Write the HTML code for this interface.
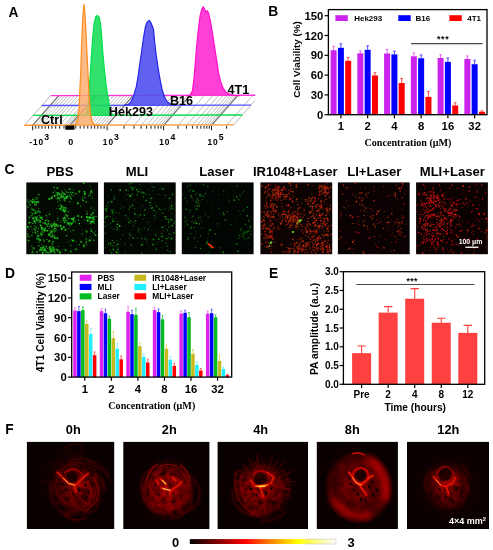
<!DOCTYPE html>
<html><head><meta charset="utf-8"><title>Figure</title>
<style>html,body{margin:0;padding:0;background:#fff}svg{display:block}</style>
</head><body>
<svg width="493" height="550" viewBox="0 0 493 550">
<defs>
<filter id="b05" x="-30%" y="-30%" width="160%" height="160%"><feGaussianBlur stdDeviation="0.5"/></filter>
<filter id="b1" x="-30%" y="-30%" width="160%" height="160%"><feGaussianBlur stdDeviation="0.7"/></filter>
<filter id="b2" x="-30%" y="-30%" width="160%" height="160%"><feGaussianBlur stdDeviation="1.3"/></filter>
<filter id="b3" x="-30%" y="-30%" width="160%" height="160%"><feGaussianBlur stdDeviation="2.5"/></filter>
<filter id="b03" x="-30%" y="-30%" width="160%" height="160%"><feGaussianBlur stdDeviation="0.3"/></filter>
<filter id="b15" x="-30%" y="-30%" width="160%" height="160%"><feGaussianBlur stdDeviation="1.0"/></filter>
<filter id="nz0" x="0" y="0" width="100%" height="100%"><feTurbulence type="fractalNoise" baseFrequency="0.17" numOctaves="3" seed="3" result="t"/><feColorMatrix in="t" type="matrix" values="0 0 0 0 1  0 0 0 0 0  0 0 0 0 0  2.2 0 0 0 -0.45" result="a"/><feComposite in="SourceGraphic" in2="a" operator="in"/><feGaussianBlur stdDeviation="0.5"/></filter>
<filter id="nz1" x="0" y="0" width="100%" height="100%"><feTurbulence type="fractalNoise" baseFrequency="0.18" numOctaves="3" seed="8" result="t"/><feColorMatrix in="t" type="matrix" values="0 0 0 0 1  0 0 0 0 0  0 0 0 0 0  2.2 0 0 0 -0.45" result="a"/><feComposite in="SourceGraphic" in2="a" operator="in"/><feGaussianBlur stdDeviation="0.5"/></filter>
<filter id="nz2" x="0" y="0" width="100%" height="100%"><feTurbulence type="fractalNoise" baseFrequency="0.18" numOctaves="3" seed="21" result="t"/><feColorMatrix in="t" type="matrix" values="0 0 0 0 1  0 0 0 0 0  0 0 0 0 0  2.2 0 0 0 -0.45" result="a"/><feComposite in="SourceGraphic" in2="a" operator="in"/><feGaussianBlur stdDeviation="0.5"/></filter>
<filter id="nz3" x="0" y="0" width="100%" height="100%"><feTurbulence type="fractalNoise" baseFrequency="0.1" numOctaves="3" seed="5" result="t"/><feColorMatrix in="t" type="matrix" values="0 0 0 0 1  0 0 0 0 0  0 0 0 0 0  2.2 0 0 0 -0.45" result="a"/><feComposite in="SourceGraphic" in2="a" operator="in"/><feGaussianBlur stdDeviation="0.5"/></filter>
<filter id="nz4" x="0" y="0" width="100%" height="100%"><feTurbulence type="fractalNoise" baseFrequency="0.15" numOctaves="3" seed="13" result="t"/><feColorMatrix in="t" type="matrix" values="0 0 0 0 1  0 0 0 0 0  0 0 0 0 0  2.2 0 0 0 -0.45" result="a"/><feComposite in="SourceGraphic" in2="a" operator="in"/><feGaussianBlur stdDeviation="0.5"/></filter>
<linearGradient id="hot" x1="0" x2="1" y1="0" y2="0"><stop offset="0" stop-color="#000"/><stop offset="0.12" stop-color="#500000"/><stop offset="0.38" stop-color="#ff0000"/><stop offset="0.55" stop-color="#ff8000"/><stop offset="0.74" stop-color="#ffff00"/><stop offset="0.88" stop-color="#ffff90"/><stop offset="1" stop-color="#ffffff"/></linearGradient>
</defs>
<rect width="493" height="550" fill="#fff"/>
<text x="8.60" y="16.90" font-size="13.8" font-weight="bold" text-anchor="start" fill="#000" font-family="'Liberation Sans', sans-serif" >A</text>
<text x="268.30" y="16.20" font-size="13.8" font-weight="bold" text-anchor="start" fill="#000" font-family="'Liberation Sans', sans-serif" >B</text>
<text x="4.60" y="174.00" font-size="13.8" font-weight="bold" text-anchor="start" fill="#000" font-family="'Liberation Sans', sans-serif" >C</text>
<text x="5.00" y="277.90" font-size="13.8" font-weight="bold" text-anchor="start" fill="#000" font-family="'Liberation Sans', sans-serif" >D</text>
<text x="269.00" y="277.60" font-size="13.8" font-weight="bold" text-anchor="start" fill="#000" font-family="'Liberation Sans', sans-serif" >E</text>
<text x="5.30" y="434.20" font-size="13.8" font-weight="bold" text-anchor="start" fill="#000" font-family="'Liberation Sans', sans-serif" >F</text>
<g id="pA">
<clipPath id="cA"><rect x="0" y="0" width="255.3" height="160"/></clipPath>
<g clip-path="url(#cA)">
<path d="M64.00 125.30l26.10 -29.70 M59.63 125.30l26.10 -29.70 M55.70 125.30l26.10 -29.70 M52.03 125.30l26.10 -29.70 M48.53 125.30l26.10 -29.70 M45.18 125.30l26.10 -29.70 M41.93 125.30l26.10 -29.70 M38.78 125.30l26.10 -29.70 M35.71 125.30l26.10 -29.70 M32.70 125.30l26.10 -29.70 M65.90 125.30l26.10 -29.70 M67.90 125.30l26.10 -29.70 M69.90 125.30l26.10 -29.70 M71.90 125.30l26.10 -29.70 M73.90 125.30l26.10 -29.70 M75.80 125.30l26.10 -29.70 M80.17 125.30l26.10 -29.70 M84.10 125.30l26.10 -29.70 M87.77 125.30l26.10 -29.70 M91.27 125.30l26.10 -29.70 M94.62 125.30l26.10 -29.70 M97.87 125.30l26.10 -29.70 M101.02 125.30l26.10 -29.70 M104.09 125.30l26.10 -29.70 M107.10 125.30l26.10 -29.70 M124.11 125.30l26.10 -29.70 M134.06 125.30l26.10 -29.70 M141.12 125.30l26.10 -29.70 M146.59 125.30l26.10 -29.70 M151.07 125.30l26.10 -29.70 M154.85 125.30l26.10 -29.70 M158.12 125.30l26.10 -29.70 M161.01 125.30l26.10 -29.70 M163.60 125.30l26.10 -29.70 M178.02 125.30l26.10 -29.70 M186.45 125.30l26.10 -29.70 M192.44 125.30l26.10 -29.70 M197.08 125.30l26.10 -29.70 M200.87 125.30l26.10 -29.70 M204.08 125.30l26.10 -29.70 M206.86 125.30l26.10 -29.70 M209.31 125.30l26.10 -29.70 M211.50 125.30l26.10 -29.70 M226.59 125.30l26.10 -29.70" stroke="#8c8c8c" stroke-width="0.55" fill="none"/>
<path d="M32.20 125.30l26.10 -29.70 M33.20 125.30l26.10 -29.70 M69.40 125.30l26.10 -29.70 M70.40 125.30l26.10 -29.70 M106.60 125.30l26.10 -29.70 M107.60 125.30l26.10 -29.70 M163.10 125.30l26.10 -29.70 M164.10 125.30l26.10 -29.70 M211.00 125.30l26.10 -29.70 M212.00 125.30l26.10 -29.70" stroke="#444" stroke-width="0.6" fill="none"/>
<path d="M24.5 125.3l26.10 -29.70M233.6 124.89999999999999l26.10 -29.70" stroke="#888" stroke-width="0.6" fill="none"/>
<path d="M50.60 95.60L259.70 95.20" stroke="#ff33dd" stroke-width="1.4" fill="none"/>
<path d="M186.00 95.60 L190.00 95.40 L192.40 90.90 L193.60 81.80 L194.50 72.70 L195.50 60.00 L196.70 45.50 L198.20 30.90 L200.00 16.40 L201.80 9.10 L203.30 6.70 L205.10 10.00 L205.80 12.40 L207.30 10.70 L208.70 13.60 L210.50 21.80 L212.70 34.50 L214.90 49.10 L216.90 61.80 L218.50 72.70 L220.40 80.90 L222.70 87.30 L225.50 91.80 L229.10 94.20 L233.60 95.30 L240.00 95.60 Z" fill="#ff38d4" fill-opacity="0.96" stroke="none"/>
<path d="M186.00 95.60 L190.00 95.40 L192.40 90.90 L193.60 81.80 L194.50 72.70 L195.50 60.00 L196.70 45.50 L198.20 30.90 L200.00 16.40 L201.80 9.10 L203.30 6.70 L205.10 10.00 L205.80 12.40 L207.30 10.70 L208.70 13.60 L210.50 21.80 L212.70 34.50 L214.90 49.10 L216.90 61.80 L218.50 72.70 L220.40 80.90 L222.70 87.30 L225.50 91.80 L229.10 94.20 L233.60 95.30 L240.00 95.60" fill="none" stroke="#ff10cc" stroke-width="1.2" stroke-linejoin="round"/>
<path d="M41.90 105.50L251.00 105.10" stroke="#5555ff" stroke-width="1.4" fill="none"/>
<path d="M124.00 105.40 L128.20 104.60 L131.30 101.30 L133.60 95.80 L136.40 86.40 L138.20 75.50 L140.00 62.70 L141.80 50.00 L143.60 37.30 L145.50 26.40 L146.90 22.40 L149.10 20.50 L150.90 22.70 L152.40 26.40 L153.60 30.00 L154.50 40.90 L156.00 53.60 L157.80 66.40 L160.00 79.10 L162.20 90.00 L164.50 97.30 L167.30 101.80 L170.90 104.40 L176.00 105.40 Z" fill="#5050f0" fill-opacity="0.9" stroke="none"/>
<path d="M124.00 105.40 L128.20 104.60 L131.30 101.30 L133.60 95.80 L136.40 86.40 L138.20 75.50 L140.00 62.70 L141.80 50.00 L143.60 37.30 L145.50 26.40 L146.90 22.40 L149.10 20.50 L150.90 22.70 L152.40 26.40 L153.60 30.00 L154.50 40.90 L156.00 53.60 L157.80 66.40 L160.00 79.10 L162.20 90.00 L164.50 97.30 L167.30 101.80 L170.90 104.40 L176.00 105.40" fill="none" stroke="#2525e8" stroke-width="1.2" stroke-linejoin="round"/>
<path d="M33.20 115.40L242.30 115.00" stroke="#00dd44" stroke-width="1.4" fill="none"/>
<path d="M82.00 115.30 L85.80 114.50 L87.30 109.00 L88.20 104.00 L89.30 89.80 L90.50 70.90 L91.70 52.00 L92.90 35.50 L94.10 23.60 L95.70 17.00 L97.40 15.40 L99.30 17.70 L100.50 23.60 L101.60 35.50 L102.80 52.00 L104.50 70.90 L106.40 87.50 L108.30 99.30 L109.90 108.70 L111.30 113.60 L113.50 115.20 L117.00 115.30 Z" fill="#14dd58" fill-opacity="0.88" stroke="none"/>
<path d="M82.00 115.30 L85.80 114.50 L87.30 109.00 L88.20 104.00 L89.30 89.80 L90.50 70.90 L91.70 52.00 L92.90 35.50 L94.10 23.60 L95.70 17.00 L97.40 15.40 L99.30 17.70 L100.50 23.60 L101.60 35.50 L102.80 52.00 L104.50 70.90 L106.40 87.50 L108.30 99.30 L109.90 108.70 L111.30 113.60 L113.50 115.20 L117.00 115.30" fill="none" stroke="#00e04a" stroke-width="1.2" stroke-linejoin="round"/>
<path d="M24.50 125.30L233.60 124.90" stroke="#ff9933" stroke-width="1.4" fill="none"/>
<path d="M71.00 125.30 L75.60 124.30 L78.00 118.20 L79.20 106.40 L79.90 89.80 L80.80 70.90 L81.50 47.30 L82.50 23.60 L83.40 9.50 L83.90 4.50 L84.60 9.50 L85.60 23.60 L86.70 47.30 L87.90 70.90 L89.10 94.60 L90.30 111.10 L91.70 120.60 L93.80 124.30 L96.90 125.20 L100.00 125.30 Z" fill="#fbaa68" fill-opacity="0.8" stroke="none"/>
<path d="M71.00 125.30 L75.60 124.30 L78.00 118.20 L79.20 106.40 L79.90 89.80 L80.80 70.90 L81.50 47.30 L82.50 23.60 L83.40 9.50 L83.90 4.50 L84.60 9.50 L85.60 23.60 L86.70 47.30 L87.90 70.90 L89.10 94.60 L90.30 111.10 L91.70 120.60 L93.80 124.30 L96.90 125.20 L100.00 125.30" fill="none" stroke="#ff8c1a" stroke-width="1.2" stroke-linejoin="round"/>
</g>
<path d="M64.00 125.90v2.8 M59.63 125.90v2.8 M55.70 125.90v2.8 M52.03 125.90v2.8 M48.53 125.90v2.8 M45.18 125.90v2.8 M41.93 125.90v2.8 M38.78 125.90v2.8 M35.71 125.90v2.8 M32.70 125.90v4.4 M75.80 125.90v2.8 M80.17 125.90v2.8 M84.10 125.90v2.8 M87.77 125.90v2.8 M91.27 125.90v2.8 M94.62 125.90v2.8 M97.87 125.90v2.8 M101.02 125.90v2.8 M104.09 125.90v2.8 M107.10 125.90v4.4 M124.11 125.90v2.8 M134.06 125.90v2.8 M141.12 125.90v2.8 M146.59 125.90v2.8 M151.07 125.90v2.8 M154.85 125.90v2.8 M158.12 125.90v2.8 M161.01 125.90v2.8 M163.60 125.90v4.4 M178.02 125.90v2.8 M186.45 125.90v2.8 M192.44 125.90v2.8 M197.08 125.90v2.8 M200.87 125.90v2.8 M204.08 125.90v2.8 M206.86 125.90v2.8 M209.31 125.90v2.8 M211.50 125.90v4.4 M226.59 125.90v2.8" stroke="#000" stroke-width="0.9" fill="none"/>
<path d="M65.90 125.60v4.2 M66.90 125.60v4.2 M67.90 125.60v4.2 M68.90 125.60v4.2 M69.90 125.60v4.2 M70.90 125.60v4.2 M71.90 125.60v4.2 M72.90 125.60v4.2 M73.90 125.60v4.2" stroke="#000" stroke-width="1.1" fill="none"/>
<text x="41.00" y="123.60" font-size="12.6" font-weight="bold" text-anchor="start" fill="#000" font-family="'Liberation Sans', sans-serif" >Ctrl</text>
<text x="108.80" y="115.80" font-size="12.6" font-weight="bold" text-anchor="start" fill="#000" font-family="'Liberation Sans', sans-serif" >Hek293</text>
<text x="170.00" y="104.60" font-size="12.6" font-weight="bold" text-anchor="start" fill="#000" font-family="'Liberation Sans', sans-serif" >B16</text>
<text x="227.60" y="94.10" font-size="12.6" font-weight="bold" text-anchor="start" fill="#000" font-family="'Liberation Sans', sans-serif" >4T1</text>
<text x="29.20" y="144.80" font-size="8.3" font-weight="bold" font-family="'Liberation Sans', sans-serif" letter-spacing="1.0">-10<tspan dy="-5.3" font-size="8.7">3</tspan></text>
<text x="70.80" y="144.80" font-size="9.0" font-weight="bold" text-anchor="middle" fill="#000" font-family="'Liberation Sans', sans-serif" >0</text>
<text x="102.80" y="144.80" font-size="8.3" font-weight="bold" font-family="'Liberation Sans', sans-serif" letter-spacing="1.0">10<tspan dy="-5.3" font-size="8.7">3</tspan></text>
<text x="159.20" y="144.80" font-size="8.3" font-weight="bold" font-family="'Liberation Sans', sans-serif" letter-spacing="1.0">10<tspan dy="-5.3" font-size="8.7">4</tspan></text>
<text x="207.40" y="144.80" font-size="8.3" font-weight="bold" font-family="'Liberation Sans', sans-serif" letter-spacing="1.0">10<tspan dy="-5.3" font-size="8.7">5</tspan></text>
</g>
<g id="pB">
<path d="M333.60 50.22V46.26M332.30 46.26h2.6" stroke="#ee55ee" stroke-width="0.9" fill="none"/>
<rect x="330.60" y="50.22" width="6.0" height="64.48" fill="#cc22ee"/>
<path d="M340.90 47.78V43.82M339.60 43.82h2.6" stroke="#3333ff" stroke-width="0.9" fill="none"/>
<rect x="337.90" y="47.78" width="6.0" height="66.92" fill="#0000ff"/>
<path d="M348.20 60.78V57.48M346.90 57.48h2.6" stroke="#ff3333" stroke-width="0.9" fill="none"/>
<rect x="345.20" y="60.78" width="6.0" height="53.92" fill="#ff0000"/>
<path d="M360.35 53.32V51.01M359.05 51.01h2.6" stroke="#ee55ee" stroke-width="0.9" fill="none"/>
<rect x="357.35" y="53.32" width="6.0" height="61.38" fill="#cc22ee"/>
<path d="M367.65 49.82V45.86M366.35 45.86h2.6" stroke="#3333ff" stroke-width="0.9" fill="none"/>
<rect x="364.65" y="49.82" width="6.0" height="64.88" fill="#0000ff"/>
<path d="M374.95 75.43V72.79M373.65 72.79h2.6" stroke="#ff3333" stroke-width="0.9" fill="none"/>
<rect x="371.95" y="75.43" width="6.0" height="39.27" fill="#ff0000"/>
<path d="M387.10 53.45V49.49M385.80 49.49h2.6" stroke="#ee55ee" stroke-width="0.9" fill="none"/>
<rect x="384.10" y="53.45" width="6.0" height="61.25" fill="#cc22ee"/>
<path d="M394.40 54.38V51.08M393.10 51.08h2.6" stroke="#3333ff" stroke-width="0.9" fill="none"/>
<rect x="391.40" y="54.38" width="6.0" height="60.32" fill="#0000ff"/>
<path d="M401.70 83.02V78.40M400.40 78.40h2.6" stroke="#ff3333" stroke-width="0.9" fill="none"/>
<rect x="398.70" y="83.02" width="6.0" height="31.68" fill="#ff0000"/>
<path d="M413.85 56.29V52.99M412.55 52.99h2.6" stroke="#ee55ee" stroke-width="0.9" fill="none"/>
<rect x="410.85" y="56.29" width="6.0" height="58.41" fill="#cc22ee"/>
<path d="M421.15 58.27V54.97M419.85 54.97h2.6" stroke="#3333ff" stroke-width="0.9" fill="none"/>
<rect x="418.15" y="58.27" width="6.0" height="56.43" fill="#0000ff"/>
<path d="M428.45 96.88V91.60M427.15 91.60h2.6" stroke="#ff3333" stroke-width="0.9" fill="none"/>
<rect x="425.45" y="96.88" width="6.0" height="17.82" fill="#ff0000"/>
<path d="M440.60 57.94V54.64M439.30 54.64h2.6" stroke="#ee55ee" stroke-width="0.9" fill="none"/>
<rect x="437.60" y="57.94" width="6.0" height="56.76" fill="#cc22ee"/>
<path d="M447.90 61.90V57.94M446.60 57.94h2.6" stroke="#3333ff" stroke-width="0.9" fill="none"/>
<rect x="444.90" y="61.90" width="6.0" height="52.80" fill="#0000ff"/>
<path d="M455.20 105.46V102.82M453.90 102.82h2.6" stroke="#ff3333" stroke-width="0.9" fill="none"/>
<rect x="452.20" y="105.46" width="6.0" height="9.24" fill="#ff0000"/>
<path d="M467.35 58.93V55.96M466.05 55.96h2.6" stroke="#ee55ee" stroke-width="0.9" fill="none"/>
<rect x="464.35" y="58.93" width="6.0" height="55.77" fill="#cc22ee"/>
<path d="M474.65 64.21V60.25M473.35 60.25h2.6" stroke="#3333ff" stroke-width="0.9" fill="none"/>
<rect x="471.65" y="64.21" width="6.0" height="50.49" fill="#0000ff"/>
<path d="M481.95 111.73V110.74M480.65 110.74h2.6" stroke="#ff3333" stroke-width="0.9" fill="none"/>
<rect x="478.95" y="111.73" width="6.0" height="2.97" fill="#ff0000"/>
<rect x="328.4" y="9.6" width="158.60000000000002" height="105.10000000000001" fill="none" stroke="#000" stroke-width="1.3"/>
<path d="M324.59999999999997 114.70H328.4" stroke="#000" stroke-width="1.2"/>
<text x="323.40" y="118.70" font-size="11.3" font-weight="bold" text-anchor="end" fill="#000" font-family="'Liberation Sans', sans-serif" >0</text>
<path d="M324.59999999999997 94.90H328.4" stroke="#000" stroke-width="1.2"/>
<text x="323.40" y="98.90" font-size="11.3" font-weight="bold" text-anchor="end" fill="#000" font-family="'Liberation Sans', sans-serif" >30</text>
<path d="M324.59999999999997 75.10H328.4" stroke="#000" stroke-width="1.2"/>
<text x="323.40" y="79.10" font-size="11.3" font-weight="bold" text-anchor="end" fill="#000" font-family="'Liberation Sans', sans-serif" >60</text>
<path d="M324.59999999999997 55.30H328.4" stroke="#000" stroke-width="1.2"/>
<text x="323.40" y="59.30" font-size="11.3" font-weight="bold" text-anchor="end" fill="#000" font-family="'Liberation Sans', sans-serif" >90</text>
<path d="M324.59999999999997 35.50H328.4" stroke="#000" stroke-width="1.2"/>
<text x="323.40" y="39.50" font-size="11.3" font-weight="bold" text-anchor="end" fill="#000" font-family="'Liberation Sans', sans-serif" >120</text>
<path d="M324.59999999999997 15.70H328.4" stroke="#000" stroke-width="1.2"/>
<text x="323.40" y="19.70" font-size="11.3" font-weight="bold" text-anchor="end" fill="#000" font-family="'Liberation Sans', sans-serif" >150</text>
<path d="M340.90 114.7v3.6" stroke="#000" stroke-width="1.2"/>
<text x="340.90" y="130.30" font-size="11.3" font-weight="bold" text-anchor="middle" fill="#000" font-family="'Liberation Sans', sans-serif" >1</text>
<path d="M367.65 114.7v3.6" stroke="#000" stroke-width="1.2"/>
<text x="367.65" y="130.30" font-size="11.3" font-weight="bold" text-anchor="middle" fill="#000" font-family="'Liberation Sans', sans-serif" >2</text>
<path d="M394.40 114.7v3.6" stroke="#000" stroke-width="1.2"/>
<text x="394.40" y="130.30" font-size="11.3" font-weight="bold" text-anchor="middle" fill="#000" font-family="'Liberation Sans', sans-serif" >4</text>
<path d="M421.15 114.7v3.6" stroke="#000" stroke-width="1.2"/>
<text x="421.15" y="130.30" font-size="11.3" font-weight="bold" text-anchor="middle" fill="#000" font-family="'Liberation Sans', sans-serif" >8</text>
<path d="M447.90 114.7v3.6" stroke="#000" stroke-width="1.2"/>
<text x="447.90" y="130.30" font-size="11.3" font-weight="bold" text-anchor="middle" fill="#000" font-family="'Liberation Sans', sans-serif" >16</text>
<path d="M474.65 114.7v3.6" stroke="#000" stroke-width="1.2"/>
<text x="474.65" y="130.30" font-size="11.3" font-weight="bold" text-anchor="middle" fill="#000" font-family="'Liberation Sans', sans-serif" >32</text>
<text x="408.00" y="145.70" font-size="10.15" font-weight="bold" text-anchor="middle" fill="#000" font-family="'Liberation Serif', serif" >Concentration (μM)</text>
<text transform="translate(300.1,59.5) rotate(-90)" font-size="9.9" font-weight="bold" text-anchor="middle" font-family="'Liberation Sans', sans-serif">Cell Viability (%)</text>
<rect x="335.4" y="15.2" width="12.4" height="5.8" fill="#cc22ee"/>
<text x="354.20" y="21.00" font-size="8.0" font-weight="bold" text-anchor="start" fill="#000" font-family="'Liberation Sans', sans-serif" >Hek293</text>
<rect x="398.3" y="15.2" width="12.4" height="5.8" fill="#0000ff"/>
<text x="415.60" y="21.00" font-size="8.0" font-weight="bold" text-anchor="start" fill="#000" font-family="'Liberation Sans', sans-serif" >B16</text>
<rect x="449.4" y="15.2" width="12.4" height="5.8" fill="#ff0000"/>
<text x="467.20" y="21.00" font-size="8.0" font-weight="bold" text-anchor="start" fill="#000" font-family="'Liberation Sans', sans-serif" >4T1</text>
<path d="M411 43.6H482.5" stroke="#4a4a4a" stroke-width="1.4"/>
<text x="443.20" y="42.40" font-size="8.8" font-weight="bold" text-anchor="middle" fill="#000" font-family="'Liberation Sans', sans-serif" letter-spacing="0.7">***</text>
</g>
<g id="pC">
<text x="60.00" y="175.80" font-size="13.1" font-weight="bold" text-anchor="middle" fill="#000" font-family="'Liberation Sans', sans-serif" >PBS</text>
<text x="137.00" y="175.80" font-size="13.1" font-weight="bold" text-anchor="middle" fill="#000" font-family="'Liberation Sans', sans-serif" >MLI</text>
<text x="216.80" y="175.80" font-size="13.1" font-weight="bold" text-anchor="middle" fill="#000" font-family="'Liberation Sans', sans-serif" >Laser</text>
<text x="295.30" y="175.80" font-size="13.1" font-weight="bold" text-anchor="middle" fill="#000" font-family="'Liberation Sans', sans-serif" >IR1048+Laser</text>
<text x="374.30" y="175.80" font-size="13.1" font-weight="bold" text-anchor="middle" fill="#000" font-family="'Liberation Sans', sans-serif" >LI+Laser</text>
<text x="452.30" y="175.80" font-size="13.1" font-weight="bold" text-anchor="middle" fill="#000" font-family="'Liberation Sans', sans-serif" >MLI+Laser</text>
<rect x="26.3" y="182.4" width="71.8" height="71.8" fill="#020a02"/>
<rect x="103.9" y="182.4" width="71.8" height="71.8" fill="#020702"/>
<rect x="181.8" y="182.4" width="71.8" height="71.8" fill="#020602"/>
<rect x="260.4" y="182.4" width="71.8" height="71.8" fill="#0d0302"/>
<rect x="337.9" y="182.4" width="71.8" height="71.8" fill="#0a0202"/>
<rect x="416.1" y="182.4" width="71.8" height="71.8" fill="#0b0101"/>
<g filter="url(#b05)">
<circle cx="94.1" cy="216.6" r="0.74" fill="rgb(24,190,17)"/>
<circle cx="66.9" cy="220.0" r="0.69" fill="rgb(17,133,29)"/>
<circle cx="54.8" cy="237.9" r="1.12" fill="rgb(22,198,31)"/>
<circle cx="92.9" cy="219.1" r="0.58" fill="rgb(41,118,22)"/>
<circle cx="40.1" cy="249.4" r="0.73" fill="rgb(17,199,26)"/>
<circle cx="40.4" cy="221.1" r="0.52" fill="rgb(32,147,36)"/>
<circle cx="43.0" cy="222.9" r="0.66" fill="rgb(36,152,14)"/>
<circle cx="71.5" cy="239.9" r="0.66" fill="rgb(24,124,36)"/>
<circle cx="36.1" cy="220.4" r="0.67" fill="rgb(20,130,19)"/>
<circle cx="54.9" cy="196.1" r="0.87" fill="rgb(40,139,28)"/>
<circle cx="43.4" cy="239.5" r="0.53" fill="rgb(25,168,12)"/>
<circle cx="52.4" cy="231.2" r="1.04" fill="rgb(23,141,24)"/>
<circle cx="69.5" cy="223.8" r="0.51" fill="rgb(25,133,26)"/>
<circle cx="46.7" cy="252.0" r="0.51" fill="rgb(25,126,30)"/>
<circle cx="56.1" cy="198.6" r="0.53" fill="rgb(42,190,38)"/>
<circle cx="50.8" cy="251.4" r="1.06" fill="rgb(27,193,35)"/>
<circle cx="53.3" cy="249.2" r="1.10" fill="rgb(17,176,25)"/>
<circle cx="57.3" cy="195.1" r="0.91" fill="rgb(28,165,25)"/>
<circle cx="86.4" cy="201.9" r="0.90" fill="rgb(20,123,19)"/>
<circle cx="35.2" cy="232.7" r="0.56" fill="rgb(13,141,14)"/>
<circle cx="72.3" cy="222.9" r="0.65" fill="rgb(20,188,14)"/>
<circle cx="95.7" cy="235.0" r="0.87" fill="rgb(20,189,30)"/>
<circle cx="70.7" cy="192.6" r="1.11" fill="rgb(16,117,27)"/>
<circle cx="37.4" cy="221.0" r="0.70" fill="rgb(14,162,40)"/>
<circle cx="79.2" cy="191.7" r="1.11" fill="rgb(34,158,14)"/>
<circle cx="91.4" cy="231.1" r="0.96" fill="rgb(12,178,31)"/>
<circle cx="53.4" cy="224.2" r="0.52" fill="rgb(28,129,40)"/>
<circle cx="42.4" cy="217.1" r="0.70" fill="rgb(17,174,28)"/>
<circle cx="56.2" cy="193.1" r="0.57" fill="rgb(19,204,27)"/>
<circle cx="61.3" cy="206.3" r="0.93" fill="rgb(40,158,27)"/>
<circle cx="34.9" cy="217.3" r="0.68" fill="rgb(24,211,40)"/>
<circle cx="36.1" cy="202.1" r="0.53" fill="rgb(14,159,34)"/>
<circle cx="52.2" cy="232.5" r="0.71" fill="rgb(38,142,24)"/>
<circle cx="65.5" cy="229.8" r="1.13" fill="rgb(32,172,14)"/>
<circle cx="31.3" cy="215.7" r="0.60" fill="rgb(31,160,32)"/>
<circle cx="66.9" cy="198.0" r="0.50" fill="rgb(27,149,36)"/>
<circle cx="57.4" cy="192.8" r="0.83" fill="rgb(35,198,14)"/>
<circle cx="30.8" cy="204.5" r="0.50" fill="rgb(14,175,17)"/>
<circle cx="34.1" cy="248.2" r="0.73" fill="rgb(22,211,24)"/>
<circle cx="38.2" cy="239.3" r="1.05" fill="rgb(20,164,26)"/>
<circle cx="92.0" cy="192.3" r="0.78" fill="rgb(33,179,26)"/>
<circle cx="57.3" cy="238.3" r="0.96" fill="rgb(19,206,18)"/>
<circle cx="55.1" cy="225.9" r="1.13" fill="rgb(28,156,34)"/>
<circle cx="40.4" cy="222.0" r="0.77" fill="rgb(29,213,27)"/>
<circle cx="42.0" cy="244.7" r="0.68" fill="rgb(23,119,29)"/>
<circle cx="51.6" cy="251.2" r="0.74" fill="rgb(45,207,38)"/>
<circle cx="74.2" cy="217.8" r="0.87" fill="rgb(26,212,26)"/>
<circle cx="35.5" cy="213.6" r="0.75" fill="rgb(28,186,21)"/>
<circle cx="54.8" cy="230.5" r="0.61" fill="rgb(45,133,20)"/>
<circle cx="28.5" cy="202.5" r="0.81" fill="rgb(14,118,28)"/>
<circle cx="69.7" cy="201.8" r="0.70" fill="rgb(29,166,19)"/>
<circle cx="51.3" cy="197.7" r="1.06" fill="rgb(45,175,22)"/>
<circle cx="73.2" cy="222.5" r="0.88" fill="rgb(14,117,18)"/>
<circle cx="60.0" cy="200.4" r="0.58" fill="rgb(18,178,27)"/>
<circle cx="57.3" cy="195.2" r="0.56" fill="rgb(39,182,12)"/>
<circle cx="48.5" cy="223.6" r="0.56" fill="rgb(25,195,28)"/>
<circle cx="89.4" cy="217.4" r="1.07" fill="rgb(34,195,40)"/>
<circle cx="90.3" cy="193.2" r="0.95" fill="rgb(18,139,16)"/>
<circle cx="67.6" cy="197.0" r="0.69" fill="rgb(20,168,18)"/>
<circle cx="41.4" cy="234.5" r="0.87" fill="rgb(19,161,34)"/>
<circle cx="39.4" cy="249.8" r="0.55" fill="rgb(42,124,15)"/>
<circle cx="38.7" cy="245.8" r="0.72" fill="rgb(23,139,15)"/>
<circle cx="64.0" cy="249.5" r="0.52" fill="rgb(20,122,33)"/>
<circle cx="45.9" cy="252.8" r="0.74" fill="rgb(25,170,31)"/>
<circle cx="41.2" cy="235.0" r="0.67" fill="rgb(35,161,24)"/>
<circle cx="69.7" cy="189.2" r="0.96" fill="rgb(17,156,37)"/>
<circle cx="61.7" cy="207.1" r="0.93" fill="rgb(19,150,35)"/>
<circle cx="64.9" cy="207.7" r="0.62" fill="rgb(35,183,36)"/>
<circle cx="64.1" cy="209.8" r="0.96" fill="rgb(42,153,15)"/>
<circle cx="46.9" cy="219.7" r="0.57" fill="rgb(31,200,22)"/>
<circle cx="52.3" cy="225.5" r="0.74" fill="rgb(25,178,34)"/>
<circle cx="49.2" cy="223.1" r="0.52" fill="rgb(28,145,26)"/>
<circle cx="64.3" cy="198.3" r="0.52" fill="rgb(29,147,40)"/>
<circle cx="87.5" cy="220.3" r="1.01" fill="rgb(40,127,37)"/>
<circle cx="87.0" cy="211.3" r="0.66" fill="rgb(36,135,27)"/>
<circle cx="87.7" cy="221.3" r="0.80" fill="rgb(43,169,25)"/>
<circle cx="49.1" cy="228.6" r="0.72" fill="rgb(30,149,33)"/>
<circle cx="39.6" cy="220.0" r="0.51" fill="rgb(38,135,36)"/>
<circle cx="59.6" cy="198.3" r="0.79" fill="rgb(32,207,14)"/>
<circle cx="32.8" cy="199.8" r="0.93" fill="rgb(45,120,15)"/>
<circle cx="78.2" cy="216.0" r="1.13" fill="rgb(19,146,13)"/>
<circle cx="69.9" cy="223.3" r="0.75" fill="rgb(35,130,26)"/>
<circle cx="45.6" cy="220.6" r="0.87" fill="rgb(45,161,38)"/>
<circle cx="94.7" cy="235.1" r="0.58" fill="rgb(44,129,40)"/>
<circle cx="71.7" cy="218.9" r="0.81" fill="rgb(24,207,32)"/>
<circle cx="38.3" cy="202.0" r="0.84" fill="rgb(14,140,32)"/>
<circle cx="31.0" cy="222.5" r="0.52" fill="rgb(29,184,14)"/>
<circle cx="89.6" cy="240.5" r="1.13" fill="rgb(42,176,23)"/>
<circle cx="36.1" cy="211.5" r="0.51" fill="rgb(40,130,37)"/>
<circle cx="50.1" cy="246.8" r="0.92" fill="rgb(21,164,23)"/>
<circle cx="44.9" cy="248.5" r="0.93" fill="rgb(39,138,32)"/>
<circle cx="64.0" cy="194.4" r="0.52" fill="rgb(43,187,38)"/>
<circle cx="36.6" cy="218.0" r="0.56" fill="rgb(17,199,34)"/>
<circle cx="35.3" cy="230.1" r="0.54" fill="rgb(32,160,23)"/>
<circle cx="49.5" cy="214.1" r="0.80" fill="rgb(29,202,26)"/>
<circle cx="49.0" cy="234.8" r="1.12" fill="rgb(45,208,19)"/>
<circle cx="58.9" cy="250.6" r="0.79" fill="rgb(35,139,37)"/>
<circle cx="62.3" cy="207.4" r="0.52" fill="rgb(30,173,37)"/>
<circle cx="86.9" cy="217.2" r="1.12" fill="rgb(39,198,14)"/>
<circle cx="32.6" cy="218.6" r="0.59" fill="rgb(32,128,14)"/>
<circle cx="46.8" cy="239.6" r="0.68" fill="rgb(26,206,27)"/>
<circle cx="91.2" cy="215.1" r="0.63" fill="rgb(20,157,27)"/>
<circle cx="57.3" cy="251.7" r="0.51" fill="rgb(34,211,39)"/>
<circle cx="56.2" cy="226.4" r="0.76" fill="rgb(45,118,23)"/>
<circle cx="43.3" cy="251.3" r="0.54" fill="rgb(22,209,32)"/>
<circle cx="64.4" cy="210.8" r="0.60" fill="rgb(42,122,21)"/>
<circle cx="41.8" cy="227.8" r="1.07" fill="rgb(41,211,12)"/>
<circle cx="90.0" cy="237.0" r="0.55" fill="rgb(27,142,31)"/>
<circle cx="91.3" cy="220.3" r="0.60" fill="rgb(31,137,32)"/>
<circle cx="44.3" cy="250.2" r="1.04" fill="rgb(17,158,27)"/>
<circle cx="52.0" cy="226.2" r="0.96" fill="rgb(45,182,36)"/>
<circle cx="50.0" cy="231.9" r="0.50" fill="rgb(35,175,26)"/>
<circle cx="34.1" cy="232.2" r="0.54" fill="rgb(21,156,20)"/>
<circle cx="84.5" cy="191.8" r="0.92" fill="rgb(29,194,28)"/>
<circle cx="63.7" cy="208.1" r="0.98" fill="rgb(20,134,14)"/>
<circle cx="75.5" cy="193.6" r="0.88" fill="rgb(44,125,21)"/>
<circle cx="65.0" cy="211.8" r="0.95" fill="rgb(25,171,13)"/>
<circle cx="94.3" cy="223.4" r="0.61" fill="rgb(37,154,14)"/>
<circle cx="50.8" cy="232.9" r="0.51" fill="rgb(18,132,33)"/>
<circle cx="78.6" cy="220.1" r="0.84" fill="rgb(36,116,34)"/>
<circle cx="29.1" cy="201.5" r="0.50" fill="rgb(25,207,40)"/>
<circle cx="32.5" cy="223.5" r="0.61" fill="rgb(37,158,29)"/>
<circle cx="35.6" cy="212.6" r="0.62" fill="rgb(42,150,35)"/>
<circle cx="67.7" cy="223.3" r="0.82" fill="rgb(23,131,17)"/>
<circle cx="52.4" cy="196.5" r="0.52" fill="rgb(22,119,15)"/>
<circle cx="36.3" cy="197.2" r="0.54" fill="rgb(36,203,27)"/>
<circle cx="56.5" cy="224.4" r="0.88" fill="rgb(27,215,33)"/>
<circle cx="64.3" cy="201.1" r="0.55" fill="rgb(40,154,15)"/>
<circle cx="31.7" cy="208.0" r="0.52" fill="rgb(22,206,20)"/>
<circle cx="82.2" cy="234.3" r="0.73" fill="rgb(24,133,28)"/>
<circle cx="77.0" cy="249.6" r="0.78" fill="rgb(24,118,36)"/>
<circle cx="27.6" cy="199.9" r="0.62" fill="rgb(29,161,26)"/>
<circle cx="68.9" cy="218.6" r="0.78" fill="rgb(16,184,29)"/>
<circle cx="38.4" cy="235.9" r="1.05" fill="rgb(21,157,15)"/>
<circle cx="46.7" cy="251.2" r="0.80" fill="rgb(41,124,13)"/>
<circle cx="70.8" cy="245.3" r="0.53" fill="rgb(36,211,31)"/>
<circle cx="53.6" cy="250.1" r="0.71" fill="rgb(45,133,24)"/>
<circle cx="50.1" cy="225.9" r="0.58" fill="rgb(15,157,32)"/>
<circle cx="38.6" cy="229.0" r="0.73" fill="rgb(42,128,23)"/>
<circle cx="83.7" cy="183.3" r="0.92" fill="rgb(41,177,38)"/>
<circle cx="75.9" cy="241.6" r="0.53" fill="rgb(45,129,22)"/>
<circle cx="73.0" cy="219.6" r="0.51" fill="rgb(39,207,35)"/>
<circle cx="38.5" cy="211.1" r="1.03" fill="rgb(19,146,39)"/>
<circle cx="68.1" cy="222.8" r="0.88" fill="rgb(27,182,29)"/>
<circle cx="51.6" cy="225.6" r="1.07" fill="rgb(35,200,39)"/>
<circle cx="93.3" cy="222.3" r="0.68" fill="rgb(16,130,15)"/>
<circle cx="68.4" cy="192.5" r="0.70" fill="rgb(27,152,35)"/>
<circle cx="44.8" cy="223.2" r="0.98" fill="rgb(21,165,23)"/>
<circle cx="31.8" cy="209.7" r="0.61" fill="rgb(43,156,16)"/>
<circle cx="96.5" cy="216.3" r="0.56" fill="rgb(15,152,18)"/>
<circle cx="50.2" cy="249.6" r="0.83" fill="rgb(24,204,29)"/>
<circle cx="64.2" cy="207.7" r="0.52" fill="rgb(32,207,40)"/>
<circle cx="72.7" cy="219.1" r="1.11" fill="rgb(40,214,25)"/>
<circle cx="31.1" cy="212.2" r="0.56" fill="rgb(27,138,28)"/>
<circle cx="42.7" cy="253.0" r="1.04" fill="rgb(45,190,19)"/>
<circle cx="90.6" cy="195.4" r="0.57" fill="rgb(17,131,26)"/>
<circle cx="57.9" cy="220.3" r="0.75" fill="rgb(12,120,31)"/>
<circle cx="87.2" cy="220.2" r="0.54" fill="rgb(24,211,19)"/>
<circle cx="48.3" cy="235.7" r="0.54" fill="rgb(41,119,36)"/>
<circle cx="64.0" cy="194.6" r="0.51" fill="rgb(35,214,22)"/>
<circle cx="41.6" cy="249.5" r="1.01" fill="rgb(45,202,35)"/>
<circle cx="38.8" cy="238.4" r="0.54" fill="rgb(39,192,19)"/>
<circle cx="90.7" cy="223.4" r="0.90" fill="rgb(43,148,29)"/>
<circle cx="90.1" cy="218.3" r="0.80" fill="rgb(15,206,30)"/>
<circle cx="83.8" cy="244.7" r="0.81" fill="rgb(44,170,26)"/>
<circle cx="52.4" cy="250.2" r="0.55" fill="rgb(27,196,31)"/>
<circle cx="40.0" cy="220.7" r="0.82" fill="rgb(28,182,36)"/>
<circle cx="63.9" cy="193.5" r="0.58" fill="rgb(43,135,34)"/>
<circle cx="82.5" cy="198.9" r="0.71" fill="rgb(25,204,34)"/>
<circle cx="29.3" cy="217.5" r="0.93" fill="rgb(21,132,35)"/>
<circle cx="53.9" cy="250.4" r="1.05" fill="rgb(17,133,24)"/>
<circle cx="81.7" cy="217.1" r="0.86" fill="rgb(26,206,21)"/>
<circle cx="91.1" cy="221.9" r="1.09" fill="rgb(31,161,22)"/>
<circle cx="92.6" cy="198.1" r="0.54" fill="rgb(15,189,35)"/>
<circle cx="42.8" cy="228.9" r="1.04" fill="rgb(37,174,38)"/>
<circle cx="56.4" cy="225.3" r="0.58" fill="rgb(22,185,27)"/>
<circle cx="29.9" cy="204.9" r="0.69" fill="rgb(23,195,39)"/>
<circle cx="90.0" cy="218.8" r="0.59" fill="rgb(13,150,28)"/>
<circle cx="34.8" cy="221.6" r="1.09" fill="rgb(20,161,36)"/>
<circle cx="72.4" cy="218.4" r="0.58" fill="rgb(15,181,21)"/>
<circle cx="35.9" cy="204.8" r="0.80" fill="rgb(25,119,21)"/>
<circle cx="67.3" cy="216.8" r="0.76" fill="rgb(40,155,33)"/>
<circle cx="90.9" cy="228.9" r="0.70" fill="rgb(36,132,28)"/>
<circle cx="32.4" cy="208.9" r="0.57" fill="rgb(13,120,35)"/>
<circle cx="94.1" cy="210.1" r="0.61" fill="rgb(16,200,39)"/>
<circle cx="29.0" cy="222.9" r="1.03" fill="rgb(28,145,14)"/>
<circle cx="54.7" cy="195.5" r="1.08" fill="rgb(43,151,34)"/>
<circle cx="61.3" cy="209.9" r="0.54" fill="rgb(27,200,28)"/>
<circle cx="34.2" cy="220.9" r="0.79" fill="rgb(31,204,34)"/>
<circle cx="91.1" cy="191.0" r="1.06" fill="rgb(29,166,13)"/>
<circle cx="67.8" cy="196.0" r="0.65" fill="rgb(28,153,38)"/>
<circle cx="60.2" cy="208.9" r="1.11" fill="rgb(13,161,30)"/>
<circle cx="34.7" cy="204.7" r="0.76" fill="rgb(38,193,14)"/>
<circle cx="53.9" cy="247.9" r="1.06" fill="rgb(20,119,33)"/>
<circle cx="28.8" cy="228.8" r="0.54" fill="rgb(29,139,19)"/>
<circle cx="59.9" cy="252.5" r="1.04" fill="rgb(33,203,20)"/>
<circle cx="83.8" cy="246.3" r="0.88" fill="rgb(22,202,18)"/>
<circle cx="61.5" cy="206.2" r="0.78" fill="rgb(38,162,21)"/>
<circle cx="27.8" cy="234.2" r="0.64" fill="rgb(23,205,28)"/>
<circle cx="39.4" cy="215.5" r="0.86" fill="rgb(22,120,31)"/>
<circle cx="53.9" cy="250.6" r="0.73" fill="rgb(37,203,20)"/>
<circle cx="32.7" cy="199.1" r="0.63" fill="rgb(25,212,38)"/>
<circle cx="71.4" cy="194.8" r="0.53" fill="rgb(29,209,37)"/>
<circle cx="30.9" cy="200.7" r="0.84" fill="rgb(42,116,30)"/>
<circle cx="53.9" cy="248.9" r="0.59" fill="rgb(37,147,24)"/>
<circle cx="67.3" cy="196.0" r="0.91" fill="rgb(37,130,22)"/>
<circle cx="86.1" cy="243.8" r="0.55" fill="rgb(31,123,26)"/>
<circle cx="47.9" cy="252.7" r="0.82" fill="rgb(21,212,30)"/>
<circle cx="68.2" cy="211.9" r="0.58" fill="rgb(39,177,15)"/>
<circle cx="86.4" cy="245.1" r="0.59" fill="rgb(29,166,22)"/>
<circle cx="66.8" cy="224.5" r="0.51" fill="rgb(12,123,40)"/>
<circle cx="42.9" cy="234.2" r="0.53" fill="rgb(24,215,39)"/>
<circle cx="57.3" cy="198.7" r="0.77" fill="rgb(28,142,20)"/>
<circle cx="36.4" cy="227.5" r="0.78" fill="rgb(15,207,17)"/>
<circle cx="60.0" cy="194.9" r="0.71" fill="rgb(16,141,23)"/>
<circle cx="93.0" cy="213.0" r="0.91" fill="rgb(31,166,37)"/>
<circle cx="40.7" cy="225.7" r="1.09" fill="rgb(37,176,38)"/>
<circle cx="34.3" cy="203.3" r="0.78" fill="rgb(32,144,24)"/>
<circle cx="66.7" cy="235.8" r="0.82" fill="rgb(34,172,21)"/>
<circle cx="86.2" cy="239.0" r="0.63" fill="rgb(23,209,18)"/>
<circle cx="60.7" cy="197.4" r="0.63" fill="rgb(21,134,23)"/>
<circle cx="75.3" cy="222.2" r="0.67" fill="rgb(25,156,12)"/>
<circle cx="36.4" cy="217.7" r="1.14" fill="rgb(42,170,19)"/>
<circle cx="58.3" cy="246.4" r="0.51" fill="rgb(32,164,40)"/>
<circle cx="54.3" cy="223.9" r="0.83" fill="rgb(15,163,18)"/>
<circle cx="30.0" cy="222.3" r="0.68" fill="rgb(19,187,15)"/>
<circle cx="27.9" cy="236.3" r="0.68" fill="rgb(44,164,19)"/>
<circle cx="69.1" cy="223.2" r="0.51" fill="rgb(21,156,29)"/>
<circle cx="51.2" cy="231.0" r="0.91" fill="rgb(37,185,13)"/>
<circle cx="69.7" cy="195.1" r="0.57" fill="rgb(21,198,38)"/>
<circle cx="62.1" cy="197.8" r="0.55" fill="rgb(33,119,20)"/>
<circle cx="36.5" cy="220.4" r="0.68" fill="rgb(29,177,32)"/>
<circle cx="52.1" cy="197.3" r="1.03" fill="rgb(43,124,39)"/>
<circle cx="51.6" cy="249.7" r="1.09" fill="rgb(23,161,15)"/>
<circle cx="31.8" cy="246.2" r="0.60" fill="rgb(23,168,31)"/>
<circle cx="39.0" cy="245.7" r="0.51" fill="rgb(25,198,29)"/>
<circle cx="86.8" cy="231.7" r="0.86" fill="rgb(36,170,12)"/>
<circle cx="45.8" cy="223.8" r="0.85" fill="rgb(25,141,17)"/>
<circle cx="63.0" cy="207.9" r="0.60" fill="rgb(34,148,31)"/>
<circle cx="38.0" cy="219.8" r="0.56" fill="rgb(35,206,39)"/>
<circle cx="55.7" cy="228.6" r="0.68" fill="rgb(38,193,20)"/>
<circle cx="73.7" cy="220.4" r="0.88" fill="rgb(43,145,30)"/>
<circle cx="73.6" cy="189.8" r="0.51" fill="rgb(41,197,19)"/>
<circle cx="54.1" cy="235.8" r="0.80" fill="rgb(16,172,23)"/>
<circle cx="34.8" cy="230.7" r="0.67" fill="rgb(28,131,24)"/>
<circle cx="40.0" cy="212.2" r="0.80" fill="rgb(18,184,26)"/>
<circle cx="58.1" cy="197.7" r="0.90" fill="rgb(34,200,40)"/>
<circle cx="47.4" cy="248.4" r="0.51" fill="rgb(41,136,28)"/>
<circle cx="30.3" cy="217.0" r="0.51" fill="rgb(37,174,37)"/>
<circle cx="36.4" cy="203.7" r="0.65" fill="rgb(44,133,24)"/>
<circle cx="65.6" cy="250.1" r="0.88" fill="rgb(28,215,33)"/>
<circle cx="37.6" cy="231.5" r="0.71" fill="rgb(35,117,39)"/>
<circle cx="51.6" cy="248.9" r="0.67" fill="rgb(19,186,36)"/>
<circle cx="34.1" cy="219.6" r="0.78" fill="rgb(17,131,28)"/>
<circle cx="36.9" cy="216.5" r="0.67" fill="rgb(25,121,30)"/>
<circle cx="84.8" cy="219.9" r="0.52" fill="rgb(21,179,16)"/>
<circle cx="64.0" cy="211.6" r="0.81" fill="rgb(19,206,25)"/>
<circle cx="34.1" cy="201.4" r="0.91" fill="rgb(22,163,21)"/>
<circle cx="66.4" cy="197.1" r="1.12" fill="rgb(14,197,24)"/>
<circle cx="62.0" cy="196.9" r="1.07" fill="rgb(43,157,18)"/>
<circle cx="94.4" cy="233.3" r="0.73" fill="rgb(37,127,32)"/>
<circle cx="49.0" cy="252.7" r="0.68" fill="rgb(36,176,23)"/>
<circle cx="39.1" cy="222.2" r="0.75" fill="rgb(45,135,24)"/>
<circle cx="51.8" cy="225.9" r="0.65" fill="rgb(35,155,27)"/>
<circle cx="63.6" cy="220.2" r="0.91" fill="rgb(38,162,30)"/>
<circle cx="52.6" cy="225.3" r="0.65" fill="rgb(25,153,31)"/>
<circle cx="63.5" cy="196.8" r="0.93" fill="rgb(15,159,39)"/>
<circle cx="32.5" cy="213.8" r="0.68" fill="rgb(37,162,14)"/>
<circle cx="53.1" cy="241.7" r="0.99" fill="rgb(14,157,22)"/>
<circle cx="63.2" cy="210.2" r="1.15" fill="rgb(15,177,24)"/>
<circle cx="95.1" cy="216.3" r="0.50" fill="rgb(25,202,30)"/>
<circle cx="43.5" cy="250.2" r="0.82" fill="rgb(23,124,37)"/>
<circle cx="44.0" cy="240.8" r="0.86" fill="rgb(40,130,22)"/>
<circle cx="45.3" cy="223.0" r="0.64" fill="rgb(19,185,34)"/>
<circle cx="41.6" cy="218.2" r="1.08" fill="rgb(18,142,25)"/>
<circle cx="65.0" cy="207.8" r="0.59" fill="rgb(14,167,40)"/>
<circle cx="46.2" cy="215.8" r="0.73" fill="rgb(36,203,28)"/>
<circle cx="62.0" cy="193.4" r="0.79" fill="rgb(12,140,23)"/>
<circle cx="28.7" cy="240.6" r="0.87" fill="rgb(41,172,23)"/>
<circle cx="62.9" cy="205.8" r="0.52" fill="rgb(26,177,32)"/>
<circle cx="32.6" cy="232.3" r="0.51" fill="rgb(36,147,19)"/>
<circle cx="64.6" cy="218.0" r="1.13" fill="rgb(41,182,24)"/>
<circle cx="33.5" cy="201.3" r="0.61" fill="rgb(14,134,34)"/>
<circle cx="60.7" cy="208.4" r="0.69" fill="rgb(34,212,37)"/>
<circle cx="40.5" cy="217.5" r="1.02" fill="rgb(34,209,15)"/>
<circle cx="67.7" cy="215.5" r="0.65" fill="rgb(35,156,15)"/>
<circle cx="77.9" cy="203.3" r="1.02" fill="rgb(28,208,15)"/>
<circle cx="57.4" cy="194.8" r="0.60" fill="rgb(20,147,20)"/>
<circle cx="35.6" cy="223.1" r="0.74" fill="rgb(22,164,38)"/>
<circle cx="43.0" cy="247.6" r="0.91" fill="rgb(28,183,21)"/>
<circle cx="63.8" cy="227.2" r="1.10" fill="rgb(29,179,30)"/>
<circle cx="93.8" cy="240.2" r="0.78" fill="rgb(16,199,21)"/>
<circle cx="33.6" cy="223.0" r="0.53" fill="rgb(31,162,23)"/>
<circle cx="61.0" cy="194.3" r="0.50" fill="rgb(21,188,40)"/>
<circle cx="51.0" cy="246.4" r="0.51" fill="rgb(23,182,14)"/>
<circle cx="48.1" cy="224.1" r="0.88" fill="rgb(20,168,27)"/>
<circle cx="52.1" cy="236.4" r="1.05" fill="rgb(20,126,40)"/>
<circle cx="33.3" cy="210.0" r="1.13" fill="rgb(39,134,37)"/>
<circle cx="62.9" cy="218.2" r="0.81" fill="rgb(32,193,17)"/>
<circle cx="91.7" cy="218.1" r="0.52" fill="rgb(13,153,25)"/>
<circle cx="46.3" cy="246.6" r="0.79" fill="rgb(17,211,12)"/>
<circle cx="52.2" cy="237.6" r="0.57" fill="rgb(33,159,19)"/>
<circle cx="62.8" cy="192.8" r="0.79" fill="rgb(33,182,28)"/>
<circle cx="70.4" cy="231.2" r="0.55" fill="rgb(25,134,20)"/>
<circle cx="35.9" cy="202.2" r="0.86" fill="rgb(28,193,31)"/>
<circle cx="35.5" cy="201.4" r="0.57" fill="rgb(44,153,22)"/>
<circle cx="36.7" cy="204.8" r="0.52" fill="rgb(44,202,19)"/>
<circle cx="58.9" cy="194.7" r="0.86" fill="rgb(16,123,38)"/>
<circle cx="65.0" cy="189.9" r="0.63" fill="rgb(36,141,21)"/>
<circle cx="37.0" cy="251.9" r="1.07" fill="rgb(43,121,13)"/>
<circle cx="65.3" cy="194.4" r="0.56" fill="rgb(26,178,22)"/>
<circle cx="32.7" cy="252.3" r="1.10" fill="rgb(27,139,16)"/>
<circle cx="38.7" cy="194.5" r="0.86" fill="rgb(35,162,35)"/>
<circle cx="37.9" cy="219.1" r="0.55" fill="rgb(15,159,15)"/>
<circle cx="65.8" cy="210.4" r="0.76" fill="rgb(40,187,36)"/>
<circle cx="38.7" cy="208.4" r="0.50" fill="rgb(44,154,17)"/>
<circle cx="33.1" cy="218.2" r="0.96" fill="rgb(41,191,23)"/>
<circle cx="45.2" cy="250.3" r="1.10" fill="rgb(13,201,26)"/>
<circle cx="54.3" cy="224.8" r="0.55" fill="rgb(25,209,12)"/>
<circle cx="76.1" cy="220.4" r="0.51" fill="rgb(23,118,22)"/>
<circle cx="39.6" cy="220.6" r="0.82" fill="rgb(42,162,20)"/>
<circle cx="30.8" cy="226.7" r="0.79" fill="rgb(39,168,29)"/>
<circle cx="38.2" cy="201.9" r="0.86" fill="rgb(22,194,26)"/>
<circle cx="50.9" cy="236.2" r="0.90" fill="rgb(37,145,17)"/>
<circle cx="32.4" cy="215.1" r="0.50" fill="rgb(19,176,27)"/>
<circle cx="43.5" cy="246.3" r="0.85" fill="rgb(29,166,27)"/>
<circle cx="84.9" cy="197.6" r="0.73" fill="rgb(15,176,32)"/>
<circle cx="60.2" cy="195.1" r="0.60" fill="rgb(27,121,30)"/>
<circle cx="58.0" cy="218.2" r="0.72" fill="rgb(21,176,21)"/>
<circle cx="31.9" cy="235.5" r="0.85" fill="rgb(27,131,37)"/>
<circle cx="33.7" cy="228.2" r="0.53" fill="rgb(31,175,34)"/>
<circle cx="33.3" cy="247.8" r="0.63" fill="rgb(37,197,32)"/>
<circle cx="52.9" cy="236.4" r="0.60" fill="rgb(31,164,20)"/>
<circle cx="38.0" cy="219.1" r="0.82" fill="rgb(15,131,25)"/>
<circle cx="52.2" cy="244.1" r="0.78" fill="rgb(43,178,19)"/>
<circle cx="54.4" cy="224.4" r="0.96" fill="rgb(26,144,32)"/>
<circle cx="66.1" cy="198.1" r="0.71" fill="rgb(23,203,12)"/>
<circle cx="42.5" cy="232.5" r="1.08" fill="rgb(30,118,29)"/>
<circle cx="70.8" cy="251.5" r="0.94" fill="rgb(18,157,20)"/>
<circle cx="52.9" cy="234.7" r="0.88" fill="rgb(42,121,36)"/>
<circle cx="35.3" cy="211.0" r="0.58" fill="rgb(37,156,14)"/>
<circle cx="49.4" cy="240.9" r="1.02" fill="rgb(38,183,18)"/>
<circle cx="66.0" cy="214.8" r="0.77" fill="rgb(44,197,40)"/>
<circle cx="68.4" cy="212.5" r="0.50" fill="rgb(24,126,17)"/>
<circle cx="67.0" cy="198.6" r="0.59" fill="rgb(32,207,20)"/>
<circle cx="35.1" cy="228.6" r="0.68" fill="rgb(42,128,18)"/>
<circle cx="90.1" cy="186.4" r="0.51" fill="rgb(41,149,34)"/>
<circle cx="56.9" cy="249.8" r="0.95" fill="rgb(37,146,38)"/>
<circle cx="35.6" cy="233.0" r="0.89" fill="rgb(27,131,13)"/>
<circle cx="45.3" cy="228.5" r="0.91" fill="rgb(18,194,18)"/>
<circle cx="87.5" cy="217.3" r="0.79" fill="rgb(19,155,22)"/>
<circle cx="36.9" cy="198.9" r="0.67" fill="rgb(24,166,20)"/>
<circle cx="61.7" cy="197.5" r="0.85" fill="rgb(40,141,25)"/>
<circle cx="83.2" cy="200.6" r="0.94" fill="rgb(42,173,32)"/>
<circle cx="61.7" cy="228.7" r="1.13" fill="rgb(37,215,40)"/>
<circle cx="73.4" cy="230.4" r="0.69" fill="rgb(31,198,19)"/>
<circle cx="53.3" cy="192.6" r="0.77" fill="rgb(13,165,38)"/>
<circle cx="54.8" cy="223.9" r="1.07" fill="rgb(43,122,30)"/>
<circle cx="32.6" cy="202.2" r="1.13" fill="rgb(33,206,35)"/>
<circle cx="69.1" cy="228.7" r="0.67" fill="rgb(13,135,16)"/>
<circle cx="92.3" cy="214.7" r="0.50" fill="rgb(33,211,28)"/>
<circle cx="49.8" cy="248.6" r="0.96" fill="rgb(43,178,21)"/>
<circle cx="95.7" cy="230.9" r="0.52" fill="rgb(41,121,26)"/>
<circle cx="43.4" cy="230.3" r="0.64" fill="rgb(15,212,14)"/>
<circle cx="92.4" cy="221.0" r="0.57" fill="rgb(29,205,16)"/>
<circle cx="94.0" cy="218.8" r="0.85" fill="rgb(31,134,32)"/>
<circle cx="29.9" cy="249.7" r="0.53" fill="rgb(13,125,35)"/>
<circle cx="70.2" cy="196.8" r="0.85" fill="rgb(33,152,18)"/>
<circle cx="47.4" cy="230.7" r="1.06" fill="rgb(32,175,12)"/>
<circle cx="41.3" cy="248.2" r="1.14" fill="rgb(26,143,31)"/>
<circle cx="65.9" cy="207.7" r="0.69" fill="rgb(23,170,38)"/>
<circle cx="91.2" cy="214.7" r="0.81" fill="rgb(25,159,36)"/>
<circle cx="50.2" cy="252.6" r="0.57" fill="rgb(15,206,39)"/>
<circle cx="66.6" cy="191.9" r="0.79" fill="rgb(32,127,13)"/>
<circle cx="41.3" cy="250.1" r="0.66" fill="rgb(38,128,12)"/>
<circle cx="70.4" cy="222.2" r="0.51" fill="rgb(32,134,13)"/>
<circle cx="32.6" cy="218.2" r="0.64" fill="rgb(30,146,21)"/>
<circle cx="59.0" cy="199.3" r="0.59" fill="rgb(22,129,39)"/>
<circle cx="40.1" cy="240.1" r="1.04" fill="rgb(40,194,34)"/>
<circle cx="35.1" cy="199.1" r="0.59" fill="rgb(45,171,30)"/>
<circle cx="52.9" cy="248.6" r="0.50" fill="rgb(37,153,13)"/>
<circle cx="54.6" cy="196.4" r="0.64" fill="rgb(41,186,34)"/>
<circle cx="32.7" cy="249.8" r="0.57" fill="rgb(24,189,14)"/>
<circle cx="89.2" cy="221.2" r="0.77" fill="rgb(30,119,28)"/>
<circle cx="49.7" cy="233.7" r="1.02" fill="rgb(19,164,26)"/>
<circle cx="92.6" cy="221.5" r="1.06" fill="rgb(43,201,18)"/>
<circle cx="73.1" cy="240.7" r="1.14" fill="rgb(13,195,12)"/>
<circle cx="37.6" cy="236.1" r="0.93" fill="rgb(23,157,40)"/>
<circle cx="58.9" cy="193.4" r="0.98" fill="rgb(26,207,36)"/>
<circle cx="35.3" cy="213.0" r="0.96" fill="rgb(13,196,35)"/>
<circle cx="73.7" cy="220.9" r="0.59" fill="rgb(23,209,22)"/>
<circle cx="88.9" cy="195.7" r="0.77" fill="rgb(28,164,24)"/>
<circle cx="57.0" cy="208.5" r="0.58" fill="rgb(29,150,18)"/>
<circle cx="64.0" cy="197.5" r="0.60" fill="rgb(19,200,32)"/>
<circle cx="80.6" cy="205.9" r="0.73" fill="rgb(38,122,27)"/>
<circle cx="62.1" cy="196.9" r="0.64" fill="rgb(35,192,29)"/>
<circle cx="59.0" cy="205.2" r="0.55" fill="rgb(12,179,27)"/>
<circle cx="32.1" cy="230.1" r="0.72" fill="rgb(16,120,29)"/>
<circle cx="64.9" cy="198.7" r="1.00" fill="rgb(36,194,35)"/>
<circle cx="54.7" cy="221.4" r="0.51" fill="rgb(22,150,31)"/>
<circle cx="66.7" cy="193.1" r="0.52" fill="rgb(20,120,39)"/>
<circle cx="53.0" cy="229.6" r="0.57" fill="rgb(24,138,26)"/>
<circle cx="31.8" cy="201.3" r="0.55" fill="rgb(36,183,25)"/>
<circle cx="87.7" cy="218.1" r="0.71" fill="rgb(13,120,18)"/>
<circle cx="34.9" cy="225.9" r="0.54" fill="rgb(35,205,34)"/>
<circle cx="36.6" cy="238.4" r="0.58" fill="rgb(18,215,34)"/>
<circle cx="28.1" cy="226.6" r="0.63" fill="rgb(19,147,29)"/>
<circle cx="79.5" cy="244.6" r="0.64" fill="rgb(29,192,19)"/>
<circle cx="40.6" cy="233.4" r="0.67" fill="rgb(17,187,16)"/>
<circle cx="29.3" cy="236.8" r="0.56" fill="rgb(36,192,18)"/>
<circle cx="38.1" cy="233.1" r="0.55" fill="rgb(24,179,29)"/>
<circle cx="29.8" cy="202.2" r="0.50" fill="rgb(12,115,32)"/>
<circle cx="42.5" cy="219.4" r="0.51" fill="rgb(26,206,37)"/>
<circle cx="46.5" cy="224.6" r="0.68" fill="rgb(37,155,19)"/>
<circle cx="39.7" cy="250.9" r="0.54" fill="rgb(24,215,16)"/>
<circle cx="66.2" cy="208.8" r="0.55" fill="rgb(24,208,30)"/>
<circle cx="48.5" cy="221.0" r="1.09" fill="rgb(41,132,33)"/>
<circle cx="61.3" cy="194.8" r="0.57" fill="rgb(22,118,39)"/>
<circle cx="94.0" cy="221.5" r="0.99" fill="rgb(19,159,23)"/>
<circle cx="43.2" cy="229.7" r="0.79" fill="rgb(32,121,21)"/>
<circle cx="33.7" cy="221.1" r="0.69" fill="rgb(42,148,31)"/>
<circle cx="37.6" cy="201.5" r="0.76" fill="rgb(35,161,33)"/>
<circle cx="51.2" cy="232.7" r="0.81" fill="rgb(29,168,24)"/>
<circle cx="75.5" cy="249.1" r="0.87" fill="rgb(17,160,15)"/>
<circle cx="58.1" cy="226.9" r="0.54" fill="rgb(39,134,15)"/>
<circle cx="44.2" cy="250.7" r="0.65" fill="rgb(12,142,12)"/>
<circle cx="71.2" cy="223.7" r="1.05" fill="rgb(16,210,30)"/>
<circle cx="27.9" cy="206.5" r="0.51" fill="rgb(33,121,34)"/>
<circle cx="50.7" cy="250.4" r="0.84" fill="rgb(37,175,40)"/>
<circle cx="81.1" cy="241.9" r="1.07" fill="rgb(42,137,27)"/>
<circle cx="31.0" cy="253.0" r="0.51" fill="rgb(41,135,31)"/>
<circle cx="49.3" cy="199.1" r="1.13" fill="rgb(27,179,16)"/>
<circle cx="88.4" cy="217.5" r="0.55" fill="rgb(32,181,39)"/>
<circle cx="49.6" cy="247.3" r="0.68" fill="rgb(26,204,26)"/>
<circle cx="69.8" cy="225.2" r="0.68" fill="rgb(43,197,23)"/>
<circle cx="63.6" cy="199.7" r="0.58" fill="rgb(44,126,31)"/>
<circle cx="54.5" cy="228.5" r="0.95" fill="rgb(38,170,19)"/>
<circle cx="47.4" cy="226.1" r="0.84" fill="rgb(41,160,23)"/>
<circle cx="35.4" cy="217.4" r="0.60" fill="rgb(14,202,20)"/>
<circle cx="92.9" cy="217.9" r="1.07" fill="rgb(36,190,32)"/>
<circle cx="60.2" cy="204.2" r="0.52" fill="rgb(43,147,19)"/>
<circle cx="57.4" cy="188.0" r="0.97" fill="rgb(29,169,21)"/>
<circle cx="54.7" cy="190.9" r="0.62" fill="rgb(12,139,15)"/>
<circle cx="62.1" cy="191.2" r="0.58" fill="rgb(43,174,22)"/>
<circle cx="88.6" cy="219.2" r="0.53" fill="rgb(19,194,16)"/>
<circle cx="91.1" cy="208.0" r="0.73" fill="rgb(38,137,31)"/>
<circle cx="44.7" cy="230.5" r="1.11" fill="rgb(41,212,32)"/>
<circle cx="60.9" cy="196.8" r="0.74" fill="rgb(44,167,35)"/>
<circle cx="63.4" cy="196.1" r="0.54" fill="rgb(31,214,15)"/>
<circle cx="65.6" cy="220.4" r="0.95" fill="rgb(18,157,39)"/>
<circle cx="64.5" cy="222.1" r="1.06" fill="rgb(16,142,23)"/>
<circle cx="41.2" cy="247.6" r="0.67" fill="rgb(25,181,25)"/>
<circle cx="32.6" cy="201.6" r="0.53" fill="rgb(43,140,12)"/>
<circle cx="41.6" cy="229.2" r="0.82" fill="rgb(40,175,17)"/>
<circle cx="40.7" cy="250.0" r="0.84" fill="rgb(22,161,25)"/>
<circle cx="92.8" cy="232.1" r="0.53" fill="rgb(17,160,19)"/>
<circle cx="43.5" cy="249.3" r="1.11" fill="rgb(41,118,36)"/>
<circle cx="66.2" cy="215.3" r="0.62" fill="rgb(21,187,16)"/>
<circle cx="50.6" cy="224.8" r="0.51" fill="rgb(26,169,38)"/>
<circle cx="62.7" cy="196.9" r="0.95" fill="rgb(36,122,22)"/>
<circle cx="73.2" cy="195.8" r="0.57" fill="rgb(17,207,18)"/>
<circle cx="37.2" cy="212.7" r="0.61" fill="rgb(43,172,23)"/>
<circle cx="77.0" cy="193.9" r="0.51" fill="rgb(33,153,28)"/>
<circle cx="53.2" cy="251.6" r="0.69" fill="rgb(32,190,18)"/>
<circle cx="51.9" cy="223.1" r="0.60" fill="rgb(38,152,24)"/>
<circle cx="69.0" cy="241.2" r="0.51" fill="rgb(37,146,35)"/>
<circle cx="60.7" cy="221.9" r="0.61" fill="rgb(30,149,24)"/>
<circle cx="65.0" cy="208.9" r="0.70" fill="rgb(33,120,30)"/>
<circle cx="51.2" cy="225.3" r="0.60" fill="rgb(22,153,15)"/>
<circle cx="40.6" cy="247.2" r="0.50" fill="rgb(40,115,29)"/>
<circle cx="71.3" cy="198.7" r="0.77" fill="rgb(18,178,23)"/>
<circle cx="27.6" cy="226.9" r="0.88" fill="rgb(21,215,33)"/>
<circle cx="56.9" cy="230.0" r="0.74" fill="rgb(15,121,31)"/>
<circle cx="54.3" cy="223.3" r="0.77" fill="rgb(43,133,15)"/>
<circle cx="36.7" cy="219.4" r="0.57" fill="rgb(36,208,40)"/>
<circle cx="55.7" cy="249.2" r="0.70" fill="rgb(45,122,14)"/>
<circle cx="68.1" cy="223.7" r="1.04" fill="rgb(19,174,37)"/>
<circle cx="35.4" cy="217.9" r="0.63" fill="rgb(44,167,27)"/>
<circle cx="61.7" cy="195.9" r="0.91" fill="rgb(26,182,34)"/>
<circle cx="65.1" cy="217.1" r="0.63" fill="rgb(31,152,32)"/>
<circle cx="64.8" cy="200.4" r="1.00" fill="rgb(27,120,15)"/>
<circle cx="53.3" cy="248.5" r="0.52" fill="rgb(42,150,16)"/>
<circle cx="44.1" cy="249.8" r="0.75" fill="rgb(32,199,35)"/>
<circle cx="65.3" cy="207.9" r="0.57" fill="rgb(14,129,34)"/>
<circle cx="52.9" cy="246.5" r="0.51" fill="rgb(15,208,13)"/>
<circle cx="90.9" cy="217.3" r="0.79" fill="rgb(40,202,39)"/>
<circle cx="34.9" cy="229.5" r="0.83" fill="rgb(36,123,35)"/>
<circle cx="54.1" cy="223.2" r="0.69" fill="rgb(18,185,17)"/>
<circle cx="51.5" cy="226.9" r="0.57" fill="rgb(20,168,33)"/>
<circle cx="36.0" cy="231.0" r="0.61" fill="rgb(34,137,14)"/>
<circle cx="61.1" cy="194.4" r="0.87" fill="rgb(41,121,31)"/>
<circle cx="72.8" cy="192.5" r="0.70" fill="rgb(12,214,31)"/>
<circle cx="42.9" cy="228.7" r="0.64" fill="rgb(32,115,31)"/>
<circle cx="69.8" cy="223.0" r="0.80" fill="rgb(41,141,40)"/>
<circle cx="55.9" cy="224.3" r="0.64" fill="rgb(37,187,22)"/>
<circle cx="41.6" cy="236.6" r="0.66" fill="rgb(17,130,31)"/>
<circle cx="58.2" cy="225.6" r="0.87" fill="rgb(45,188,21)"/>
<circle cx="57.8" cy="201.8" r="0.60" fill="rgb(45,177,31)"/>
<circle cx="93.7" cy="219.5" r="0.60" fill="rgb(20,214,39)"/>
<circle cx="49.3" cy="226.5" r="0.52" fill="rgb(22,183,38)"/>
<circle cx="84.9" cy="193.9" r="1.12" fill="rgb(29,180,13)"/>
<circle cx="53.9" cy="187.4" r="0.86" fill="rgb(18,148,18)"/>
<circle cx="60.6" cy="225.8" r="1.13" fill="rgb(25,186,40)"/>
<circle cx="42.0" cy="231.3" r="0.80" fill="rgb(42,124,15)"/>
<circle cx="38.8" cy="242.3" r="0.79" fill="rgb(15,131,39)"/>
<circle cx="42.3" cy="250.0" r="0.50" fill="rgb(29,204,13)"/>
<circle cx="37.9" cy="197.8" r="0.62" fill="rgb(38,137,22)"/>
<circle cx="54.7" cy="252.4" r="1.00" fill="rgb(30,151,23)"/>
<circle cx="54.6" cy="232.7" r="0.52" fill="rgb(43,126,13)"/>
<circle cx="85.9" cy="230.3" r="0.66" fill="rgb(29,152,19)"/>
<circle cx="64.4" cy="193.8" r="0.79" fill="rgb(35,167,29)"/>
<circle cx="48.8" cy="241.8" r="0.75" fill="rgb(41,128,12)"/>
<circle cx="83.1" cy="196.2" r="0.53" fill="rgb(24,156,19)"/>
<circle cx="67.0" cy="221.9" r="0.57" fill="rgb(15,178,38)"/>
<circle cx="91.7" cy="238.6" r="0.51" fill="rgb(17,160,39)"/>
<circle cx="28.0" cy="207.1" r="0.85" fill="rgb(34,127,29)"/>
<circle cx="70.8" cy="198.4" r="0.69" fill="rgb(27,130,30)"/>
<circle cx="57.5" cy="250.0" r="0.76" fill="rgb(40,206,16)"/>
<circle cx="35.0" cy="210.0" r="0.60" fill="rgb(17,185,28)"/>
<circle cx="53.9" cy="224.7" r="1.09" fill="rgb(36,174,19)"/>
<circle cx="41.2" cy="232.8" r="0.50" fill="rgb(42,131,14)"/>
<circle cx="52.6" cy="247.3" r="1.11" fill="rgb(20,116,21)"/>
<circle cx="87.3" cy="213.7" r="0.99" fill="rgb(31,132,26)"/>
<circle cx="79.3" cy="223.5" r="0.87" fill="rgb(43,199,40)"/>
<circle cx="86.2" cy="241.9" r="0.97" fill="rgb(32,142,23)"/>
<circle cx="64.2" cy="223.1" r="0.53" fill="rgb(39,150,36)"/>
<circle cx="51.8" cy="226.7" r="1.08" fill="rgb(31,149,31)"/>
<circle cx="55.0" cy="231.1" r="0.82" fill="rgb(16,186,23)"/>
<circle cx="51.8" cy="198.3" r="0.91" fill="rgb(41,163,28)"/>
<circle cx="151.1" cy="230.2" r="0.48" fill="rgb(19,66,23)"/>
<circle cx="129.1" cy="209.2" r="0.66" fill="rgb(27,149,12)"/>
<circle cx="130.3" cy="206.8" r="0.50" fill="rgb(34,138,14)"/>
<circle cx="128.1" cy="194.8" r="0.84" fill="rgb(37,67,9)"/>
<circle cx="151.4" cy="198.4" r="0.94" fill="rgb(38,119,22)"/>
<circle cx="118.0" cy="250.0" r="0.69" fill="rgb(30,85,36)"/>
<circle cx="172.1" cy="208.3" r="0.59" fill="rgb(23,141,23)"/>
<circle cx="142.8" cy="228.4" r="0.46" fill="rgb(33,89,29)"/>
<circle cx="112.0" cy="210.7" r="0.54" fill="rgb(15,97,18)"/>
<circle cx="163.8" cy="236.2" r="0.45" fill="rgb(9,120,24)"/>
<circle cx="138.2" cy="191.8" r="0.69" fill="rgb(25,161,15)"/>
<circle cx="139.4" cy="191.8" r="0.55" fill="rgb(31,146,9)"/>
<circle cx="130.3" cy="206.8" r="0.60" fill="rgb(38,154,35)"/>
<circle cx="172.5" cy="194.4" r="0.89" fill="rgb(13,111,14)"/>
<circle cx="119.7" cy="226.0" r="0.91" fill="rgb(33,163,18)"/>
<circle cx="127.2" cy="218.3" r="0.47" fill="rgb(25,111,24)"/>
<circle cx="113.6" cy="209.3" r="0.52" fill="rgb(15,80,33)"/>
<circle cx="138.2" cy="227.4" r="0.52" fill="rgb(36,121,31)"/>
<circle cx="117.9" cy="244.4" r="0.91" fill="rgb(28,130,30)"/>
<circle cx="131.7" cy="209.6" r="0.45" fill="rgb(30,65,8)"/>
<circle cx="107.3" cy="216.6" r="0.59" fill="rgb(25,72,26)"/>
<circle cx="170.0" cy="251.5" r="0.78" fill="rgb(21,118,26)"/>
<circle cx="117.0" cy="252.6" r="0.94" fill="rgb(31,146,20)"/>
<circle cx="105.1" cy="233.4" r="0.88" fill="rgb(36,69,10)"/>
<circle cx="142.3" cy="239.1" r="0.57" fill="rgb(30,77,19)"/>
<circle cx="117.0" cy="240.3" r="0.62" fill="rgb(11,143,14)"/>
<circle cx="154.2" cy="210.7" r="0.51" fill="rgb(19,117,18)"/>
<circle cx="111.1" cy="240.3" r="0.54" fill="rgb(32,88,29)"/>
<circle cx="171.0" cy="208.7" r="0.45" fill="rgb(27,127,22)"/>
<circle cx="108.0" cy="225.1" r="0.60" fill="rgb(11,106,38)"/>
<circle cx="105.0" cy="222.5" r="0.74" fill="rgb(15,102,24)"/>
<circle cx="139.9" cy="232.5" r="0.48" fill="rgb(20,124,27)"/>
<circle cx="154.6" cy="215.4" r="0.80" fill="rgb(34,71,32)"/>
<circle cx="161.7" cy="236.7" r="0.73" fill="rgb(9,149,11)"/>
<circle cx="152.8" cy="207.5" r="0.76" fill="rgb(32,106,23)"/>
<circle cx="149.3" cy="194.6" r="0.61" fill="rgb(12,134,16)"/>
<circle cx="134.7" cy="208.6" r="0.58" fill="rgb(27,145,17)"/>
<circle cx="137.7" cy="214.5" r="0.47" fill="rgb(9,147,34)"/>
<circle cx="161.1" cy="209.6" r="0.59" fill="rgb(16,149,18)"/>
<circle cx="110.3" cy="250.1" r="0.81" fill="rgb(33,86,14)"/>
<circle cx="111.8" cy="201.6" r="0.87" fill="rgb(35,148,31)"/>
<circle cx="129.7" cy="235.1" r="0.53" fill="rgb(35,82,35)"/>
<circle cx="132.5" cy="204.1" r="0.66" fill="rgb(8,70,33)"/>
<circle cx="170.0" cy="209.5" r="0.49" fill="rgb(32,88,17)"/>
<circle cx="105.5" cy="247.8" r="0.56" fill="rgb(25,128,14)"/>
<circle cx="155.4" cy="234.6" r="0.63" fill="rgb(17,146,22)"/>
<circle cx="141.8" cy="206.2" r="0.45" fill="rgb(8,100,37)"/>
<circle cx="130.4" cy="220.8" r="0.84" fill="rgb(25,119,20)"/>
<circle cx="130.8" cy="187.6" r="0.89" fill="rgb(9,109,15)"/>
<circle cx="171.1" cy="218.8" r="0.51" fill="rgb(29,79,29)"/>
<circle cx="170.2" cy="234.5" r="0.71" fill="rgb(26,68,15)"/>
<circle cx="161.6" cy="227.6" r="0.61" fill="rgb(21,108,28)"/>
<circle cx="126.6" cy="199.8" r="0.46" fill="rgb(18,142,38)"/>
<circle cx="124.2" cy="198.7" r="0.48" fill="rgb(37,80,23)"/>
<circle cx="151.9" cy="183.3" r="0.50" fill="rgb(21,126,31)"/>
<circle cx="111.5" cy="252.6" r="0.78" fill="rgb(18,127,14)"/>
<circle cx="149.5" cy="226.9" r="0.46" fill="rgb(20,108,16)"/>
<circle cx="113.0" cy="221.2" r="0.91" fill="rgb(16,160,16)"/>
<circle cx="113.1" cy="219.6" r="0.62" fill="rgb(25,111,12)"/>
<circle cx="145.3" cy="209.6" r="0.54" fill="rgb(37,110,37)"/>
<circle cx="157.9" cy="242.0" r="0.58" fill="rgb(38,91,18)"/>
<circle cx="148.1" cy="244.0" r="0.48" fill="rgb(18,108,29)"/>
<circle cx="107.0" cy="206.0" r="0.65" fill="rgb(24,150,11)"/>
<circle cx="115.7" cy="217.3" r="0.46" fill="rgb(13,104,33)"/>
<circle cx="116.9" cy="244.2" r="0.49" fill="rgb(11,146,28)"/>
<circle cx="170.5" cy="209.0" r="0.47" fill="rgb(20,126,22)"/>
<circle cx="129.7" cy="233.7" r="0.78" fill="rgb(26,95,24)"/>
<circle cx="138.7" cy="229.7" r="0.75" fill="rgb(18,156,19)"/>
<circle cx="130.2" cy="195.8" r="0.74" fill="rgb(21,131,26)"/>
<circle cx="113.1" cy="247.8" r="0.46" fill="rgb(24,79,17)"/>
<circle cx="171.5" cy="204.9" r="0.63" fill="rgb(27,104,10)"/>
<circle cx="114.4" cy="198.8" r="0.85" fill="rgb(37,97,38)"/>
<circle cx="130.3" cy="195.9" r="0.88" fill="rgb(35,162,25)"/>
<circle cx="146.6" cy="239.8" r="0.66" fill="rgb(9,147,21)"/>
<circle cx="166.7" cy="238.6" r="0.80" fill="rgb(25,161,20)"/>
<circle cx="164.7" cy="209.1" r="0.88" fill="rgb(18,68,33)"/>
<circle cx="131.4" cy="194.7" r="0.53" fill="rgb(33,100,24)"/>
<circle cx="141.5" cy="238.2" r="0.73" fill="rgb(28,101,38)"/>
<circle cx="117.2" cy="248.2" r="0.45" fill="rgb(10,83,27)"/>
<circle cx="128.3" cy="218.2" r="0.65" fill="rgb(15,110,34)"/>
<circle cx="130.4" cy="196.5" r="0.74" fill="rgb(13,161,34)"/>
<circle cx="165.1" cy="225.8" r="0.50" fill="rgb(37,67,27)"/>
<circle cx="110.5" cy="244.1" r="0.56" fill="rgb(26,70,17)"/>
<circle cx="141.9" cy="253.3" r="0.88" fill="rgb(27,103,35)"/>
<circle cx="113.9" cy="242.6" r="0.89" fill="rgb(37,95,25)"/>
<circle cx="154.6" cy="197.1" r="0.47" fill="rgb(27,73,13)"/>
<circle cx="118.5" cy="247.9" r="0.56" fill="rgb(9,108,28)"/>
<circle cx="167.2" cy="229.8" r="0.62" fill="rgb(35,91,15)"/>
<circle cx="163.2" cy="230.4" r="0.62" fill="rgb(24,85,14)"/>
<circle cx="137.5" cy="238.1" r="0.75" fill="rgb(35,89,37)"/>
<circle cx="146.3" cy="194.5" r="0.61" fill="rgb(12,122,11)"/>
<circle cx="118.3" cy="252.8" r="0.54" fill="rgb(22,152,24)"/>
<circle cx="137.0" cy="189.6" r="0.84" fill="rgb(28,138,13)"/>
<circle cx="114.2" cy="221.3" r="0.48" fill="rgb(28,106,26)"/>
<circle cx="107.0" cy="216.3" r="0.84" fill="rgb(36,159,12)"/>
<circle cx="143.8" cy="193.1" r="0.93" fill="rgb(33,128,37)"/>
<circle cx="168.1" cy="219.5" r="0.68" fill="rgb(35,132,28)"/>
<circle cx="172.2" cy="225.6" r="0.91" fill="rgb(29,138,8)"/>
<circle cx="171.6" cy="213.4" r="0.49" fill="rgb(32,120,35)"/>
<circle cx="152.2" cy="230.7" r="0.45" fill="rgb(31,80,25)"/>
<circle cx="116.3" cy="251.8" r="0.89" fill="rgb(34,133,10)"/>
<circle cx="160.8" cy="187.4" r="0.48" fill="rgb(8,116,34)"/>
<circle cx="110.5" cy="216.5" r="0.52" fill="rgb(16,112,17)"/>
<circle cx="112.4" cy="229.6" r="0.48" fill="rgb(33,141,31)"/>
<circle cx="139.4" cy="184.3" r="0.56" fill="rgb(37,100,19)"/>
<circle cx="111.5" cy="202.0" r="0.74" fill="rgb(32,97,32)"/>
<circle cx="128.4" cy="191.0" r="0.58" fill="rgb(15,85,22)"/>
<circle cx="152.7" cy="244.4" r="0.89" fill="rgb(36,115,30)"/>
<circle cx="131.7" cy="187.2" r="0.87" fill="rgb(27,85,22)"/>
<circle cx="111.9" cy="209.9" r="0.65" fill="rgb(15,158,9)"/>
<circle cx="166.1" cy="218.9" r="0.78" fill="rgb(37,87,12)"/>
<circle cx="133.6" cy="188.1" r="0.54" fill="rgb(8,113,18)"/>
<circle cx="129.4" cy="204.7" r="0.55" fill="rgb(18,78,21)"/>
<circle cx="168.6" cy="222.1" r="0.80" fill="rgb(34,144,8)"/>
<circle cx="120.2" cy="190.2" r="0.94" fill="rgb(28,152,31)"/>
<circle cx="105.5" cy="208.9" r="0.85" fill="rgb(14,112,13)"/>
<circle cx="148.6" cy="188.9" r="0.46" fill="rgb(25,161,19)"/>
<circle cx="117.2" cy="227.4" r="0.76" fill="rgb(21,108,11)"/>
<circle cx="169.0" cy="220.1" r="0.46" fill="rgb(9,125,9)"/>
<circle cx="121.2" cy="205.1" r="0.45" fill="rgb(13,104,25)"/>
<circle cx="124.9" cy="251.0" r="0.45" fill="rgb(11,151,36)"/>
<circle cx="115.7" cy="212.6" r="0.67" fill="rgb(24,147,23)"/>
<circle cx="134.6" cy="199.9" r="0.61" fill="rgb(28,81,14)"/>
<circle cx="171.4" cy="237.9" r="0.54" fill="rgb(15,157,33)"/>
<circle cx="141.7" cy="234.6" r="0.46" fill="rgb(34,83,13)"/>
<circle cx="105.5" cy="217.8" r="0.82" fill="rgb(21,147,35)"/>
<circle cx="156.1" cy="243.9" r="0.49" fill="rgb(36,152,19)"/>
<circle cx="143.4" cy="205.3" r="0.49" fill="rgb(13,121,8)"/>
<circle cx="142.6" cy="245.2" r="0.51" fill="rgb(16,142,38)"/>
<circle cx="144.3" cy="214.9" r="0.70" fill="rgb(21,123,29)"/>
<circle cx="167.4" cy="246.0" r="0.64" fill="rgb(25,80,24)"/>
<circle cx="114.3" cy="196.5" r="0.87" fill="rgb(8,72,36)"/>
<circle cx="134.9" cy="213.8" r="0.91" fill="rgb(22,143,35)"/>
<circle cx="131.5" cy="195.0" r="0.46" fill="rgb(11,116,16)"/>
<circle cx="149.7" cy="202.5" r="0.66" fill="rgb(20,152,14)"/>
<circle cx="173.9" cy="232.8" r="0.68" fill="rgb(35,164,14)"/>
<circle cx="148.9" cy="221.2" r="0.46" fill="rgb(12,138,21)"/>
<circle cx="159.2" cy="209.0" r="0.63" fill="rgb(34,141,25)"/>
<circle cx="151.9" cy="186.5" r="0.50" fill="rgb(33,99,23)"/>
<circle cx="135.1" cy="187.7" r="0.50" fill="rgb(24,153,21)"/>
<circle cx="162.4" cy="188.6" r="0.93" fill="rgb(24,68,37)"/>
<circle cx="125.9" cy="193.1" r="0.45" fill="rgb(22,156,32)"/>
<circle cx="138.1" cy="231.8" r="0.47" fill="rgb(8,161,13)"/>
<circle cx="149.2" cy="208.2" r="0.62" fill="rgb(34,82,23)"/>
<circle cx="166.3" cy="229.3" r="0.47" fill="rgb(19,123,18)"/>
<circle cx="169.7" cy="198.4" r="0.90" fill="rgb(21,137,35)"/>
<circle cx="152.7" cy="190.8" r="0.53" fill="rgb(37,82,34)"/>
<circle cx="163.1" cy="227.5" r="0.86" fill="rgb(10,83,30)"/>
<circle cx="108.7" cy="195.9" r="0.48" fill="rgb(21,139,11)"/>
<circle cx="107.4" cy="205.1" r="0.46" fill="rgb(23,120,25)"/>
<circle cx="150.3" cy="205.6" r="0.58" fill="rgb(21,156,13)"/>
<circle cx="117.3" cy="221.3" r="0.77" fill="rgb(16,96,17)"/>
<circle cx="132.5" cy="222.0" r="0.48" fill="rgb(14,132,24)"/>
<circle cx="118.1" cy="227.0" r="0.45" fill="rgb(35,138,32)"/>
<circle cx="162.0" cy="233.3" r="0.61" fill="rgb(13,165,19)"/>
<circle cx="148.0" cy="229.4" r="0.94" fill="rgb(17,80,25)"/>
<circle cx="162.5" cy="213.1" r="0.75" fill="rgb(23,118,26)"/>
<circle cx="112.6" cy="240.5" r="0.77" fill="rgb(27,109,36)"/>
<circle cx="137.2" cy="194.9" r="0.71" fill="rgb(8,122,19)"/>
<circle cx="156.3" cy="212.4" r="0.65" fill="rgb(33,111,13)"/>
<circle cx="131.5" cy="183.5" r="0.63" fill="rgb(15,120,12)"/>
<circle cx="155.4" cy="202.3" r="0.58" fill="rgb(38,76,15)"/>
<circle cx="166.1" cy="242.9" r="0.73" fill="rgb(16,128,31)"/>
<circle cx="128.4" cy="222.3" r="0.60" fill="rgb(30,143,15)"/>
<circle cx="146.2" cy="242.0" r="0.54" fill="rgb(13,75,22)"/>
<circle cx="134.8" cy="221.3" r="0.87" fill="rgb(23,82,23)"/>
<circle cx="144.9" cy="210.0" r="0.84" fill="rgb(31,94,25)"/>
<circle cx="156.3" cy="249.2" r="0.69" fill="rgb(21,151,31)"/>
<circle cx="145.1" cy="238.6" r="0.92" fill="rgb(38,80,32)"/>
<circle cx="153.8" cy="210.4" r="0.70" fill="rgb(14,155,10)"/>
<circle cx="165.3" cy="216.7" r="0.88" fill="rgb(33,149,11)"/>
<circle cx="158.3" cy="239.1" r="0.65" fill="rgb(29,100,28)"/>
<circle cx="108.5" cy="244.7" r="0.55" fill="rgb(36,130,18)"/>
<circle cx="144.6" cy="214.8" r="0.58" fill="rgb(8,128,27)"/>
<circle cx="170.5" cy="219.9" r="0.76" fill="rgb(12,114,8)"/>
<circle cx="162.1" cy="227.3" r="0.82" fill="rgb(24,115,37)"/>
<circle cx="143.6" cy="196.9" r="0.65" fill="rgb(36,144,28)"/>
<circle cx="146.3" cy="222.6" r="0.45" fill="rgb(14,136,9)"/>
<circle cx="118.3" cy="249.4" r="0.45" fill="rgb(32,71,24)"/>
<circle cx="113.5" cy="253.1" r="0.45" fill="rgb(19,117,30)"/>
<circle cx="146.3" cy="200.4" r="0.93" fill="rgb(15,130,16)"/>
<circle cx="141.8" cy="229.1" r="0.63" fill="rgb(24,74,27)"/>
<circle cx="167.6" cy="250.1" r="0.57" fill="rgb(32,128,34)"/>
<circle cx="167.8" cy="230.9" r="0.45" fill="rgb(21,150,25)"/>
<circle cx="151.9" cy="208.2" r="0.83" fill="rgb(30,159,36)"/>
<circle cx="110.5" cy="223.0" r="0.65" fill="rgb(10,118,20)"/>
<circle cx="123.7" cy="207.3" r="0.51" fill="rgb(24,136,23)"/>
<circle cx="142.3" cy="191.3" r="0.72" fill="rgb(10,69,24)"/>
<circle cx="112.8" cy="214.1" r="0.77" fill="rgb(26,107,10)"/>
<circle cx="157.8" cy="216.5" r="0.48" fill="rgb(23,108,33)"/>
<circle cx="157.5" cy="194.8" r="0.45" fill="rgb(36,86,27)"/>
<circle cx="120.6" cy="208.3" r="0.74" fill="rgb(17,76,22)"/>
<circle cx="120.2" cy="239.2" r="0.52" fill="rgb(16,111,20)"/>
<circle cx="165.5" cy="195.4" r="0.53" fill="rgb(14,156,25)"/>
<circle cx="122.2" cy="235.1" r="0.54" fill="rgb(27,83,14)"/>
<circle cx="129.2" cy="223.0" r="0.56" fill="rgb(30,118,24)"/>
<circle cx="106.6" cy="244.3" r="0.47" fill="rgb(24,128,23)"/>
<circle cx="173.5" cy="217.1" r="0.47" fill="rgb(37,74,29)"/>
<circle cx="164.9" cy="238.4" r="0.55" fill="rgb(20,65,12)"/>
<circle cx="106.3" cy="208.5" r="0.50" fill="rgb(34,99,20)"/>
<circle cx="162.2" cy="236.2" r="0.70" fill="rgb(13,153,30)"/>
<circle cx="126.1" cy="190.0" r="0.92" fill="rgb(33,134,38)"/>
<circle cx="148.7" cy="222.7" r="0.55" fill="rgb(24,78,8)"/>
<circle cx="156.6" cy="206.4" r="0.82" fill="rgb(17,109,27)"/>
<circle cx="158.8" cy="238.9" r="0.94" fill="rgb(17,120,11)"/>
<circle cx="153.2" cy="245.0" r="0.49" fill="rgb(26,130,38)"/>
<circle cx="140.4" cy="215.0" r="0.84" fill="rgb(12,126,8)"/>
<circle cx="166.6" cy="246.2" r="0.56" fill="rgb(32,103,35)"/>
<circle cx="135.7" cy="223.6" r="0.46" fill="rgb(32,137,17)"/>
<circle cx="143.1" cy="219.3" r="0.47" fill="rgb(23,165,34)"/>
<circle cx="173.5" cy="208.7" r="0.52" fill="rgb(22,88,13)"/>
<circle cx="171.3" cy="238.5" r="0.92" fill="rgb(12,128,19)"/>
<circle cx="142.0" cy="192.5" r="0.85" fill="rgb(27,132,16)"/>
<circle cx="159.2" cy="194.2" r="0.47" fill="rgb(33,133,13)"/>
<circle cx="174.5" cy="221.9" r="0.60" fill="rgb(20,88,30)"/>
<circle cx="137.6" cy="194.2" r="0.50" fill="rgb(10,147,34)"/>
<circle cx="129.3" cy="238.3" r="0.58" fill="rgb(38,97,13)"/>
<circle cx="114.8" cy="228.0" r="0.45" fill="rgb(22,94,34)"/>
<circle cx="150.3" cy="202.4" r="0.55" fill="rgb(9,146,25)"/>
<circle cx="154.6" cy="219.5" r="0.66" fill="rgb(18,66,37)"/>
<circle cx="155.8" cy="235.4" r="0.46" fill="rgb(34,153,20)"/>
<circle cx="110.5" cy="201.1" r="0.55" fill="rgb(17,79,13)"/>
<circle cx="108.4" cy="242.8" r="0.77" fill="rgb(8,84,16)"/>
<circle cx="174.1" cy="222.9" r="0.81" fill="rgb(9,87,27)"/>
<circle cx="168.9" cy="233.8" r="0.50" fill="rgb(20,145,29)"/>
<circle cx="141.7" cy="244.6" r="0.92" fill="rgb(25,143,9)"/>
<circle cx="153.4" cy="239.4" r="0.95" fill="rgb(10,126,12)"/>
<circle cx="168.3" cy="237.3" r="0.63" fill="rgb(16,112,18)"/>
<circle cx="144.4" cy="228.4" r="0.52" fill="rgb(20,115,11)"/>
<circle cx="119.1" cy="213.1" r="0.53" fill="rgb(28,140,15)"/>
<circle cx="162.2" cy="220.1" r="0.48" fill="rgb(13,71,10)"/>
<circle cx="113.3" cy="249.1" r="0.78" fill="rgb(12,143,10)"/>
<circle cx="129.7" cy="222.2" r="0.73" fill="rgb(10,84,18)"/>
<circle cx="169.8" cy="207.0" r="0.75" fill="rgb(20,91,26)"/>
<circle cx="119.0" cy="252.1" r="0.54" fill="rgb(14,70,37)"/>
<circle cx="162.2" cy="240.8" r="0.89" fill="rgb(16,96,37)"/>
<circle cx="113.5" cy="249.9" r="0.63" fill="rgb(21,157,16)"/>
<circle cx="141.1" cy="186.3" r="0.46" fill="rgb(32,124,18)"/>
<circle cx="117.4" cy="249.4" r="0.57" fill="rgb(38,136,14)"/>
<circle cx="107.5" cy="208.2" r="0.59" fill="rgb(25,132,14)"/>
<circle cx="168.8" cy="210.8" r="0.45" fill="rgb(30,95,21)"/>
<circle cx="158.0" cy="236.6" r="0.48" fill="rgb(8,91,24)"/>
<circle cx="113.5" cy="245.3" r="0.50" fill="rgb(37,95,33)"/>
<circle cx="168.8" cy="226.9" r="0.73" fill="rgb(28,122,12)"/>
<circle cx="171.9" cy="219.9" r="0.85" fill="rgb(19,123,19)"/>
<circle cx="133.5" cy="225.6" r="0.87" fill="rgb(15,68,19)"/>
<circle cx="133.1" cy="238.0" r="0.85" fill="rgb(32,158,25)"/>
<circle cx="130.9" cy="235.5" r="0.76" fill="rgb(19,82,15)"/>
<circle cx="117.5" cy="224.3" r="0.91" fill="rgb(38,160,32)"/>
<circle cx="117.3" cy="229.6" r="0.75" fill="rgb(15,145,31)"/>
<circle cx="157.4" cy="231.8" r="0.51" fill="rgb(9,77,19)"/>
<circle cx="112.2" cy="212.6" r="0.68" fill="rgb(37,159,14)"/>
<circle cx="116.1" cy="246.7" r="0.48" fill="rgb(19,111,34)"/>
<circle cx="153.8" cy="186.9" r="0.77" fill="rgb(22,125,34)"/>
<circle cx="155.0" cy="217.1" r="0.52" fill="rgb(36,145,33)"/>
<circle cx="105.3" cy="226.4" r="0.75" fill="rgb(18,117,21)"/>
<circle cx="125.5" cy="215.5" r="0.85" fill="rgb(20,123,37)"/>
<circle cx="162.2" cy="247.5" r="0.47" fill="rgb(35,142,25)"/>
<circle cx="135.9" cy="220.5" r="0.66" fill="rgb(28,95,20)"/>
<circle cx="163.1" cy="189.2" r="0.90" fill="rgb(28,95,16)"/>
<circle cx="159.2" cy="189.1" r="0.46" fill="rgb(15,109,23)"/>
<circle cx="132.9" cy="194.0" r="0.78" fill="rgb(21,84,14)"/>
<circle cx="112.0" cy="245.7" r="0.86" fill="rgb(8,90,14)"/>
<circle cx="173.3" cy="223.1" r="0.49" fill="rgb(38,83,23)"/>
<circle cx="131.2" cy="245.0" r="0.73" fill="rgb(26,118,34)"/>
<circle cx="165.9" cy="202.6" r="0.46" fill="rgb(16,104,21)"/>
<circle cx="172.0" cy="206.2" r="0.91" fill="rgb(28,107,12)"/>
<circle cx="132.7" cy="205.5" r="0.92" fill="rgb(38,101,24)"/>
<circle cx="110.4" cy="243.4" r="0.86" fill="rgb(33,138,25)"/>
<circle cx="125.0" cy="244.3" r="0.54" fill="rgb(22,152,11)"/>
<circle cx="112.9" cy="211.5" r="0.77" fill="rgb(27,131,24)"/>
<circle cx="108.4" cy="202.6" r="0.93" fill="rgb(25,106,33)"/>
<circle cx="125.8" cy="253.1" r="0.57" fill="rgb(35,78,32)"/>
<circle cx="132.7" cy="189.3" r="0.89" fill="rgb(16,164,18)"/>
<circle cx="138.1" cy="217.1" r="0.59" fill="rgb(31,94,30)"/>
<circle cx="115.3" cy="246.1" r="0.56" fill="rgb(13,119,27)"/>
<circle cx="111.3" cy="190.0" r="0.68" fill="rgb(30,155,35)"/>
<circle cx="110.2" cy="246.8" r="0.51" fill="rgb(12,65,17)"/>
<circle cx="140.1" cy="189.1" r="0.57" fill="rgb(28,145,14)"/>
<circle cx="112.5" cy="217.9" r="0.49" fill="rgb(8,150,22)"/>
<circle cx="106.3" cy="210.5" r="0.84" fill="rgb(31,148,21)"/>
<circle cx="129.4" cy="183.9" r="0.75" fill="rgb(25,129,8)"/>
<circle cx="109.9" cy="216.4" r="0.46" fill="rgb(23,127,16)"/>
<circle cx="111.4" cy="227.4" r="0.47" fill="rgb(11,149,29)"/>
<circle cx="232.8" cy="190.4" r="0.49" fill="rgb(17,79,35)"/>
<circle cx="238.7" cy="200.0" r="0.50" fill="rgb(9,87,21)"/>
<circle cx="187.9" cy="239.4" r="0.87" fill="rgb(36,83,31)"/>
<circle cx="201.9" cy="196.1" r="0.51" fill="rgb(35,146,29)"/>
<circle cx="244.0" cy="233.2" r="0.82" fill="rgb(24,131,30)"/>
<circle cx="250.4" cy="228.3" r="0.76" fill="rgb(19,118,17)"/>
<circle cx="244.9" cy="239.1" r="0.69" fill="rgb(16,100,26)"/>
<circle cx="198.0" cy="204.6" r="0.56" fill="rgb(35,59,28)"/>
<circle cx="191.3" cy="227.7" r="0.74" fill="rgb(24,106,13)"/>
<circle cx="234.7" cy="200.4" r="0.78" fill="rgb(20,94,30)"/>
<circle cx="208.7" cy="233.8" r="0.48" fill="rgb(23,140,31)"/>
<circle cx="198.0" cy="224.0" r="0.45" fill="rgb(29,124,13)"/>
<circle cx="196.3" cy="197.5" r="0.50" fill="rgb(35,58,28)"/>
<circle cx="185.9" cy="209.3" r="0.82" fill="rgb(13,132,24)"/>
<circle cx="206.9" cy="243.2" r="0.52" fill="rgb(12,126,23)"/>
<circle cx="194.7" cy="222.9" r="0.48" fill="rgb(38,121,15)"/>
<circle cx="203.1" cy="184.7" r="0.63" fill="rgb(17,70,16)"/>
<circle cx="191.6" cy="227.1" r="0.51" fill="rgb(23,148,26)"/>
<circle cx="196.5" cy="201.8" r="0.58" fill="rgb(12,61,32)"/>
<circle cx="200.5" cy="235.8" r="0.60" fill="rgb(32,120,18)"/>
<circle cx="247.7" cy="227.5" r="0.46" fill="rgb(18,97,14)"/>
<circle cx="243.8" cy="237.2" r="0.47" fill="rgb(36,112,26)"/>
<circle cx="199.5" cy="195.0" r="0.87" fill="rgb(16,119,8)"/>
<circle cx="247.3" cy="231.3" r="0.46" fill="rgb(12,97,19)"/>
<circle cx="194.0" cy="223.0" r="0.83" fill="rgb(36,80,14)"/>
<circle cx="250.7" cy="212.7" r="0.47" fill="rgb(31,67,25)"/>
<circle cx="192.8" cy="198.9" r="0.56" fill="rgb(18,53,31)"/>
<circle cx="244.7" cy="233.0" r="0.55" fill="rgb(35,130,13)"/>
<circle cx="241.6" cy="233.8" r="0.53" fill="rgb(10,147,11)"/>
<circle cx="241.2" cy="234.9" r="0.48" fill="rgb(36,69,17)"/>
<circle cx="197.3" cy="206.1" r="0.90" fill="rgb(31,81,21)"/>
<circle cx="192.0" cy="217.0" r="0.48" fill="rgb(37,124,14)"/>
<circle cx="233.1" cy="242.1" r="0.45" fill="rgb(38,54,34)"/>
<circle cx="201.0" cy="200.5" r="0.46" fill="rgb(11,113,14)"/>
<circle cx="247.2" cy="232.0" r="0.45" fill="rgb(9,118,32)"/>
<circle cx="192.1" cy="242.7" r="0.48" fill="rgb(40,56,21)"/>
<circle cx="200.3" cy="217.3" r="0.69" fill="rgb(28,81,24)"/>
<circle cx="225.5" cy="220.1" r="0.94" fill="rgb(40,80,31)"/>
<circle cx="248.3" cy="237.2" r="0.55" fill="rgb(30,67,31)"/>
<circle cx="251.6" cy="236.9" r="0.47" fill="rgb(14,72,9)"/>
<circle cx="197.5" cy="198.9" r="0.61" fill="rgb(32,95,26)"/>
<circle cx="217.6" cy="223.5" r="0.58" fill="rgb(25,106,18)"/>
<circle cx="199.2" cy="205.9" r="0.67" fill="rgb(38,148,21)"/>
<circle cx="212.3" cy="241.3" r="0.57" fill="rgb(11,111,10)"/>
<circle cx="219.9" cy="213.4" r="0.66" fill="rgb(21,51,28)"/>
<circle cx="188.2" cy="190.5" r="0.47" fill="rgb(32,58,28)"/>
<circle cx="207.6" cy="201.3" r="0.46" fill="rgb(35,79,26)"/>
<circle cx="194.6" cy="237.7" r="0.58" fill="rgb(39,60,35)"/>
<circle cx="196.4" cy="202.1" r="0.82" fill="rgb(19,149,10)"/>
<circle cx="212.4" cy="212.7" r="0.51" fill="rgb(34,86,17)"/>
<circle cx="239.9" cy="199.7" r="0.48" fill="rgb(24,65,12)"/>
<circle cx="197.6" cy="204.3" r="0.47" fill="rgb(14,106,9)"/>
<circle cx="223.1" cy="212.6" r="0.75" fill="rgb(38,79,18)"/>
<circle cx="190.8" cy="233.6" r="0.62" fill="rgb(14,139,32)"/>
<circle cx="240.6" cy="214.5" r="0.59" fill="rgb(8,67,28)"/>
<circle cx="205.8" cy="211.8" r="0.45" fill="rgb(29,96,32)"/>
<circle cx="199.9" cy="203.4" r="0.48" fill="rgb(11,104,33)"/>
<circle cx="212.8" cy="191.2" r="0.58" fill="rgb(17,76,27)"/>
<circle cx="239.2" cy="211.0" r="0.57" fill="rgb(33,104,17)"/>
<circle cx="205.5" cy="214.5" r="0.78" fill="rgb(37,56,22)"/>
<circle cx="184.9" cy="221.5" r="0.48" fill="rgb(10,149,25)"/>
<circle cx="183.7" cy="252.2" r="0.45" fill="rgb(35,84,9)"/>
<circle cx="195.5" cy="247.6" r="0.58" fill="rgb(18,128,22)"/>
<circle cx="212.8" cy="223.1" r="0.46" fill="rgb(22,101,33)"/>
<circle cx="195.5" cy="245.5" r="0.50" fill="rgb(9,54,22)"/>
<circle cx="229.4" cy="201.7" r="0.63" fill="rgb(13,108,23)"/>
<circle cx="223.9" cy="214.5" r="0.90" fill="rgb(40,115,8)"/>
<circle cx="188.0" cy="219.0" r="0.47" fill="rgb(21,103,22)"/>
<circle cx="248.9" cy="231.0" r="0.81" fill="rgb(17,117,12)"/>
<circle cx="193.5" cy="221.4" r="0.46" fill="rgb(38,71,14)"/>
<circle cx="217.3" cy="225.7" r="0.51" fill="rgb(15,109,10)"/>
<circle cx="186.5" cy="220.2" r="0.49" fill="rgb(11,122,31)"/>
<circle cx="243.0" cy="210.5" r="0.73" fill="rgb(17,92,22)"/>
<circle cx="227.5" cy="195.0" r="0.48" fill="rgb(12,80,24)"/>
<circle cx="218.6" cy="194.6" r="0.69" fill="rgb(27,81,17)"/>
<circle cx="238.7" cy="199.2" r="0.51" fill="rgb(19,135,16)"/>
<circle cx="240.1" cy="195.6" r="0.69" fill="rgb(8,140,29)"/>
<circle cx="223.5" cy="212.7" r="0.51" fill="rgb(9,106,30)"/>
<circle cx="203.2" cy="201.6" r="0.45" fill="rgb(15,59,19)"/>
<circle cx="237.1" cy="185.7" r="0.77" fill="rgb(37,112,26)"/>
<circle cx="215.3" cy="233.8" r="0.92" fill="rgb(30,93,10)"/>
<circle cx="236.7" cy="244.0" r="0.86" fill="rgb(21,126,18)"/>
<circle cx="250.9" cy="234.5" r="0.73" fill="rgb(34,86,34)"/>
<circle cx="192.0" cy="197.4" r="0.46" fill="rgb(36,89,14)"/>
<circle cx="243.3" cy="230.6" r="0.69" fill="rgb(15,76,27)"/>
<circle cx="183.3" cy="194.3" r="0.54" fill="rgb(35,87,8)"/>
<circle cx="191.4" cy="251.4" r="0.46" fill="rgb(18,69,32)"/>
<circle cx="187.3" cy="224.7" r="0.76" fill="rgb(21,111,8)"/>
<circle cx="207.1" cy="241.2" r="0.56" fill="rgb(33,126,34)"/>
<circle cx="200.4" cy="248.5" r="0.65" fill="rgb(23,143,12)"/>
<circle cx="186.5" cy="223.4" r="0.66" fill="rgb(35,58,17)"/>
<circle cx="243.9" cy="191.2" r="0.87" fill="rgb(12,63,14)"/>
<circle cx="190.1" cy="185.0" r="0.55" fill="rgb(20,81,26)"/>
<circle cx="190.6" cy="185.2" r="0.61" fill="rgb(32,103,20)"/>
<circle cx="241.1" cy="228.7" r="0.80" fill="rgb(38,98,25)"/>
<circle cx="200.9" cy="195.3" r="0.83" fill="rgb(8,128,28)"/>
<circle cx="251.2" cy="219.0" r="0.57" fill="rgb(14,70,28)"/>
<circle cx="198.7" cy="217.8" r="0.85" fill="rgb(21,63,11)"/>
<circle cx="227.2" cy="211.8" r="0.73" fill="rgb(33,76,26)"/>
<circle cx="197.3" cy="199.6" r="0.83" fill="rgb(39,86,34)"/>
<circle cx="193.3" cy="190.9" r="0.85" fill="rgb(24,148,34)"/>
<circle cx="247.4" cy="231.7" r="0.51" fill="rgb(24,133,17)"/>
<circle cx="208.0" cy="216.7" r="0.49" fill="rgb(37,98,21)"/>
<circle cx="248.9" cy="229.9" r="0.49" fill="rgb(12,80,35)"/>
<circle cx="183.0" cy="212.2" r="0.49" fill="rgb(37,76,32)"/>
<circle cx="195.2" cy="232.9" r="0.47" fill="rgb(13,105,11)"/>
<circle cx="237.9" cy="238.5" r="0.60" fill="rgb(12,87,28)"/>
<circle cx="203.7" cy="196.2" r="0.68" fill="rgb(10,109,35)"/>
<circle cx="247.8" cy="238.3" r="0.84" fill="rgb(24,75,35)"/>
<circle cx="189.3" cy="212.1" r="0.56" fill="rgb(10,91,10)"/>
<circle cx="193.0" cy="216.2" r="0.82" fill="rgb(30,87,21)"/>
<circle cx="196.4" cy="223.2" r="0.87" fill="rgb(38,147,21)"/>
<circle cx="198.6" cy="219.8" r="0.55" fill="rgb(12,89,27)"/>
<circle cx="243.7" cy="235.4" r="0.80" fill="rgb(12,76,25)"/>
<circle cx="193.2" cy="200.7" r="0.45" fill="rgb(10,73,24)"/>
<circle cx="199.3" cy="224.0" r="0.73" fill="rgb(36,138,11)"/>
<circle cx="198.6" cy="200.6" r="0.52" fill="rgb(38,131,24)"/>
<circle cx="212.1" cy="203.2" r="0.65" fill="rgb(10,53,16)"/>
<circle cx="201.7" cy="227.9" r="0.70" fill="rgb(22,95,14)"/>
<circle cx="194.7" cy="206.0" r="0.85" fill="rgb(20,66,29)"/>
<circle cx="250.5" cy="216.1" r="0.51" fill="rgb(11,60,27)"/>
<circle cx="187.0" cy="201.6" r="0.61" fill="rgb(30,110,16)"/>
<circle cx="245.5" cy="224.4" r="0.87" fill="rgb(19,87,17)"/>
<circle cx="240.0" cy="231.2" r="0.50" fill="rgb(37,71,15)"/>
<circle cx="242.7" cy="193.2" r="0.70" fill="rgb(10,68,18)"/>
<circle cx="247.4" cy="215.8" r="0.87" fill="rgb(40,140,22)"/>
<circle cx="218.6" cy="208.5" r="0.50" fill="rgb(34,124,24)"/>
<circle cx="195.8" cy="200.2" r="0.46" fill="rgb(22,102,18)"/>
<circle cx="189.7" cy="190.6" r="0.76" fill="rgb(19,110,29)"/>
<circle cx="194.0" cy="227.4" r="0.75" fill="rgb(40,77,32)"/>
<circle cx="201.8" cy="220.3" r="0.50" fill="rgb(11,112,34)"/>
<circle cx="248.9" cy="220.9" r="0.72" fill="rgb(28,134,28)"/>
<circle cx="200.6" cy="195.4" r="0.74" fill="rgb(24,79,32)"/>
<circle cx="242.5" cy="236.0" r="0.86" fill="rgb(37,54,20)"/>
<circle cx="248.4" cy="243.8" r="0.57" fill="rgb(39,65,9)"/>
<circle cx="194.5" cy="238.5" r="0.86" fill="rgb(22,62,35)"/>
<circle cx="197.2" cy="241.5" r="0.59" fill="rgb(15,85,8)"/>
<circle cx="184.7" cy="221.6" r="0.74" fill="rgb(25,65,13)"/>
<circle cx="205.6" cy="193.6" r="0.87" fill="rgb(40,82,26)"/>
<circle cx="242.8" cy="238.1" r="0.47" fill="rgb(31,62,9)"/>
<circle cx="251.5" cy="231.2" r="0.55" fill="rgb(9,76,24)"/>
<circle cx="220.0" cy="247.6" r="0.87" fill="rgb(26,51,9)"/>
<circle cx="200.5" cy="194.0" r="0.55" fill="rgb(13,58,31)"/>
<circle cx="209.7" cy="252.3" r="0.50" fill="rgb(29,120,21)"/>
<circle cx="185.2" cy="217.0" r="0.85" fill="rgb(39,78,8)"/>
<circle cx="185.3" cy="245.9" r="0.47" fill="rgb(12,61,16)"/>
<circle cx="240.8" cy="230.4" r="0.55" fill="rgb(16,114,32)"/>
<circle cx="247.5" cy="207.2" r="0.86" fill="rgb(14,107,22)"/>
<circle cx="207.7" cy="186.2" r="0.61" fill="rgb(39,124,16)"/>
<circle cx="229.2" cy="200.0" r="0.46" fill="rgb(38,143,22)"/>
<circle cx="198.4" cy="202.6" r="0.76" fill="rgb(37,86,12)"/>
<circle cx="201.4" cy="221.5" r="0.50" fill="rgb(31,52,24)"/>
<circle cx="190.8" cy="197.4" r="0.63" fill="rgb(25,65,27)"/>
<circle cx="238.2" cy="251.1" r="0.92" fill="rgb(39,119,34)"/>
<circle cx="206.8" cy="244.3" r="0.75" fill="rgb(16,88,11)"/>
<circle cx="208.9" cy="217.5" r="0.68" fill="rgb(38,65,14)"/>
<circle cx="197.3" cy="192.9" r="0.51" fill="rgb(15,71,23)"/>
<circle cx="207.9" cy="238.9" r="0.64" fill="rgb(24,56,24)"/>
<circle cx="185.0" cy="198.1" r="0.57" fill="rgb(29,136,34)"/>
<circle cx="187.9" cy="237.6" r="0.76" fill="rgb(36,79,16)"/>
<circle cx="210.0" cy="247.9" r="0.83" fill="rgb(13,86,10)"/>
<circle cx="196.7" cy="209.1" r="0.92" fill="rgb(27,133,32)"/>
<circle cx="233.6" cy="196.6" r="0.46" fill="rgb(31,149,10)"/>
<circle cx="249.6" cy="237.7" r="0.54" fill="rgb(40,90,24)"/>
<circle cx="207.3" cy="242.5" r="0.79" fill="rgb(36,127,29)"/>
<circle cx="245.8" cy="232.1" r="0.74" fill="rgb(17,145,12)"/>
<circle cx="236.7" cy="197.1" r="0.91" fill="rgb(29,107,19)"/>
<circle cx="195.3" cy="220.5" r="0.83" fill="rgb(32,71,19)"/>
<circle cx="190.0" cy="228.2" r="0.46" fill="rgb(36,137,21)"/>
<circle cx="247.2" cy="233.7" r="0.54" fill="rgb(15,61,32)"/>
<circle cx="203.2" cy="185.1" r="0.63" fill="rgb(10,128,10)"/>
<circle cx="190.6" cy="195.4" r="0.65" fill="rgb(40,70,35)"/>
<circle cx="244.5" cy="208.9" r="0.60" fill="rgb(36,55,11)"/>
<circle cx="223.8" cy="191.2" r="0.73" fill="rgb(32,89,35)"/>
<circle cx="233.7" cy="200.0" r="0.81" fill="rgb(37,86,18)"/>
<circle cx="239.2" cy="235.3" r="0.64" fill="rgb(26,149,15)"/>
<circle cx="223.4" cy="252.4" r="0.82" fill="rgb(40,137,13)"/>
<circle cx="184.6" cy="218.3" r="0.50" fill="rgb(30,69,23)"/>
<circle cx="195.4" cy="194.2" r="0.63" fill="rgb(21,117,16)"/>
<circle cx="230.9" cy="224.7" r="0.63" fill="rgb(11,117,34)"/>
<circle cx="191.6" cy="196.0" r="0.67" fill="rgb(38,111,16)"/>
<circle cx="187.6" cy="186.2" r="0.58" fill="rgb(22,116,29)"/>
<circle cx="231.7" cy="236.4" r="0.47" fill="rgb(14,78,22)"/>
<circle cx="203.8" cy="245.4" r="0.48" fill="rgb(31,50,17)"/>
<circle cx="239.7" cy="237.8" r="0.55" fill="rgb(35,139,20)"/>
<circle cx="195.4" cy="231.5" r="0.47" fill="rgb(13,121,31)"/>
<circle cx="235.6" cy="222.1" r="0.52" fill="rgb(9,96,13)"/>
<circle cx="250.5" cy="226.2" r="0.82" fill="rgb(18,126,34)"/>
<circle cx="190.1" cy="210.6" r="0.52" fill="rgb(34,149,23)"/>
<circle cx="248.8" cy="219.2" r="0.48" fill="rgb(37,134,19)"/>
<circle cx="202.7" cy="199.5" r="0.52" fill="rgb(23,138,28)"/>
<circle cx="187.8" cy="221.4" r="0.46" fill="rgb(18,115,25)"/>
<circle cx="244.3" cy="233.1" r="0.48" fill="rgb(15,50,13)"/>
<circle cx="184.4" cy="226.2" r="0.45" fill="rgb(31,111,8)"/>
<circle cx="210.0" cy="229.9" r="0.88" fill="rgb(24,150,34)"/>
<circle cx="199.7" cy="194.6" r="0.55" fill="rgb(33,87,29)"/>
<circle cx="192.1" cy="221.9" r="0.74" fill="rgb(15,72,31)"/>
<circle cx="318.1" cy="243.9" r="0.73" fill="rgb(165,43,8)"/>
<circle cx="309.2" cy="228.6" r="0.72" fill="rgb(150,28,5)"/>
<circle cx="276.6" cy="195.4" r="0.50" fill="rgb(163,43,19)"/>
<circle cx="267.2" cy="228.4" r="0.87" fill="rgb(189,41,10)"/>
<circle cx="314.0" cy="217.3" r="0.73" fill="rgb(149,46,11)"/>
<circle cx="325.0" cy="191.4" r="0.95" fill="rgb(150,35,8)"/>
<circle cx="328.0" cy="250.5" r="0.46" fill="rgb(176,28,22)"/>
<circle cx="321.4" cy="190.5" r="0.83" fill="rgb(147,48,17)"/>
<circle cx="302.4" cy="248.0" r="0.48" fill="rgb(205,35,19)"/>
<circle cx="322.7" cy="226.3" r="0.55" fill="rgb(187,41,20)"/>
<circle cx="326.9" cy="194.3" r="0.61" fill="rgb(147,24,17)"/>
<circle cx="269.2" cy="218.3" r="0.63" fill="rgb(181,40,13)"/>
<circle cx="327.2" cy="217.9" r="0.51" fill="rgb(179,34,10)"/>
<circle cx="320.5" cy="225.9" r="0.78" fill="rgb(162,20,22)"/>
<circle cx="313.6" cy="238.9" r="0.48" fill="rgb(197,30,16)"/>
<circle cx="263.5" cy="225.4" r="0.88" fill="rgb(177,20,12)"/>
<circle cx="314.7" cy="201.5" r="0.81" fill="rgb(131,30,6)"/>
<circle cx="277.9" cy="200.0" r="0.65" fill="rgb(163,21,8)"/>
<circle cx="310.9" cy="205.3" r="0.50" fill="rgb(133,29,9)"/>
<circle cx="303.2" cy="241.5" r="0.74" fill="rgb(188,44,19)"/>
<circle cx="303.2" cy="214.6" r="0.46" fill="rgb(202,52,8)"/>
<circle cx="265.3" cy="242.7" r="0.47" fill="rgb(121,28,7)"/>
<circle cx="271.2" cy="245.8" r="0.61" fill="rgb(178,51,5)"/>
<circle cx="327.2" cy="229.2" r="0.71" fill="rgb(115,33,5)"/>
<circle cx="325.1" cy="243.8" r="0.58" fill="rgb(172,36,16)"/>
<circle cx="325.0" cy="192.5" r="0.66" fill="rgb(213,37,11)"/>
<circle cx="285.4" cy="251.2" r="0.46" fill="rgb(171,39,17)"/>
<circle cx="284.2" cy="187.7" r="0.57" fill="rgb(181,25,12)"/>
<circle cx="274.4" cy="243.4" r="0.46" fill="rgb(126,47,22)"/>
<circle cx="272.0" cy="207.5" r="0.53" fill="rgb(169,47,12)"/>
<circle cx="265.3" cy="187.7" r="0.75" fill="rgb(206,41,19)"/>
<circle cx="307.8" cy="200.0" r="0.78" fill="rgb(159,39,20)"/>
<circle cx="269.7" cy="231.8" r="0.53" fill="rgb(121,27,6)"/>
<circle cx="302.1" cy="230.0" r="0.56" fill="rgb(209,29,9)"/>
<circle cx="275.4" cy="193.1" r="0.47" fill="rgb(190,32,14)"/>
<circle cx="302.8" cy="241.5" r="0.82" fill="rgb(137,40,12)"/>
<circle cx="300.3" cy="207.7" r="0.82" fill="rgb(170,25,5)"/>
<circle cx="299.0" cy="251.5" r="0.81" fill="rgb(140,25,21)"/>
<circle cx="276.6" cy="210.3" r="0.68" fill="rgb(129,42,8)"/>
<circle cx="321.7" cy="245.3" r="0.82" fill="rgb(145,21,22)"/>
<circle cx="292.8" cy="213.8" r="0.64" fill="rgb(131,41,20)"/>
<circle cx="266.2" cy="235.9" r="0.46" fill="rgb(186,32,12)"/>
<circle cx="268.0" cy="216.4" r="0.61" fill="rgb(164,50,7)"/>
<circle cx="302.5" cy="247.2" r="0.63" fill="rgb(149,28,19)"/>
<circle cx="326.9" cy="249.4" r="0.65" fill="rgb(155,18,6)"/>
<circle cx="263.8" cy="216.3" r="0.74" fill="rgb(136,35,18)"/>
<circle cx="330.6" cy="249.5" r="0.62" fill="rgb(139,45,9)"/>
<circle cx="314.5" cy="221.0" r="0.75" fill="rgb(152,31,10)"/>
<circle cx="314.0" cy="238.4" r="0.46" fill="rgb(133,31,17)"/>
<circle cx="278.4" cy="219.2" r="0.72" fill="rgb(154,20,13)"/>
<circle cx="273.1" cy="216.9" r="0.81" fill="rgb(138,18,22)"/>
<circle cx="290.6" cy="218.5" r="0.91" fill="rgb(172,33,6)"/>
<circle cx="281.5" cy="203.1" r="0.52" fill="rgb(140,50,14)"/>
<circle cx="295.8" cy="211.5" r="0.62" fill="rgb(183,38,18)"/>
<circle cx="293.8" cy="216.8" r="0.72" fill="rgb(158,22,12)"/>
<circle cx="269.0" cy="228.4" r="0.75" fill="rgb(212,42,5)"/>
<circle cx="267.7" cy="211.5" r="0.63" fill="rgb(188,31,21)"/>
<circle cx="285.5" cy="225.3" r="0.61" fill="rgb(210,34,17)"/>
<circle cx="327.0" cy="229.0" r="0.62" fill="rgb(122,32,20)"/>
<circle cx="264.3" cy="212.0" r="0.89" fill="rgb(137,30,10)"/>
<circle cx="276.6" cy="230.1" r="0.54" fill="rgb(123,50,11)"/>
<circle cx="261.7" cy="234.6" r="0.66" fill="rgb(213,18,12)"/>
<circle cx="285.1" cy="195.0" r="0.69" fill="rgb(168,44,5)"/>
<circle cx="294.2" cy="217.4" r="0.92" fill="rgb(206,45,11)"/>
<circle cx="276.0" cy="190.9" r="0.54" fill="rgb(120,52,11)"/>
<circle cx="315.7" cy="205.5" r="0.51" fill="rgb(149,48,18)"/>
<circle cx="292.7" cy="215.1" r="0.49" fill="rgb(194,49,12)"/>
<circle cx="301.0" cy="220.1" r="0.55" fill="rgb(138,29,21)"/>
<circle cx="319.9" cy="225.3" r="0.79" fill="rgb(158,18,6)"/>
<circle cx="315.8" cy="216.8" r="0.45" fill="rgb(117,21,15)"/>
<circle cx="311.5" cy="206.0" r="0.58" fill="rgb(130,26,22)"/>
<circle cx="289.1" cy="196.5" r="0.47" fill="rgb(206,40,7)"/>
<circle cx="327.4" cy="234.7" r="0.87" fill="rgb(196,46,8)"/>
<circle cx="275.3" cy="195.2" r="0.55" fill="rgb(152,32,14)"/>
<circle cx="275.9" cy="190.0" r="0.62" fill="rgb(173,21,13)"/>
<circle cx="304.9" cy="214.9" r="0.55" fill="rgb(203,37,13)"/>
<circle cx="328.3" cy="188.3" r="0.85" fill="rgb(206,27,9)"/>
<circle cx="327.5" cy="218.8" r="0.90" fill="rgb(211,49,11)"/>
<circle cx="315.6" cy="249.5" r="0.54" fill="rgb(127,24,22)"/>
<circle cx="326.1" cy="199.4" r="0.87" fill="rgb(172,19,13)"/>
<circle cx="315.2" cy="226.1" r="0.54" fill="rgb(170,43,13)"/>
<circle cx="293.9" cy="239.8" r="0.49" fill="rgb(208,31,19)"/>
<circle cx="309.5" cy="197.4" r="0.52" fill="rgb(120,48,14)"/>
<circle cx="282.0" cy="208.1" r="0.45" fill="rgb(207,28,8)"/>
<circle cx="329.0" cy="210.0" r="0.62" fill="rgb(141,28,11)"/>
<circle cx="301.1" cy="249.1" r="0.81" fill="rgb(167,46,8)"/>
<circle cx="296.6" cy="223.7" r="0.54" fill="rgb(211,39,10)"/>
<circle cx="298.2" cy="204.7" r="0.79" fill="rgb(170,36,12)"/>
<circle cx="289.1" cy="213.7" r="0.45" fill="rgb(171,43,14)"/>
<circle cx="277.0" cy="192.8" r="0.82" fill="rgb(200,47,20)"/>
<circle cx="295.1" cy="250.3" r="0.50" fill="rgb(124,41,18)"/>
<circle cx="327.6" cy="183.3" r="0.54" fill="rgb(166,36,14)"/>
<circle cx="323.8" cy="247.4" r="0.45" fill="rgb(171,33,6)"/>
<circle cx="324.6" cy="215.7" r="0.48" fill="rgb(130,27,13)"/>
<circle cx="325.3" cy="192.6" r="0.89" fill="rgb(135,44,17)"/>
<circle cx="289.5" cy="227.5" r="0.67" fill="rgb(199,24,22)"/>
<circle cx="315.2" cy="244.3" r="0.82" fill="rgb(167,22,22)"/>
<circle cx="278.9" cy="190.9" r="0.92" fill="rgb(188,22,6)"/>
<circle cx="270.5" cy="220.9" r="0.87" fill="rgb(143,31,10)"/>
<circle cx="303.1" cy="230.2" r="0.46" fill="rgb(205,42,8)"/>
<circle cx="272.9" cy="231.7" r="0.47" fill="rgb(166,49,19)"/>
<circle cx="270.8" cy="236.2" r="0.84" fill="rgb(119,26,16)"/>
<circle cx="283.3" cy="212.5" r="0.64" fill="rgb(118,50,13)"/>
<circle cx="278.5" cy="196.1" r="0.91" fill="rgb(180,32,11)"/>
<circle cx="274.3" cy="189.9" r="0.69" fill="rgb(209,31,19)"/>
<circle cx="293.6" cy="216.7" r="0.90" fill="rgb(129,18,8)"/>
<circle cx="277.6" cy="191.3" r="0.57" fill="rgb(138,48,5)"/>
<circle cx="312.9" cy="210.3" r="0.79" fill="rgb(147,28,19)"/>
<circle cx="286.1" cy="251.5" r="0.81" fill="rgb(191,25,20)"/>
<circle cx="267.4" cy="241.3" r="0.54" fill="rgb(122,30,18)"/>
<circle cx="287.1" cy="218.0" r="0.67" fill="rgb(184,39,19)"/>
<circle cx="281.2" cy="223.8" r="0.91" fill="rgb(214,51,8)"/>
<circle cx="311.1" cy="203.1" r="0.48" fill="rgb(183,37,7)"/>
<circle cx="301.0" cy="217.4" r="0.45" fill="rgb(199,38,10)"/>
<circle cx="294.9" cy="248.6" r="0.46" fill="rgb(164,51,9)"/>
<circle cx="275.8" cy="189.9" r="0.68" fill="rgb(211,26,18)"/>
<circle cx="290.7" cy="191.0" r="0.62" fill="rgb(202,48,17)"/>
<circle cx="287.3" cy="217.2" r="0.50" fill="rgb(189,42,12)"/>
<circle cx="282.4" cy="190.2" r="0.81" fill="rgb(213,42,19)"/>
<circle cx="317.4" cy="245.0" r="0.73" fill="rgb(162,44,14)"/>
<circle cx="313.1" cy="232.7" r="0.48" fill="rgb(214,26,18)"/>
<circle cx="295.4" cy="211.7" r="0.57" fill="rgb(177,28,13)"/>
<circle cx="268.7" cy="210.3" r="0.47" fill="rgb(159,43,7)"/>
<circle cx="297.0" cy="212.4" r="0.53" fill="rgb(130,25,6)"/>
<circle cx="279.0" cy="222.4" r="0.49" fill="rgb(204,37,7)"/>
<circle cx="292.9" cy="216.3" r="0.66" fill="rgb(115,31,7)"/>
<circle cx="271.4" cy="235.5" r="0.92" fill="rgb(120,22,22)"/>
<circle cx="315.9" cy="222.6" r="0.64" fill="rgb(215,31,21)"/>
<circle cx="327.4" cy="209.4" r="0.52" fill="rgb(149,50,11)"/>
<circle cx="270.6" cy="223.8" r="0.52" fill="rgb(165,32,21)"/>
<circle cx="276.5" cy="197.8" r="0.89" fill="rgb(205,24,21)"/>
<circle cx="273.4" cy="208.4" r="0.93" fill="rgb(149,27,20)"/>
<circle cx="322.4" cy="251.6" r="0.49" fill="rgb(174,39,13)"/>
<circle cx="276.4" cy="200.5" r="0.45" fill="rgb(136,50,8)"/>
<circle cx="272.4" cy="233.5" r="0.61" fill="rgb(148,24,5)"/>
<circle cx="267.4" cy="207.6" r="0.78" fill="rgb(158,23,17)"/>
<circle cx="321.4" cy="228.5" r="0.55" fill="rgb(160,36,19)"/>
<circle cx="321.0" cy="194.4" r="0.71" fill="rgb(199,20,15)"/>
<circle cx="284.4" cy="211.5" r="0.60" fill="rgb(212,48,5)"/>
<circle cx="295.1" cy="251.4" r="0.72" fill="rgb(206,21,18)"/>
<circle cx="294.8" cy="215.6" r="0.90" fill="rgb(203,22,6)"/>
<circle cx="272.4" cy="231.0" r="0.59" fill="rgb(116,37,19)"/>
<circle cx="317.1" cy="210.2" r="0.50" fill="rgb(210,36,13)"/>
<circle cx="291.3" cy="216.7" r="0.89" fill="rgb(187,40,11)"/>
<circle cx="275.2" cy="188.3" r="0.51" fill="rgb(179,46,10)"/>
<circle cx="328.6" cy="249.8" r="0.45" fill="rgb(141,52,8)"/>
<circle cx="325.6" cy="247.5" r="0.48" fill="rgb(186,18,21)"/>
<circle cx="330.5" cy="205.1" r="0.72" fill="rgb(179,43,11)"/>
<circle cx="314.0" cy="226.7" r="0.51" fill="rgb(201,26,13)"/>
<circle cx="277.1" cy="187.0" r="0.86" fill="rgb(118,35,19)"/>
<circle cx="323.3" cy="223.4" r="0.90" fill="rgb(209,38,19)"/>
<circle cx="321.6" cy="207.8" r="0.50" fill="rgb(190,39,16)"/>
<circle cx="307.7" cy="185.1" r="0.53" fill="rgb(166,50,14)"/>
<circle cx="322.6" cy="246.7" r="0.45" fill="rgb(115,24,6)"/>
<circle cx="276.7" cy="196.4" r="0.76" fill="rgb(134,28,19)"/>
<circle cx="270.1" cy="194.3" r="0.54" fill="rgb(197,34,11)"/>
<circle cx="293.1" cy="251.7" r="0.45" fill="rgb(122,41,15)"/>
<circle cx="278.4" cy="196.4" r="0.49" fill="rgb(165,46,20)"/>
<circle cx="309.0" cy="223.3" r="0.48" fill="rgb(148,51,7)"/>
<circle cx="313.8" cy="202.2" r="0.74" fill="rgb(176,31,20)"/>
<circle cx="322.2" cy="235.1" r="0.73" fill="rgb(120,20,20)"/>
<circle cx="268.4" cy="242.9" r="0.66" fill="rgb(185,33,10)"/>
<circle cx="284.3" cy="211.2" r="0.57" fill="rgb(165,24,22)"/>
<circle cx="323.0" cy="245.3" r="0.60" fill="rgb(134,39,19)"/>
<circle cx="327.4" cy="252.9" r="0.63" fill="rgb(162,30,10)"/>
<circle cx="325.2" cy="195.8" r="0.87" fill="rgb(171,42,16)"/>
<circle cx="311.3" cy="230.1" r="0.46" fill="rgb(194,24,21)"/>
<circle cx="325.2" cy="190.8" r="0.82" fill="rgb(165,25,22)"/>
<circle cx="265.3" cy="215.0" r="0.56" fill="rgb(139,45,15)"/>
<circle cx="319.5" cy="191.9" r="0.74" fill="rgb(199,37,19)"/>
<circle cx="322.2" cy="247.4" r="0.47" fill="rgb(200,28,5)"/>
<circle cx="308.1" cy="218.6" r="0.77" fill="rgb(177,22,22)"/>
<circle cx="293.5" cy="211.6" r="0.59" fill="rgb(186,25,19)"/>
<circle cx="326.4" cy="209.9" r="0.49" fill="rgb(118,39,7)"/>
<circle cx="329.7" cy="248.6" r="0.54" fill="rgb(145,47,18)"/>
<circle cx="291.3" cy="222.9" r="0.57" fill="rgb(139,18,7)"/>
<circle cx="264.2" cy="221.7" r="0.65" fill="rgb(151,42,20)"/>
<circle cx="313.0" cy="236.3" r="0.47" fill="rgb(180,34,13)"/>
<circle cx="265.2" cy="208.4" r="0.59" fill="rgb(132,29,17)"/>
<circle cx="328.4" cy="231.3" r="0.87" fill="rgb(152,21,10)"/>
<circle cx="281.3" cy="190.0" r="0.52" fill="rgb(129,29,10)"/>
<circle cx="267.6" cy="246.8" r="0.90" fill="rgb(185,44,20)"/>
<circle cx="268.9" cy="216.1" r="0.63" fill="rgb(170,52,5)"/>
<circle cx="274.4" cy="238.7" r="0.48" fill="rgb(121,37,8)"/>
<circle cx="321.9" cy="187.4" r="0.47" fill="rgb(146,36,5)"/>
<circle cx="325.6" cy="215.2" r="0.67" fill="rgb(145,19,17)"/>
<circle cx="272.2" cy="232.1" r="0.52" fill="rgb(131,33,9)"/>
<circle cx="327.1" cy="193.7" r="0.50" fill="rgb(131,43,9)"/>
<circle cx="296.2" cy="243.7" r="0.48" fill="rgb(138,21,15)"/>
<circle cx="273.5" cy="213.9" r="0.63" fill="rgb(124,34,14)"/>
<circle cx="307.7" cy="202.9" r="0.51" fill="rgb(167,45,22)"/>
<circle cx="326.4" cy="215.3" r="0.79" fill="rgb(173,36,15)"/>
<circle cx="302.8" cy="217.1" r="0.83" fill="rgb(131,27,6)"/>
<circle cx="328.2" cy="240.2" r="0.72" fill="rgb(147,18,17)"/>
<circle cx="326.6" cy="246.3" r="0.93" fill="rgb(193,27,19)"/>
<circle cx="327.5" cy="210.9" r="0.83" fill="rgb(190,31,10)"/>
<circle cx="316.3" cy="211.1" r="0.64" fill="rgb(161,25,8)"/>
<circle cx="270.5" cy="196.3" r="0.51" fill="rgb(142,44,13)"/>
<circle cx="297.9" cy="252.0" r="0.87" fill="rgb(201,24,6)"/>
<circle cx="268.9" cy="216.1" r="0.59" fill="rgb(205,37,8)"/>
<circle cx="329.1" cy="226.4" r="0.49" fill="rgb(150,51,5)"/>
<circle cx="321.1" cy="207.5" r="0.66" fill="rgb(197,40,13)"/>
<circle cx="325.6" cy="203.6" r="0.46" fill="rgb(202,18,18)"/>
<circle cx="285.7" cy="216.5" r="0.62" fill="rgb(212,18,5)"/>
<circle cx="328.7" cy="226.5" r="0.52" fill="rgb(165,52,10)"/>
<circle cx="304.5" cy="252.9" r="0.65" fill="rgb(146,19,20)"/>
<circle cx="264.9" cy="236.4" r="0.47" fill="rgb(150,49,12)"/>
<circle cx="318.0" cy="204.5" r="0.53" fill="rgb(203,34,10)"/>
<circle cx="263.4" cy="225.2" r="0.52" fill="rgb(176,48,19)"/>
<circle cx="327.8" cy="252.5" r="0.49" fill="rgb(157,18,14)"/>
<circle cx="324.4" cy="242.7" r="0.45" fill="rgb(151,20,15)"/>
<circle cx="324.9" cy="185.8" r="0.60" fill="rgb(199,38,22)"/>
<circle cx="295.8" cy="221.1" r="0.68" fill="rgb(174,38,17)"/>
<circle cx="297.2" cy="251.9" r="0.66" fill="rgb(192,30,18)"/>
<circle cx="298.1" cy="248.4" r="0.46" fill="rgb(183,37,11)"/>
<circle cx="266.1" cy="205.9" r="0.76" fill="rgb(141,29,22)"/>
<circle cx="301.3" cy="241.3" r="0.67" fill="rgb(156,50,11)"/>
<circle cx="296.9" cy="214.6" r="0.67" fill="rgb(133,21,8)"/>
<circle cx="280.6" cy="192.8" r="0.93" fill="rgb(179,18,8)"/>
<circle cx="281.6" cy="215.1" r="0.94" fill="rgb(131,23,19)"/>
<circle cx="322.9" cy="187.8" r="0.82" fill="rgb(149,26,10)"/>
<circle cx="280.6" cy="194.7" r="0.67" fill="rgb(124,41,10)"/>
<circle cx="317.2" cy="250.5" r="0.69" fill="rgb(164,39,22)"/>
<circle cx="294.9" cy="250.0" r="0.54" fill="rgb(202,36,10)"/>
<circle cx="278.7" cy="215.4" r="0.47" fill="rgb(132,24,15)"/>
<circle cx="266.8" cy="235.7" r="0.67" fill="rgb(210,47,17)"/>
<circle cx="318.5" cy="227.6" r="0.61" fill="rgb(197,39,14)"/>
<circle cx="282.3" cy="206.5" r="0.77" fill="rgb(192,20,11)"/>
<circle cx="330.0" cy="250.0" r="0.94" fill="rgb(121,45,17)"/>
<circle cx="331.2" cy="234.5" r="0.85" fill="rgb(180,36,6)"/>
<circle cx="311.3" cy="193.2" r="0.50" fill="rgb(116,42,21)"/>
<circle cx="319.9" cy="185.6" r="0.80" fill="rgb(206,38,8)"/>
<circle cx="261.9" cy="186.6" r="0.66" fill="rgb(133,45,11)"/>
<circle cx="291.6" cy="216.1" r="0.72" fill="rgb(120,22,19)"/>
<circle cx="287.2" cy="216.2" r="0.71" fill="rgb(203,28,13)"/>
<circle cx="270.0" cy="232.6" r="0.93" fill="rgb(177,41,5)"/>
<circle cx="297.2" cy="223.9" r="0.78" fill="rgb(172,29,10)"/>
<circle cx="305.8" cy="249.5" r="0.83" fill="rgb(168,50,7)"/>
<circle cx="278.6" cy="187.2" r="0.50" fill="rgb(192,23,17)"/>
<circle cx="274.5" cy="211.1" r="0.90" fill="rgb(143,41,5)"/>
<circle cx="277.8" cy="193.8" r="0.63" fill="rgb(140,18,13)"/>
<circle cx="283.3" cy="251.9" r="0.91" fill="rgb(137,32,10)"/>
<circle cx="327.1" cy="211.9" r="0.64" fill="rgb(168,44,19)"/>
<circle cx="266.5" cy="204.1" r="0.84" fill="rgb(132,44,12)"/>
<circle cx="326.3" cy="210.5" r="0.58" fill="rgb(151,38,20)"/>
<circle cx="319.6" cy="236.1" r="0.53" fill="rgb(176,38,10)"/>
<circle cx="271.4" cy="205.1" r="0.78" fill="rgb(156,44,13)"/>
<circle cx="266.0" cy="187.2" r="0.91" fill="rgb(213,41,14)"/>
<circle cx="323.5" cy="241.9" r="0.75" fill="rgb(120,21,11)"/>
<circle cx="273.8" cy="225.7" r="0.50" fill="rgb(115,39,12)"/>
<circle cx="277.0" cy="212.2" r="0.46" fill="rgb(135,33,10)"/>
<circle cx="277.8" cy="189.4" r="0.82" fill="rgb(190,48,6)"/>
<circle cx="305.5" cy="243.7" r="0.59" fill="rgb(163,25,21)"/>
<circle cx="279.1" cy="228.9" r="0.71" fill="rgb(206,19,14)"/>
<circle cx="268.9" cy="214.5" r="0.78" fill="rgb(116,25,9)"/>
<circle cx="265.1" cy="191.4" r="0.62" fill="rgb(187,40,6)"/>
<circle cx="305.5" cy="199.6" r="0.86" fill="rgb(132,45,22)"/>
<circle cx="267.4" cy="236.5" r="0.49" fill="rgb(134,43,12)"/>
<circle cx="318.7" cy="206.3" r="0.56" fill="rgb(152,45,17)"/>
<circle cx="289.3" cy="248.7" r="0.58" fill="rgb(213,44,5)"/>
<circle cx="313.8" cy="213.8" r="0.92" fill="rgb(129,27,14)"/>
<circle cx="325.0" cy="224.5" r="0.91" fill="rgb(194,29,8)"/>
<circle cx="321.3" cy="186.3" r="0.81" fill="rgb(140,42,6)"/>
<circle cx="296.8" cy="217.6" r="0.50" fill="rgb(215,30,20)"/>
<circle cx="326.3" cy="215.4" r="0.52" fill="rgb(148,31,18)"/>
<circle cx="312.2" cy="185.3" r="0.51" fill="rgb(142,38,5)"/>
<circle cx="329.5" cy="209.7" r="0.69" fill="rgb(166,39,15)"/>
<circle cx="271.6" cy="191.7" r="0.47" fill="rgb(143,35,10)"/>
<circle cx="277.4" cy="186.4" r="0.50" fill="rgb(163,25,16)"/>
<circle cx="323.2" cy="189.7" r="0.60" fill="rgb(189,27,11)"/>
<circle cx="263.6" cy="220.5" r="0.70" fill="rgb(128,45,16)"/>
<circle cx="298.5" cy="208.1" r="0.83" fill="rgb(130,50,21)"/>
<circle cx="279.2" cy="195.3" r="0.73" fill="rgb(171,29,22)"/>
<circle cx="326.5" cy="251.8" r="0.45" fill="rgb(120,49,21)"/>
<circle cx="263.2" cy="225.6" r="0.53" fill="rgb(141,45,14)"/>
<circle cx="320.4" cy="246.0" r="0.45" fill="rgb(180,19,22)"/>
<circle cx="273.9" cy="227.3" r="0.63" fill="rgb(195,30,7)"/>
<circle cx="291.6" cy="225.0" r="0.74" fill="rgb(130,47,5)"/>
<circle cx="330.4" cy="218.4" r="0.46" fill="rgb(165,49,18)"/>
<circle cx="272.0" cy="198.1" r="0.93" fill="rgb(150,24,5)"/>
<circle cx="308.1" cy="203.1" r="0.51" fill="rgb(209,49,10)"/>
<circle cx="321.5" cy="206.2" r="0.85" fill="rgb(163,37,5)"/>
<circle cx="290.7" cy="185.4" r="0.80" fill="rgb(148,37,21)"/>
<circle cx="323.9" cy="219.2" r="0.73" fill="rgb(204,21,20)"/>
<circle cx="285.6" cy="217.7" r="0.48" fill="rgb(156,32,22)"/>
<circle cx="299.5" cy="217.2" r="0.64" fill="rgb(212,40,15)"/>
<circle cx="324.5" cy="220.9" r="0.46" fill="rgb(144,28,16)"/>
<circle cx="292.7" cy="200.9" r="0.56" fill="rgb(201,34,15)"/>
<circle cx="274.3" cy="195.2" r="0.45" fill="rgb(213,52,6)"/>
<circle cx="272.3" cy="217.2" r="0.94" fill="rgb(167,40,5)"/>
<circle cx="319.4" cy="188.7" r="0.70" fill="rgb(200,18,16)"/>
<circle cx="283.0" cy="219.8" r="0.54" fill="rgb(177,26,16)"/>
<circle cx="273.5" cy="205.7" r="0.91" fill="rgb(199,46,18)"/>
<circle cx="304.9" cy="250.3" r="0.46" fill="rgb(133,20,16)"/>
<circle cx="311.8" cy="200.9" r="0.47" fill="rgb(215,32,9)"/>
<circle cx="320.2" cy="218.1" r="0.49" fill="rgb(145,40,13)"/>
<circle cx="319.8" cy="248.2" r="0.45" fill="rgb(149,25,10)"/>
<circle cx="319.9" cy="206.6" r="0.74" fill="rgb(194,46,20)"/>
<circle cx="297.0" cy="199.2" r="0.95" fill="rgb(144,43,13)"/>
<circle cx="283.8" cy="199.0" r="0.58" fill="rgb(194,44,21)"/>
<circle cx="327.7" cy="219.9" r="0.54" fill="rgb(214,19,17)"/>
<circle cx="288.0" cy="206.5" r="0.64" fill="rgb(137,24,6)"/>
<circle cx="293.1" cy="248.6" r="0.81" fill="rgb(150,31,7)"/>
<circle cx="325.1" cy="187.7" r="0.58" fill="rgb(169,29,10)"/>
<circle cx="266.0" cy="205.2" r="0.82" fill="rgb(123,28,10)"/>
<circle cx="287.7" cy="217.3" r="0.67" fill="rgb(163,25,16)"/>
<circle cx="323.3" cy="221.3" r="0.45" fill="rgb(187,50,13)"/>
<circle cx="323.5" cy="248.8" r="0.72" fill="rgb(117,20,17)"/>
<circle cx="271.4" cy="216.4" r="0.49" fill="rgb(207,26,10)"/>
<circle cx="265.8" cy="224.9" r="0.55" fill="rgb(123,35,13)"/>
<circle cx="298.9" cy="222.2" r="0.53" fill="rgb(120,45,20)"/>
<circle cx="309.2" cy="237.3" r="0.51" fill="rgb(121,32,17)"/>
<circle cx="268.1" cy="185.8" r="0.75" fill="rgb(190,45,8)"/>
<circle cx="313.4" cy="222.9" r="0.89" fill="rgb(174,47,17)"/>
<circle cx="318.4" cy="243.2" r="0.88" fill="rgb(161,28,22)"/>
<circle cx="288.9" cy="221.4" r="0.58" fill="rgb(122,35,10)"/>
<circle cx="272.2" cy="203.7" r="0.78" fill="rgb(215,37,19)"/>
<circle cx="283.0" cy="194.4" r="0.56" fill="rgb(189,44,10)"/>
<circle cx="304.9" cy="247.0" r="0.65" fill="rgb(175,33,11)"/>
<circle cx="281.6" cy="200.4" r="0.48" fill="rgb(124,41,6)"/>
<circle cx="287.3" cy="217.6" r="0.94" fill="rgb(159,36,7)"/>
<circle cx="322.7" cy="244.3" r="0.63" fill="rgb(145,29,19)"/>
<circle cx="307.3" cy="231.2" r="0.93" fill="rgb(123,52,16)"/>
<circle cx="328.5" cy="192.4" r="0.75" fill="rgb(160,18,6)"/>
<circle cx="305.3" cy="227.5" r="0.57" fill="rgb(161,39,12)"/>
<circle cx="288.4" cy="215.4" r="0.50" fill="rgb(170,40,5)"/>
<circle cx="323.3" cy="242.4" r="0.54" fill="rgb(119,43,9)"/>
<circle cx="324.8" cy="241.3" r="0.68" fill="rgb(131,35,20)"/>
<circle cx="317.2" cy="210.3" r="0.63" fill="rgb(138,44,15)"/>
<circle cx="281.6" cy="244.8" r="0.95" fill="rgb(186,45,7)"/>
<circle cx="324.7" cy="221.6" r="0.95" fill="rgb(175,20,14)"/>
<circle cx="264.7" cy="225.7" r="0.48" fill="rgb(126,36,18)"/>
<circle cx="270.4" cy="206.5" r="0.93" fill="rgb(210,24,21)"/>
<circle cx="317.4" cy="245.3" r="0.55" fill="rgb(142,42,18)"/>
<circle cx="327.4" cy="250.7" r="0.56" fill="rgb(176,21,13)"/>
<circle cx="289.6" cy="183.3" r="0.85" fill="rgb(212,50,6)"/>
<circle cx="312.8" cy="197.5" r="0.67" fill="rgb(203,44,16)"/>
<circle cx="320.2" cy="206.7" r="0.56" fill="rgb(163,26,15)"/>
<circle cx="302.8" cy="248.4" r="0.49" fill="rgb(124,21,8)"/>
<circle cx="290.7" cy="227.1" r="0.70" fill="rgb(186,19,7)"/>
<circle cx="275.2" cy="193.7" r="0.85" fill="rgb(181,38,17)"/>
<circle cx="273.3" cy="198.0" r="0.70" fill="rgb(121,41,8)"/>
<circle cx="267.2" cy="238.4" r="0.66" fill="rgb(116,34,13)"/>
<circle cx="266.8" cy="202.6" r="0.78" fill="rgb(202,28,15)"/>
<circle cx="285.8" cy="188.7" r="0.68" fill="rgb(152,26,19)"/>
<circle cx="261.6" cy="212.1" r="0.63" fill="rgb(193,39,19)"/>
<circle cx="329.5" cy="246.2" r="0.82" fill="rgb(181,45,7)"/>
<circle cx="267.8" cy="235.8" r="0.72" fill="rgb(167,51,18)"/>
<circle cx="316.4" cy="238.8" r="0.62" fill="rgb(117,35,10)"/>
<circle cx="319.2" cy="228.3" r="0.63" fill="rgb(136,48,6)"/>
<circle cx="302.5" cy="250.9" r="0.70" fill="rgb(170,21,16)"/>
<circle cx="322.9" cy="213.6" r="0.86" fill="rgb(140,44,15)"/>
<circle cx="316.4" cy="229.7" r="0.66" fill="rgb(153,37,10)"/>
<circle cx="273.5" cy="194.4" r="0.87" fill="rgb(142,48,16)"/>
<circle cx="317.1" cy="232.8" r="0.54" fill="rgb(209,22,21)"/>
<circle cx="312.6" cy="237.2" r="0.60" fill="rgb(201,26,5)"/>
<circle cx="292.5" cy="239.3" r="0.93" fill="rgb(117,41,15)"/>
<circle cx="268.9" cy="222.2" r="0.46" fill="rgb(168,24,18)"/>
<circle cx="289.8" cy="220.7" r="0.50" fill="rgb(176,34,20)"/>
<circle cx="287.6" cy="216.0" r="0.92" fill="rgb(174,52,22)"/>
<circle cx="314.2" cy="236.0" r="0.86" fill="rgb(141,20,16)"/>
<circle cx="298.5" cy="245.9" r="0.89" fill="rgb(137,35,14)"/>
<circle cx="312.8" cy="222.6" r="0.63" fill="rgb(204,24,6)"/>
<circle cx="298.6" cy="226.6" r="0.55" fill="rgb(180,19,12)"/>
<circle cx="294.5" cy="244.6" r="0.78" fill="rgb(215,22,7)"/>
<circle cx="320.4" cy="238.3" r="0.86" fill="rgb(199,33,18)"/>
<circle cx="272.5" cy="195.7" r="0.86" fill="rgb(212,33,11)"/>
<circle cx="298.9" cy="248.0" r="0.53" fill="rgb(173,41,11)"/>
<circle cx="264.1" cy="235.0" r="0.45" fill="rgb(117,22,10)"/>
<circle cx="297.4" cy="247.8" r="0.87" fill="rgb(119,49,9)"/>
<circle cx="316.5" cy="215.5" r="0.52" fill="rgb(176,21,18)"/>
<circle cx="314.1" cy="249.7" r="0.81" fill="rgb(124,35,10)"/>
<circle cx="288.6" cy="211.2" r="0.89" fill="rgb(186,22,6)"/>
<circle cx="270.9" cy="231.5" r="0.89" fill="rgb(195,22,22)"/>
<circle cx="319.2" cy="191.0" r="0.66" fill="rgb(133,37,18)"/>
<circle cx="278.4" cy="194.3" r="0.79" fill="rgb(186,51,16)"/>
<circle cx="277.6" cy="227.8" r="0.74" fill="rgb(153,48,15)"/>
<circle cx="297.3" cy="239.3" r="0.45" fill="rgb(201,19,7)"/>
<circle cx="322.7" cy="209.5" r="0.51" fill="rgb(165,32,9)"/>
<circle cx="313.1" cy="246.6" r="0.74" fill="rgb(186,22,16)"/>
<circle cx="320.1" cy="220.8" r="0.53" fill="rgb(188,36,17)"/>
<circle cx="297.0" cy="226.5" r="0.94" fill="rgb(126,51,15)"/>
<circle cx="297.2" cy="211.5" r="0.71" fill="rgb(126,26,21)"/>
<circle cx="307.1" cy="231.0" r="0.47" fill="rgb(155,43,6)"/>
<circle cx="325.5" cy="241.2" r="0.47" fill="rgb(118,41,8)"/>
<circle cx="317.9" cy="248.6" r="0.75" fill="rgb(205,21,15)"/>
<circle cx="317.8" cy="240.5" r="0.69" fill="rgb(167,46,21)"/>
<circle cx="309.5" cy="224.0" r="0.72" fill="rgb(187,52,7)"/>
<circle cx="328.5" cy="211.4" r="0.47" fill="rgb(126,44,10)"/>
<circle cx="301.6" cy="231.8" r="0.49" fill="rgb(208,24,21)"/>
<circle cx="285.5" cy="219.6" r="0.53" fill="rgb(174,28,11)"/>
<circle cx="306.7" cy="242.8" r="0.91" fill="rgb(173,49,20)"/>
<circle cx="314.0" cy="201.9" r="0.45" fill="rgb(121,46,5)"/>
<circle cx="323.7" cy="193.5" r="0.89" fill="rgb(130,36,17)"/>
<circle cx="315.6" cy="199.9" r="0.51" fill="rgb(148,29,12)"/>
<circle cx="309.5" cy="212.1" r="0.87" fill="rgb(116,18,20)"/>
<circle cx="316.7" cy="220.3" r="0.83" fill="rgb(210,38,9)"/>
<circle cx="293.4" cy="196.7" r="0.70" fill="rgb(118,28,19)"/>
<circle cx="309.5" cy="234.4" r="0.58" fill="rgb(168,21,19)"/>
<circle cx="323.8" cy="230.8" r="0.63" fill="rgb(133,50,21)"/>
<circle cx="303.2" cy="249.4" r="0.93" fill="rgb(152,26,13)"/>
<circle cx="315.2" cy="220.3" r="0.71" fill="rgb(125,43,13)"/>
<circle cx="325.1" cy="226.1" r="0.46" fill="rgb(213,39,5)"/>
<circle cx="287.8" cy="216.1" r="0.59" fill="rgb(124,47,19)"/>
<circle cx="316.3" cy="205.8" r="0.53" fill="rgb(208,50,18)"/>
<circle cx="290.6" cy="220.9" r="0.82" fill="rgb(164,32,7)"/>
<circle cx="311.7" cy="251.4" r="0.72" fill="rgb(133,27,8)"/>
<circle cx="322.2" cy="185.9" r="0.77" fill="rgb(199,48,6)"/>
<circle cx="310.1" cy="206.3" r="0.84" fill="rgb(149,49,20)"/>
<circle cx="265.0" cy="228.8" r="0.47" fill="rgb(156,19,9)"/>
<circle cx="316.6" cy="248.1" r="0.69" fill="rgb(205,42,12)"/>
<circle cx="307.1" cy="224.2" r="0.68" fill="rgb(196,44,12)"/>
<circle cx="289.9" cy="249.9" r="0.59" fill="rgb(164,31,6)"/>
<circle cx="322.0" cy="200.1" r="0.46" fill="rgb(146,32,6)"/>
<circle cx="312.8" cy="216.0" r="0.73" fill="rgb(209,52,16)"/>
<circle cx="314.5" cy="218.2" r="0.84" fill="rgb(149,40,20)"/>
<circle cx="266.3" cy="230.1" r="0.46" fill="rgb(189,38,11)"/>
<circle cx="317.8" cy="243.8" r="0.92" fill="rgb(210,27,18)"/>
<circle cx="296.1" cy="249.6" r="0.47" fill="rgb(122,51,10)"/>
<circle cx="277.9" cy="189.2" r="0.73" fill="rgb(197,47,22)"/>
<circle cx="325.6" cy="234.7" r="0.83" fill="rgb(194,51,17)"/>
<circle cx="262.3" cy="197.0" r="0.46" fill="rgb(139,35,7)"/>
<circle cx="321.4" cy="205.1" r="0.88" fill="rgb(143,20,16)"/>
<circle cx="278.7" cy="186.5" r="0.72" fill="rgb(179,49,19)"/>
<circle cx="279.6" cy="186.9" r="0.60" fill="rgb(164,20,10)"/>
<circle cx="267.4" cy="217.0" r="0.66" fill="rgb(162,35,16)"/>
<circle cx="293.0" cy="191.7" r="0.88" fill="rgb(161,45,17)"/>
<circle cx="315.6" cy="253.2" r="0.93" fill="rgb(127,34,6)"/>
<circle cx="322.3" cy="248.5" r="0.75" fill="rgb(171,51,6)"/>
<circle cx="280.6" cy="224.4" r="0.49" fill="rgb(135,22,10)"/>
<circle cx="277.1" cy="190.3" r="0.68" fill="rgb(164,50,18)"/>
<circle cx="277.4" cy="188.9" r="0.79" fill="rgb(137,25,22)"/>
<circle cx="307.9" cy="226.8" r="0.71" fill="rgb(120,41,11)"/>
<circle cx="269.7" cy="225.7" r="0.78" fill="rgb(194,23,15)"/>
<circle cx="282.1" cy="190.4" r="0.46" fill="rgb(161,18,7)"/>
<circle cx="303.1" cy="246.1" r="0.83" fill="rgb(210,43,14)"/>
<circle cx="265.0" cy="231.5" r="0.88" fill="rgb(149,18,19)"/>
<circle cx="286.0" cy="190.7" r="0.49" fill="rgb(176,29,14)"/>
<circle cx="295.9" cy="215.8" r="0.49" fill="rgb(123,49,17)"/>
<circle cx="288.2" cy="212.6" r="0.92" fill="rgb(124,23,12)"/>
<circle cx="301.9" cy="238.1" r="0.68" fill="rgb(203,46,5)"/>
<circle cx="265.8" cy="242.3" r="0.70" fill="rgb(208,41,20)"/>
<circle cx="293.4" cy="212.3" r="0.58" fill="rgb(129,44,12)"/>
<circle cx="263.9" cy="219.8" r="0.88" fill="rgb(188,51,6)"/>
<circle cx="269.7" cy="196.1" r="0.48" fill="rgb(142,43,18)"/>
<circle cx="277.8" cy="194.4" r="0.63" fill="rgb(196,52,18)"/>
<circle cx="319.2" cy="205.3" r="0.48" fill="rgb(197,38,8)"/>
<circle cx="266.9" cy="223.0" r="0.55" fill="rgb(196,20,18)"/>
<circle cx="271.9" cy="217.0" r="0.86" fill="rgb(130,52,16)"/>
<circle cx="272.2" cy="233.7" r="0.46" fill="rgb(135,25,11)"/>
<circle cx="280.5" cy="194.7" r="0.90" fill="rgb(158,20,18)"/>
<circle cx="317.8" cy="242.3" r="0.47" fill="rgb(119,47,8)"/>
<circle cx="305.3" cy="235.4" r="0.60" fill="rgb(158,39,6)"/>
<circle cx="320.7" cy="223.4" r="0.46" fill="rgb(209,31,6)"/>
<circle cx="270.9" cy="220.7" r="0.67" fill="rgb(143,25,20)"/>
<circle cx="307.8" cy="236.8" r="0.80" fill="rgb(136,51,11)"/>
<circle cx="283.1" cy="189.3" r="0.73" fill="rgb(185,22,17)"/>
<circle cx="267.4" cy="205.4" r="0.48" fill="rgb(118,46,20)"/>
<circle cx="275.8" cy="199.3" r="0.57" fill="rgb(123,46,12)"/>
<circle cx="322.6" cy="252.3" r="0.94" fill="rgb(204,38,16)"/>
<circle cx="319.9" cy="225.6" r="0.62" fill="rgb(178,47,17)"/>
<circle cx="326.9" cy="214.1" r="0.51" fill="rgb(165,33,18)"/>
<circle cx="292.5" cy="201.8" r="0.94" fill="rgb(177,23,18)"/>
<circle cx="317.0" cy="240.2" r="0.61" fill="rgb(196,21,17)"/>
<circle cx="289.5" cy="198.1" r="0.53" fill="rgb(129,49,11)"/>
<circle cx="329.4" cy="247.5" r="0.67" fill="rgb(204,51,6)"/>
<circle cx="327.5" cy="247.9" r="0.56" fill="rgb(205,21,7)"/>
<circle cx="269.3" cy="236.1" r="0.53" fill="rgb(192,26,8)"/>
<circle cx="317.4" cy="233.0" r="0.47" fill="rgb(182,30,20)"/>
<circle cx="310.0" cy="212.0" r="0.84" fill="rgb(149,36,9)"/>
<circle cx="266.3" cy="247.1" r="0.59" fill="rgb(199,43,9)"/>
<circle cx="294.5" cy="216.9" r="0.50" fill="rgb(177,28,5)"/>
<circle cx="267.6" cy="191.1" r="0.77" fill="rgb(148,51,8)"/>
<circle cx="318.6" cy="247.2" r="0.45" fill="rgb(177,36,19)"/>
<circle cx="327.0" cy="192.7" r="0.66" fill="rgb(193,24,22)"/>
<circle cx="313.0" cy="246.0" r="0.45" fill="rgb(136,48,9)"/>
<circle cx="319.0" cy="226.7" r="0.95" fill="rgb(163,44,8)"/>
<circle cx="263.8" cy="227.7" r="0.71" fill="rgb(182,30,12)"/>
<circle cx="298.3" cy="220.7" r="0.46" fill="rgb(199,51,22)"/>
<circle cx="295.6" cy="225.9" r="0.55" fill="rgb(176,39,14)"/>
<circle cx="271.4" cy="225.4" r="0.72" fill="rgb(115,32,9)"/>
<circle cx="324.8" cy="189.1" r="0.66" fill="rgb(161,24,22)"/>
<circle cx="313.5" cy="234.0" r="0.45" fill="rgb(132,46,12)"/>
<circle cx="318.4" cy="238.5" r="0.49" fill="rgb(144,30,14)"/>
<circle cx="307.9" cy="221.4" r="0.70" fill="rgb(176,30,7)"/>
<circle cx="313.5" cy="249.8" r="0.56" fill="rgb(184,44,9)"/>
<circle cx="275.7" cy="184.9" r="0.53" fill="rgb(214,27,15)"/>
<circle cx="289.2" cy="217.5" r="0.74" fill="rgb(124,31,8)"/>
<circle cx="295.6" cy="227.4" r="0.53" fill="rgb(156,22,21)"/>
<circle cx="301.8" cy="220.3" r="0.72" fill="rgb(118,52,12)"/>
<circle cx="266.9" cy="213.8" r="0.91" fill="rgb(187,45,18)"/>
<circle cx="266.3" cy="233.1" r="0.46" fill="rgb(147,25,12)"/>
<circle cx="286.9" cy="247.2" r="0.56" fill="rgb(194,29,18)"/>
<circle cx="284.6" cy="196.7" r="0.91" fill="rgb(198,50,20)"/>
<circle cx="265.4" cy="214.4" r="0.73" fill="rgb(149,19,21)"/>
<circle cx="271.2" cy="230.4" r="0.72" fill="rgb(147,26,9)"/>
<circle cx="330.5" cy="250.9" r="0.94" fill="rgb(138,32,17)"/>
<circle cx="313.5" cy="244.6" r="0.46" fill="rgb(212,37,11)"/>
<circle cx="327.7" cy="228.5" r="0.89" fill="rgb(184,36,10)"/>
<circle cx="267.4" cy="215.5" r="0.94" fill="rgb(160,26,17)"/>
<circle cx="305.3" cy="228.9" r="0.54" fill="rgb(185,37,7)"/>
<circle cx="267.2" cy="212.4" r="0.74" fill="rgb(156,52,11)"/>
<circle cx="272.9" cy="193.0" r="0.83" fill="rgb(155,38,16)"/>
<circle cx="282.6" cy="192.9" r="0.45" fill="rgb(160,24,12)"/>
<circle cx="273.2" cy="189.9" r="0.89" fill="rgb(196,43,5)"/>
<circle cx="286.5" cy="205.2" r="0.63" fill="rgb(190,50,18)"/>
<circle cx="317.3" cy="250.2" r="0.46" fill="rgb(202,45,15)"/>
<circle cx="267.8" cy="196.9" r="0.57" fill="rgb(134,37,9)"/>
<circle cx="282.3" cy="211.0" r="0.55" fill="rgb(172,35,20)"/>
<circle cx="289.5" cy="199.6" r="0.72" fill="rgb(179,26,14)"/>
<circle cx="305.4" cy="229.7" r="0.67" fill="rgb(119,30,21)"/>
<circle cx="279.8" cy="196.8" r="0.60" fill="rgb(135,24,13)"/>
<circle cx="320.1" cy="246.5" r="0.48" fill="rgb(182,21,17)"/>
<circle cx="326.7" cy="247.0" r="0.54" fill="rgb(193,35,9)"/>
<circle cx="301.9" cy="250.4" r="0.80" fill="rgb(205,34,18)"/>
<circle cx="294.7" cy="217.3" r="0.67" fill="rgb(124,42,16)"/>
<circle cx="300.2" cy="243.9" r="0.73" fill="rgb(152,41,18)"/>
<circle cx="270.0" cy="220.2" r="0.67" fill="rgb(149,22,10)"/>
<circle cx="319.8" cy="186.8" r="0.69" fill="rgb(160,44,5)"/>
<circle cx="265.1" cy="246.1" r="0.51" fill="rgb(165,50,14)"/>
<circle cx="302.8" cy="226.5" r="0.66" fill="rgb(187,29,13)"/>
<circle cx="268.3" cy="237.5" r="0.68" fill="rgb(167,43,10)"/>
<circle cx="296.6" cy="225.7" r="0.56" fill="rgb(165,43,16)"/>
<circle cx="320.7" cy="249.3" r="0.85" fill="rgb(124,46,11)"/>
<circle cx="325.9" cy="186.2" r="0.58" fill="rgb(195,42,15)"/>
<circle cx="307.4" cy="201.4" r="0.70" fill="rgb(118,40,6)"/>
<circle cx="300.6" cy="213.4" r="0.53" fill="rgb(186,34,14)"/>
<circle cx="280.0" cy="216.8" r="0.53" fill="rgb(165,40,20)"/>
<circle cx="326.5" cy="234.9" r="0.51" fill="rgb(195,39,17)"/>
<circle cx="284.7" cy="199.8" r="0.45" fill="rgb(133,23,19)"/>
<circle cx="278.4" cy="198.9" r="0.48" fill="rgb(205,25,20)"/>
<circle cx="298.1" cy="229.2" r="0.45" fill="rgb(142,46,14)"/>
<circle cx="277.9" cy="192.8" r="0.64" fill="rgb(123,34,19)"/>
<circle cx="271.3" cy="216.4" r="0.86" fill="rgb(141,25,7)"/>
<circle cx="266.7" cy="228.7" r="0.52" fill="rgb(200,47,8)"/>
<circle cx="288.4" cy="190.5" r="0.52" fill="rgb(180,40,5)"/>
<circle cx="301.8" cy="202.9" r="0.51" fill="rgb(166,47,13)"/>
<circle cx="328.3" cy="188.4" r="0.73" fill="rgb(191,32,9)"/>
<circle cx="269.3" cy="194.7" r="0.50" fill="rgb(139,35,5)"/>
<circle cx="325.9" cy="188.7" r="0.61" fill="rgb(132,50,5)"/>
<circle cx="317.7" cy="211.3" r="0.86" fill="rgb(123,50,21)"/>
<circle cx="305.8" cy="201.6" r="0.54" fill="rgb(165,32,11)"/>
<circle cx="292.2" cy="213.8" r="0.64" fill="rgb(199,37,15)"/>
<circle cx="291.4" cy="191.5" r="0.46" fill="rgb(141,44,6)"/>
<circle cx="281.9" cy="192.1" r="0.55" fill="rgb(200,21,12)"/>
<circle cx="278.5" cy="213.8" r="0.78" fill="rgb(191,25,22)"/>
<circle cx="302.9" cy="245.2" r="0.61" fill="rgb(179,34,14)"/>
<circle cx="317.5" cy="247.2" r="0.47" fill="rgb(117,21,20)"/>
<circle cx="321.8" cy="190.4" r="0.45" fill="rgb(214,19,19)"/>
<circle cx="321.7" cy="243.3" r="0.93" fill="rgb(182,28,6)"/>
<circle cx="305.8" cy="231.9" r="0.57" fill="rgb(203,37,21)"/>
<circle cx="288.5" cy="221.9" r="0.50" fill="rgb(210,28,10)"/>
<circle cx="299.2" cy="237.0" r="0.49" fill="rgb(181,49,17)"/>
<circle cx="280.3" cy="200.1" r="0.58" fill="rgb(121,38,18)"/>
<circle cx="331.1" cy="210.8" r="0.50" fill="rgb(156,29,17)"/>
<circle cx="271.2" cy="226.0" r="0.58" fill="rgb(199,40,20)"/>
<circle cx="319.1" cy="194.4" r="0.69" fill="rgb(120,20,8)"/>
<circle cx="295.4" cy="219.5" r="0.80" fill="rgb(196,23,13)"/>
<circle cx="329.1" cy="211.1" r="0.45" fill="rgb(122,38,16)"/>
<circle cx="328.0" cy="251.6" r="0.82" fill="rgb(135,48,17)"/>
<circle cx="320.2" cy="187.4" r="0.65" fill="rgb(123,49,12)"/>
<circle cx="316.9" cy="228.1" r="0.46" fill="rgb(177,28,7)"/>
<circle cx="290.9" cy="244.6" r="0.50" fill="rgb(139,39,10)"/>
<circle cx="300.6" cy="247.6" r="0.45" fill="rgb(199,43,13)"/>
<circle cx="328.2" cy="235.4" r="0.85" fill="rgb(132,42,21)"/>
<circle cx="327.0" cy="185.4" r="0.45" fill="rgb(182,33,7)"/>
<circle cx="328.6" cy="193.3" r="0.45" fill="rgb(208,26,17)"/>
<circle cx="292.7" cy="195.8" r="0.45" fill="rgb(211,20,10)"/>
<circle cx="322.9" cy="187.0" r="0.73" fill="rgb(158,42,14)"/>
<circle cx="272.5" cy="229.3" r="0.49" fill="rgb(186,30,7)"/>
<circle cx="312.1" cy="242.0" r="0.72" fill="rgb(204,41,10)"/>
<circle cx="288.7" cy="248.1" r="0.61" fill="rgb(142,50,21)"/>
<circle cx="312.6" cy="249.8" r="0.52" fill="rgb(143,46,22)"/>
<circle cx="312.1" cy="236.8" r="0.77" fill="rgb(182,34,22)"/>
<circle cx="298.2" cy="209.4" r="0.93" fill="rgb(142,23,12)"/>
<circle cx="300.4" cy="248.3" r="0.67" fill="rgb(125,24,14)"/>
<circle cx="318.4" cy="198.2" r="0.59" fill="rgb(196,25,15)"/>
<circle cx="327.5" cy="245.8" r="0.69" fill="rgb(192,25,10)"/>
<circle cx="285.7" cy="212.6" r="0.47" fill="rgb(117,25,12)"/>
<circle cx="322.3" cy="234.3" r="0.81" fill="rgb(116,42,12)"/>
<circle cx="297.1" cy="223.1" r="0.46" fill="rgb(149,23,10)"/>
<circle cx="303.4" cy="240.7" r="0.93" fill="rgb(129,22,7)"/>
<circle cx="294.1" cy="253.0" r="0.75" fill="rgb(137,47,13)"/>
<circle cx="282.3" cy="220.9" r="0.86" fill="rgb(166,23,14)"/>
<circle cx="316.1" cy="207.2" r="0.51" fill="rgb(151,27,12)"/>
<circle cx="322.7" cy="192.5" r="0.52" fill="rgb(175,22,16)"/>
<circle cx="276.6" cy="192.8" r="0.72" fill="rgb(159,46,15)"/>
<circle cx="281.2" cy="223.0" r="0.91" fill="rgb(133,47,14)"/>
<circle cx="265.0" cy="192.7" r="0.75" fill="rgb(195,44,22)"/>
<circle cx="289.0" cy="248.3" r="0.59" fill="rgb(175,49,18)"/>
<circle cx="326.5" cy="188.0" r="0.95" fill="rgb(178,36,8)"/>
<circle cx="317.8" cy="243.6" r="0.55" fill="rgb(200,18,19)"/>
<circle cx="271.4" cy="252.2" r="0.64" fill="rgb(211,29,8)"/>
<circle cx="280.8" cy="194.6" r="0.50" fill="rgb(196,51,8)"/>
<circle cx="317.4" cy="223.2" r="0.50" fill="rgb(126,32,17)"/>
<circle cx="279.8" cy="188.4" r="0.45" fill="rgb(167,40,5)"/>
<circle cx="299.7" cy="246.1" r="0.80" fill="rgb(130,38,22)"/>
<circle cx="282.9" cy="217.5" r="0.64" fill="rgb(145,24,17)"/>
<circle cx="265.4" cy="226.7" r="0.45" fill="rgb(182,36,10)"/>
<circle cx="266.9" cy="196.5" r="0.53" fill="rgb(115,24,9)"/>
<circle cx="322.3" cy="207.9" r="0.61" fill="rgb(137,49,20)"/>
<circle cx="318.9" cy="209.2" r="0.64" fill="rgb(196,25,21)"/>
<circle cx="296.6" cy="201.1" r="0.49" fill="rgb(136,52,17)"/>
<circle cx="320.9" cy="200.9" r="0.78" fill="rgb(183,45,21)"/>
<circle cx="315.6" cy="241.4" r="0.53" fill="rgb(141,41,5)"/>
<circle cx="274.9" cy="204.6" r="0.54" fill="rgb(150,25,8)"/>
<circle cx="267.5" cy="211.1" r="0.63" fill="rgb(116,36,22)"/>
<circle cx="303.7" cy="245.3" r="0.70" fill="rgb(199,35,17)"/>
<circle cx="267.1" cy="206.0" r="0.54" fill="rgb(134,52,22)"/>
<circle cx="296.4" cy="186.6" r="0.87" fill="rgb(212,48,6)"/>
<circle cx="303.3" cy="232.9" r="0.77" fill="rgb(122,30,16)"/>
<circle cx="310.1" cy="213.0" r="0.90" fill="rgb(156,52,14)"/>
<circle cx="290.4" cy="225.2" r="0.76" fill="rgb(202,42,22)"/>
<circle cx="273.2" cy="210.3" r="0.53" fill="rgb(145,20,7)"/>
<circle cx="329.3" cy="190.8" r="0.46" fill="rgb(160,32,5)"/>
<circle cx="309.0" cy="242.5" r="0.77" fill="rgb(195,40,19)"/>
<circle cx="326.9" cy="193.5" r="0.67" fill="rgb(143,44,19)"/>
<circle cx="310.6" cy="225.1" r="0.74" fill="rgb(159,39,19)"/>
<circle cx="276.9" cy="206.7" r="0.89" fill="rgb(196,41,22)"/>
<circle cx="322.6" cy="226.2" r="0.77" fill="rgb(162,46,9)"/>
<circle cx="273.3" cy="191.2" r="0.60" fill="rgb(205,33,11)"/>
<circle cx="265.8" cy="238.3" r="0.60" fill="rgb(186,51,13)"/>
<circle cx="272.5" cy="223.9" r="0.95" fill="rgb(179,32,19)"/>
<circle cx="293.5" cy="219.8" r="0.83" fill="rgb(182,37,8)"/>
<circle cx="291.2" cy="219.8" r="0.49" fill="rgb(198,44,7)"/>
<circle cx="281.2" cy="200.8" r="0.45" fill="rgb(149,52,22)"/>
<circle cx="312.7" cy="206.6" r="0.93" fill="rgb(152,47,15)"/>
<circle cx="289.2" cy="220.7" r="0.61" fill="rgb(201,51,7)"/>
<circle cx="280.1" cy="198.3" r="0.47" fill="rgb(129,39,13)"/>
<circle cx="323.4" cy="249.8" r="0.84" fill="rgb(215,46,13)"/>
<circle cx="289.1" cy="221.9" r="0.74" fill="rgb(155,19,21)"/>
<circle cx="264.3" cy="206.3" r="0.61" fill="rgb(171,50,20)"/>
<circle cx="325.6" cy="225.4" r="0.60" fill="rgb(164,36,14)"/>
<circle cx="283.6" cy="194.0" r="0.58" fill="rgb(143,41,11)"/>
<circle cx="329.4" cy="189.0" r="0.48" fill="rgb(168,20,8)"/>
<circle cx="318.4" cy="209.8" r="0.64" fill="rgb(117,47,14)"/>
<circle cx="314.3" cy="251.2" r="0.46" fill="rgb(194,24,11)"/>
<circle cx="310.7" cy="239.4" r="0.68" fill="rgb(149,18,6)"/>
<circle cx="289.5" cy="252.0" r="0.88" fill="rgb(190,48,6)"/>
<circle cx="289.5" cy="194.0" r="0.48" fill="rgb(156,45,10)"/>
<circle cx="270.8" cy="248.6" r="0.59" fill="rgb(163,38,15)"/>
<circle cx="285.8" cy="214.7" r="0.79" fill="rgb(154,43,15)"/>
<circle cx="299.2" cy="248.8" r="0.93" fill="rgb(162,40,20)"/>
<circle cx="320.1" cy="247.7" r="0.45" fill="rgb(175,37,6)"/>
<circle cx="316.4" cy="206.3" r="0.80" fill="rgb(173,46,9)"/>
<circle cx="316.4" cy="230.1" r="0.68" fill="rgb(200,18,12)"/>
<circle cx="310.0" cy="249.0" r="0.67" fill="rgb(199,25,7)"/>
<circle cx="275.4" cy="211.4" r="0.84" fill="rgb(205,18,19)"/>
<circle cx="325.6" cy="189.6" r="0.84" fill="rgb(158,23,18)"/>
<circle cx="272.9" cy="210.6" r="0.84" fill="rgb(154,36,7)"/>
<circle cx="266.4" cy="214.1" r="0.78" fill="rgb(130,25,20)"/>
<circle cx="287.4" cy="218.6" r="0.68" fill="rgb(215,31,7)"/>
<circle cx="265.7" cy="188.2" r="0.66" fill="rgb(146,22,8)"/>
<circle cx="296.4" cy="222.1" r="0.73" fill="rgb(165,27,19)"/>
<circle cx="304.6" cy="226.8" r="0.46" fill="rgb(144,18,18)"/>
<circle cx="271.8" cy="237.7" r="0.61" fill="rgb(203,42,9)"/>
<circle cx="304.1" cy="209.8" r="0.91" fill="rgb(179,25,13)"/>
<circle cx="328.2" cy="236.0" r="0.54" fill="rgb(118,37,20)"/>
<circle cx="308.4" cy="204.3" r="0.79" fill="rgb(184,51,21)"/>
<circle cx="323.6" cy="201.4" r="0.77" fill="rgb(161,30,6)"/>
<circle cx="300.7" cy="224.8" r="0.84" fill="rgb(133,41,11)"/>
<circle cx="311.6" cy="253.0" r="0.64" fill="rgb(153,33,19)"/>
<circle cx="315.8" cy="232.0" r="0.94" fill="rgb(183,39,5)"/>
<circle cx="322.6" cy="242.8" r="0.82" fill="rgb(170,30,6)"/>
<circle cx="319.0" cy="211.3" r="0.45" fill="rgb(169,33,13)"/>
<circle cx="325.2" cy="192.4" r="0.67" fill="rgb(116,25,14)"/>
<circle cx="319.4" cy="231.0" r="0.49" fill="rgb(140,25,15)"/>
<circle cx="328.7" cy="214.6" r="0.49" fill="rgb(119,39,9)"/>
<circle cx="297.9" cy="220.0" r="0.95" fill="rgb(182,21,12)"/>
<circle cx="283.6" cy="211.4" r="0.68" fill="rgb(164,19,5)"/>
<circle cx="306.3" cy="229.9" r="0.63" fill="rgb(211,29,5)"/>
<circle cx="314.0" cy="231.1" r="0.83" fill="rgb(178,31,15)"/>
<circle cx="287.7" cy="252.6" r="0.52" fill="rgb(155,32,6)"/>
<circle cx="301.4" cy="250.1" r="0.54" fill="rgb(136,27,9)"/>
<circle cx="274.0" cy="228.5" r="0.61" fill="rgb(202,25,10)"/>
<circle cx="323.9" cy="236.0" r="0.80" fill="rgb(196,50,13)"/>
<circle cx="265.5" cy="237.3" r="0.50" fill="rgb(166,35,18)"/>
<circle cx="310.9" cy="217.0" r="0.68" fill="rgb(212,33,17)"/>
<circle cx="325.5" cy="192.0" r="0.66" fill="rgb(196,49,9)"/>
<circle cx="281.6" cy="223.1" r="0.76" fill="rgb(143,42,8)"/>
<circle cx="325.7" cy="218.3" r="0.84" fill="rgb(129,31,5)"/>
<circle cx="330.7" cy="187.2" r="0.75" fill="rgb(180,40,8)"/>
<circle cx="299.1" cy="243.2" r="0.49" fill="rgb(154,38,17)"/>
<circle cx="317.0" cy="204.6" r="0.67" fill="rgb(172,44,9)"/>
<circle cx="287.2" cy="224.2" r="0.82" fill="rgb(177,30,17)"/>
<circle cx="315.3" cy="240.0" r="0.78" fill="rgb(165,43,20)"/>
<circle cx="287.1" cy="194.9" r="0.86" fill="rgb(173,34,11)"/>
<circle cx="292.1" cy="216.5" r="0.53" fill="rgb(215,43,7)"/>
<circle cx="313.1" cy="203.5" r="0.94" fill="rgb(193,40,15)"/>
<circle cx="294.9" cy="246.3" r="0.79" fill="rgb(167,18,22)"/>
<circle cx="292.8" cy="223.9" r="0.50" fill="rgb(201,24,18)"/>
<circle cx="286.8" cy="214.0" r="0.45" fill="rgb(124,30,8)"/>
<circle cx="295.4" cy="212.7" r="0.46" fill="rgb(152,41,11)"/>
<circle cx="321.3" cy="204.6" r="0.88" fill="rgb(172,36,9)"/>
<circle cx="305.2" cy="245.0" r="0.63" fill="rgb(186,47,16)"/>
<circle cx="312.1" cy="231.0" r="0.87" fill="rgb(134,21,18)"/>
<circle cx="318.2" cy="238.0" r="0.55" fill="rgb(139,36,11)"/>
<circle cx="325.6" cy="240.4" r="0.50" fill="rgb(153,46,13)"/>
<circle cx="282.0" cy="190.0" r="0.79" fill="rgb(206,48,10)"/>
<circle cx="269.8" cy="230.0" r="0.85" fill="rgb(118,43,11)"/>
<circle cx="270.7" cy="230.2" r="0.53" fill="rgb(150,20,5)"/>
<circle cx="311.3" cy="211.5" r="0.72" fill="rgb(207,33,16)"/>
<circle cx="273.6" cy="216.2" r="0.68" fill="rgb(132,41,21)"/>
<circle cx="326.1" cy="231.7" r="0.51" fill="rgb(127,40,18)"/>
<circle cx="268.7" cy="188.9" r="0.85" fill="rgb(162,22,12)"/>
<circle cx="267.5" cy="194.9" r="0.53" fill="rgb(132,18,18)"/>
<circle cx="315.0" cy="247.3" r="0.75" fill="rgb(168,18,18)"/>
<circle cx="271.0" cy="242.9" r="0.63" fill="rgb(196,23,8)"/>
<circle cx="265.5" cy="200.5" r="0.49" fill="rgb(136,46,21)"/>
<circle cx="275.6" cy="212.1" r="0.53" fill="rgb(190,45,19)"/>
<circle cx="288.7" cy="205.2" r="0.92" fill="rgb(196,22,20)"/>
<circle cx="326.3" cy="208.7" r="0.80" fill="rgb(198,27,13)"/>
<circle cx="290.2" cy="208.9" r="0.51" fill="rgb(187,43,15)"/>
<circle cx="310.0" cy="247.2" r="0.60" fill="rgb(149,33,6)"/>
<circle cx="319.3" cy="226.2" r="0.76" fill="rgb(199,33,10)"/>
<circle cx="282.5" cy="216.3" r="0.47" fill="rgb(136,34,11)"/>
<circle cx="329.3" cy="244.4" r="0.68" fill="rgb(158,46,15)"/>
<circle cx="307.6" cy="225.1" r="0.68" fill="rgb(118,39,9)"/>
<circle cx="324.5" cy="186.3" r="0.59" fill="rgb(157,30,10)"/>
<circle cx="274.7" cy="204.1" r="0.73" fill="rgb(126,43,21)"/>
<circle cx="322.0" cy="241.0" r="0.57" fill="rgb(124,44,7)"/>
<circle cx="270.0" cy="237.6" r="0.81" fill="rgb(203,45,9)"/>
<circle cx="270.1" cy="236.1" r="0.94" fill="rgb(180,26,9)"/>
<circle cx="320.2" cy="208.5" r="0.61" fill="rgb(121,45,10)"/>
<circle cx="307.5" cy="221.6" r="0.54" fill="rgb(197,27,21)"/>
<circle cx="274.6" cy="199.8" r="0.63" fill="rgb(117,18,6)"/>
<circle cx="297.3" cy="218.5" r="0.71" fill="rgb(184,32,14)"/>
<circle cx="280.3" cy="196.7" r="0.58" fill="rgb(197,34,18)"/>
<circle cx="309.7" cy="244.9" r="0.70" fill="rgb(125,18,8)"/>
<circle cx="286.2" cy="199.1" r="0.78" fill="rgb(127,29,15)"/>
<circle cx="285.0" cy="196.8" r="0.61" fill="rgb(193,46,10)"/>
<circle cx="265.2" cy="233.9" r="0.74" fill="rgb(198,22,20)"/>
<circle cx="313.0" cy="247.6" r="0.46" fill="rgb(213,31,18)"/>
<circle cx="315.2" cy="196.8" r="0.47" fill="rgb(123,41,19)"/>
<circle cx="272.9" cy="192.3" r="0.48" fill="rgb(120,51,11)"/>
<circle cx="261.6" cy="221.5" r="0.88" fill="rgb(209,42,13)"/>
<circle cx="298.0" cy="214.2" r="0.89" fill="rgb(208,19,18)"/>
<circle cx="290.5" cy="220.8" r="0.69" fill="rgb(208,19,6)"/>
<circle cx="328.4" cy="220.7" r="0.45" fill="rgb(122,20,5)"/>
<circle cx="294.1" cy="216.2" r="0.86" fill="rgb(155,21,21)"/>
<circle cx="278.5" cy="191.3" r="0.48" fill="rgb(188,35,15)"/>
<circle cx="326.6" cy="226.6" r="0.68" fill="rgb(129,23,20)"/>
<circle cx="286.9" cy="196.9" r="0.74" fill="rgb(131,27,9)"/>
<circle cx="314.3" cy="197.7" r="0.52" fill="rgb(179,34,14)"/>
<circle cx="318.1" cy="237.5" r="0.88" fill="rgb(205,42,12)"/>
<circle cx="315.1" cy="242.7" r="0.61" fill="rgb(130,47,16)"/>
<circle cx="327.7" cy="218.1" r="0.45" fill="rgb(207,38,12)"/>
<circle cx="326.0" cy="188.3" r="0.68" fill="rgb(199,40,22)"/>
<circle cx="296.4" cy="184.4" r="0.82" fill="rgb(140,49,15)"/>
<circle cx="262.0" cy="225.8" r="0.48" fill="rgb(142,50,16)"/>
<circle cx="316.1" cy="234.6" r="0.64" fill="rgb(151,22,14)"/>
<circle cx="290.7" cy="207.8" r="0.73" fill="rgb(130,32,9)"/>
<circle cx="326.6" cy="189.7" r="0.50" fill="rgb(187,36,10)"/>
<circle cx="321.1" cy="191.1" r="0.46" fill="rgb(183,30,15)"/>
<circle cx="261.8" cy="185.6" r="0.71" fill="rgb(203,42,5)"/>
<circle cx="278.5" cy="193.2" r="0.94" fill="rgb(194,35,8)"/>
<circle cx="296.8" cy="242.6" r="0.91" fill="rgb(154,46,11)"/>
<circle cx="327.7" cy="186.3" r="0.46" fill="rgb(132,28,11)"/>
<circle cx="295.8" cy="219.9" r="0.49" fill="rgb(116,47,16)"/>
<circle cx="280.5" cy="218.8" r="0.52" fill="rgb(152,35,16)"/>
<circle cx="300.1" cy="215.5" r="0.45" fill="rgb(142,36,6)"/>
<circle cx="262.7" cy="228.6" r="0.81" fill="rgb(178,37,14)"/>
<circle cx="316.2" cy="214.5" r="0.57" fill="rgb(170,25,8)"/>
<circle cx="298.4" cy="250.1" r="0.65" fill="rgb(160,29,15)"/>
<circle cx="315.8" cy="225.7" r="0.87" fill="rgb(145,32,15)"/>
<circle cx="316.7" cy="244.8" r="0.78" fill="rgb(132,44,10)"/>
<circle cx="290.6" cy="214.9" r="0.49" fill="rgb(143,34,11)"/>
<circle cx="280.4" cy="189.3" r="0.45" fill="rgb(120,47,20)"/>
<circle cx="289.0" cy="193.2" r="0.72" fill="rgb(192,31,19)"/>
<circle cx="320.9" cy="217.3" r="0.80" fill="rgb(197,27,16)"/>
<circle cx="306.4" cy="227.6" r="0.49" fill="rgb(209,37,14)"/>
<circle cx="319.8" cy="243.3" r="0.45" fill="rgb(129,30,11)"/>
<circle cx="300.2" cy="239.8" r="0.82" fill="rgb(158,31,14)"/>
<circle cx="281.1" cy="183.3" r="0.53" fill="rgb(159,31,21)"/>
<circle cx="275.1" cy="196.9" r="0.53" fill="rgb(180,24,19)"/>
<circle cx="261.8" cy="243.9" r="0.75" fill="rgb(211,34,15)"/>
<circle cx="311.4" cy="198.7" r="0.95" fill="rgb(143,42,17)"/>
<circle cx="297.4" cy="248.8" r="0.58" fill="rgb(163,20,5)"/>
<circle cx="312.5" cy="208.2" r="0.90" fill="rgb(152,28,11)"/>
<circle cx="279.0" cy="197.7" r="0.71" fill="rgb(150,20,14)"/>
<circle cx="293.5" cy="222.0" r="0.71" fill="rgb(209,19,8)"/>
<circle cx="290.7" cy="226.4" r="0.46" fill="rgb(164,26,10)"/>
<circle cx="324.9" cy="187.9" r="0.84" fill="rgb(189,51,7)"/>
<circle cx="298.8" cy="221.8" r="0.66" fill="rgb(154,43,17)"/>
<circle cx="299.7" cy="222.1" r="0.80" fill="rgb(180,51,16)"/>
<circle cx="326.8" cy="223.4" r="0.66" fill="rgb(156,48,7)"/>
<circle cx="301.2" cy="214.5" r="0.54" fill="rgb(123,22,17)"/>
<circle cx="291.4" cy="191.3" r="0.45" fill="rgb(178,24,22)"/>
<circle cx="319.3" cy="194.9" r="0.80" fill="rgb(189,19,11)"/>
<circle cx="302.6" cy="211.9" r="0.45" fill="rgb(164,40,7)"/>
<circle cx="326.2" cy="209.3" r="0.54" fill="rgb(116,38,15)"/>
<circle cx="308.4" cy="184.5" r="0.83" fill="rgb(119,40,10)"/>
<circle cx="328.4" cy="191.8" r="0.56" fill="rgb(158,21,14)"/>
<circle cx="313.6" cy="240.3" r="0.79" fill="rgb(169,47,14)"/>
<circle cx="268.4" cy="228.9" r="0.48" fill="rgb(193,49,14)"/>
<circle cx="289.7" cy="219.2" r="0.48" fill="rgb(178,49,5)"/>
<circle cx="314.9" cy="206.2" r="0.52" fill="rgb(138,21,21)"/>
<circle cx="302.0" cy="198.9" r="0.47" fill="rgb(142,48,19)"/>
<circle cx="330.1" cy="251.1" r="0.46" fill="rgb(181,20,18)"/>
<circle cx="286.1" cy="221.1" r="0.48" fill="rgb(134,39,16)"/>
<circle cx="291.4" cy="219.6" r="0.47" fill="rgb(159,41,11)"/>
<circle cx="319.4" cy="215.5" r="0.92" fill="rgb(213,33,19)"/>
<circle cx="296.8" cy="246.7" r="0.50" fill="rgb(120,40,15)"/>
<circle cx="274.2" cy="228.2" r="0.45" fill="rgb(169,27,16)"/>
<circle cx="323.2" cy="244.8" r="0.69" fill="rgb(188,45,13)"/>
<circle cx="320.5" cy="220.5" r="0.71" fill="rgb(182,29,12)"/>
<circle cx="277.2" cy="191.9" r="0.46" fill="rgb(202,42,18)"/>
<circle cx="330.9" cy="225.5" r="0.85" fill="rgb(141,22,21)"/>
<circle cx="270.7" cy="200.5" r="0.90" fill="rgb(165,36,17)"/>
<circle cx="327.1" cy="188.1" r="0.45" fill="rgb(179,38,11)"/>
<circle cx="265.3" cy="227.7" r="0.52" fill="rgb(125,47,9)"/>
<circle cx="323.9" cy="218.3" r="0.70" fill="rgb(123,48,5)"/>
<circle cx="270.9" cy="185.5" r="0.54" fill="rgb(131,36,7)"/>
<circle cx="286.0" cy="220.9" r="0.80" fill="rgb(193,39,22)"/>
<circle cx="329.4" cy="197.4" r="0.65" fill="rgb(117,35,13)"/>
<circle cx="291.6" cy="216.9" r="0.63" fill="rgb(174,21,17)"/>
<circle cx="292.9" cy="220.2" r="0.93" fill="rgb(133,44,19)"/>
<circle cx="322.9" cy="187.6" r="0.47" fill="rgb(142,19,19)"/>
<circle cx="315.2" cy="224.8" r="0.87" fill="rgb(191,43,18)"/>
<circle cx="321.3" cy="214.9" r="0.95" fill="rgb(212,33,12)"/>
<circle cx="322.8" cy="188.9" r="0.63" fill="rgb(195,39,7)"/>
<circle cx="297.0" cy="217.0" r="0.88" fill="rgb(183,24,11)"/>
<circle cx="310.5" cy="200.8" r="0.93" fill="rgb(136,35,14)"/>
<circle cx="287.7" cy="221.6" r="0.47" fill="rgb(189,35,18)"/>
<circle cx="313.0" cy="212.7" r="0.46" fill="rgb(150,29,19)"/>
<circle cx="270.6" cy="189.7" r="0.48" fill="rgb(162,25,17)"/>
<circle cx="316.7" cy="230.7" r="0.93" fill="rgb(164,40,6)"/>
<circle cx="316.3" cy="207.2" r="0.78" fill="rgb(131,20,8)"/>
<circle cx="318.1" cy="238.9" r="0.45" fill="rgb(160,23,22)"/>
<circle cx="301.8" cy="250.3" r="0.71" fill="rgb(153,52,22)"/>
<circle cx="307.1" cy="232.3" r="0.93" fill="rgb(176,38,22)"/>
<circle cx="271.4" cy="212.3" r="0.61" fill="rgb(126,23,8)"/>
<circle cx="302.0" cy="224.8" r="0.47" fill="rgb(184,44,16)"/>
<circle cx="306.8" cy="246.7" r="0.59" fill="rgb(160,23,20)"/>
<circle cx="299.0" cy="242.4" r="0.46" fill="rgb(125,43,22)"/>
<circle cx="310.9" cy="233.1" r="0.71" fill="rgb(172,30,20)"/>
<circle cx="316.5" cy="245.4" r="0.56" fill="rgb(201,49,12)"/>
<circle cx="319.3" cy="210.4" r="0.54" fill="rgb(136,19,12)"/>
<circle cx="318.3" cy="238.8" r="0.88" fill="rgb(211,20,12)"/>
<circle cx="290.6" cy="248.4" r="0.66" fill="rgb(175,45,13)"/>
<circle cx="320.6" cy="202.2" r="0.53" fill="rgb(184,18,14)"/>
<circle cx="326.8" cy="193.1" r="0.76" fill="rgb(140,43,9)"/>
<circle cx="271.6" cy="214.0" r="0.66" fill="rgb(137,33,16)"/>
<circle cx="327.0" cy="208.0" r="0.63" fill="rgb(198,19,6)"/>
<circle cx="290.4" cy="191.3" r="0.58" fill="rgb(156,22,13)"/>
<circle cx="274.6" cy="209.6" r="0.71" fill="rgb(165,25,18)"/>
<circle cx="318.7" cy="198.9" r="0.54" fill="rgb(173,18,17)"/>
<circle cx="311.8" cy="231.1" r="0.49" fill="rgb(159,45,19)"/>
<circle cx="329.8" cy="197.3" r="0.80" fill="rgb(134,45,11)"/>
<circle cx="318.8" cy="243.6" r="0.57" fill="rgb(185,23,5)"/>
<circle cx="303.5" cy="246.3" r="0.64" fill="rgb(148,40,20)"/>
<circle cx="274.8" cy="241.8" r="0.51" fill="rgb(184,18,6)"/>
<circle cx="274.2" cy="217.3" r="0.76" fill="rgb(197,38,17)"/>
<circle cx="310.5" cy="238.8" r="0.55" fill="rgb(190,32,17)"/>
<circle cx="327.2" cy="187.9" r="0.79" fill="rgb(119,41,20)"/>
<circle cx="285.1" cy="211.4" r="0.67" fill="rgb(121,27,10)"/>
<circle cx="327.2" cy="204.3" r="0.48" fill="rgb(156,20,5)"/>
<circle cx="288.5" cy="222.6" r="0.89" fill="rgb(151,18,6)"/>
<circle cx="313.1" cy="244.5" r="0.72" fill="rgb(176,46,17)"/>
<circle cx="284.4" cy="219.0" r="0.48" fill="rgb(115,42,12)"/>
<circle cx="327.5" cy="242.9" r="0.56" fill="rgb(173,46,22)"/>
<circle cx="266.2" cy="198.6" r="0.54" fill="rgb(150,46,11)"/>
<circle cx="327.0" cy="187.7" r="0.59" fill="rgb(132,39,18)"/>
<circle cx="263.9" cy="238.5" r="0.68" fill="rgb(133,50,7)"/>
<circle cx="296.3" cy="228.5" r="0.55" fill="rgb(155,26,9)"/>
<circle cx="264.5" cy="224.1" r="0.65" fill="rgb(200,43,18)"/>
<circle cx="289.5" cy="219.7" r="0.48" fill="rgb(146,38,7)"/>
<circle cx="310.1" cy="198.7" r="0.51" fill="rgb(128,50,16)"/>
<circle cx="320.5" cy="208.1" r="0.48" fill="rgb(125,18,12)"/>
<circle cx="289.7" cy="215.4" r="0.55" fill="rgb(196,36,8)"/>
<circle cx="324.7" cy="234.5" r="0.57" fill="rgb(136,34,8)"/>
<circle cx="293.4" cy="217.7" r="0.63" fill="rgb(191,36,11)"/>
<circle cx="323.8" cy="241.8" r="0.45" fill="rgb(165,20,12)"/>
<circle cx="272.0" cy="236.6" r="0.77" fill="rgb(204,20,15)"/>
<circle cx="323.9" cy="184.2" r="0.47" fill="rgb(197,41,18)"/>
<circle cx="315.5" cy="234.8" r="0.47" fill="rgb(129,26,7)"/>
<circle cx="287.8" cy="215.6" r="0.67" fill="rgb(125,39,22)"/>
<circle cx="297.4" cy="221.2" r="0.78" fill="rgb(201,42,12)"/>
<circle cx="279.2" cy="186.6" r="0.62" fill="rgb(121,37,19)"/>
<circle cx="286.5" cy="196.5" r="0.78" fill="rgb(167,34,10)"/>
<circle cx="290.6" cy="188.9" r="0.54" fill="rgb(134,37,22)"/>
<circle cx="326.9" cy="220.8" r="0.69" fill="rgb(116,19,22)"/>
<circle cx="321.6" cy="220.9" r="0.70" fill="rgb(180,47,15)"/>
<circle cx="292.8" cy="221.5" r="0.47" fill="rgb(160,23,13)"/>
<circle cx="323.8" cy="238.2" r="0.48" fill="rgb(198,29,16)"/>
<circle cx="319.6" cy="236.4" r="0.59" fill="rgb(118,32,10)"/>
<circle cx="268.6" cy="184.7" r="0.88" fill="rgb(172,19,5)"/>
<circle cx="293.1" cy="214.3" r="0.57" fill="rgb(151,40,12)"/>
<circle cx="318.5" cy="218.2" r="0.68" fill="rgb(155,46,7)"/>
<circle cx="319.0" cy="188.1" r="0.64" fill="rgb(200,31,6)"/>
<circle cx="322.2" cy="227.3" r="0.56" fill="rgb(204,50,8)"/>
<circle cx="295.9" cy="221.6" r="0.45" fill="rgb(159,44,8)"/>
<circle cx="278.2" cy="225.5" r="0.48" fill="rgb(157,49,18)"/>
<circle cx="318.1" cy="225.8" r="0.86" fill="rgb(171,35,22)"/>
<circle cx="308.7" cy="198.0" r="0.78" fill="rgb(141,27,13)"/>
<circle cx="273.0" cy="238.9" r="0.81" fill="rgb(202,39,17)"/>
<circle cx="292.8" cy="217.9" r="0.59" fill="rgb(122,44,5)"/>
<circle cx="313.8" cy="236.0" r="0.58" fill="rgb(133,25,10)"/>
<circle cx="299.6" cy="222.5" r="0.67" fill="rgb(127,34,7)"/>
<circle cx="288.4" cy="249.5" r="0.74" fill="rgb(128,26,9)"/>
<circle cx="295.3" cy="219.4" r="0.64" fill="rgb(205,31,15)"/>
<circle cx="325.6" cy="246.6" r="0.64" fill="rgb(154,46,19)"/>
<circle cx="269.3" cy="194.6" r="0.59" fill="rgb(128,37,5)"/>
<circle cx="330.5" cy="206.6" r="0.46" fill="rgb(140,44,15)"/>
<circle cx="315.0" cy="200.8" r="0.86" fill="rgb(149,20,17)"/>
<circle cx="301.7" cy="251.3" r="0.71" fill="rgb(119,29,5)"/>
<circle cx="294.0" cy="250.8" r="0.72" fill="rgb(129,30,18)"/>
<circle cx="266.2" cy="229.3" r="0.55" fill="rgb(146,32,13)"/>
<circle cx="280.9" cy="193.3" r="0.54" fill="rgb(191,28,10)"/>
<circle cx="314.1" cy="222.5" r="0.81" fill="rgb(204,31,7)"/>
<circle cx="262.5" cy="218.0" r="0.47" fill="rgb(200,22,21)"/>
<circle cx="327.5" cy="250.9" r="0.72" fill="rgb(166,31,16)"/>
<circle cx="266.5" cy="212.7" r="0.45" fill="rgb(136,44,22)"/>
<circle cx="320.9" cy="202.2" r="0.67" fill="rgb(128,36,19)"/>
<circle cx="270.3" cy="204.1" r="0.65" fill="rgb(207,22,16)"/>
<circle cx="270.7" cy="211.4" r="0.89" fill="rgb(120,22,11)"/>
<circle cx="282.8" cy="194.4" r="0.55" fill="rgb(134,52,7)"/>
<circle cx="272.3" cy="207.9" r="0.71" fill="rgb(162,43,7)"/>
<circle cx="294.9" cy="243.2" r="0.66" fill="rgb(214,18,17)"/>
<circle cx="309.7" cy="229.5" r="0.47" fill="rgb(127,39,20)"/>
<circle cx="277.8" cy="189.1" r="0.89" fill="rgb(168,30,14)"/>
<circle cx="328.5" cy="220.2" r="0.54" fill="rgb(179,35,22)"/>
<circle cx="293.8" cy="221.5" r="0.65" fill="rgb(146,37,6)"/>
<circle cx="268.0" cy="195.4" r="0.46" fill="rgb(176,49,17)"/>
<circle cx="306.8" cy="252.0" r="0.81" fill="rgb(174,27,16)"/>
<circle cx="268.8" cy="215.0" r="0.82" fill="rgb(125,30,10)"/>
<circle cx="294.2" cy="252.1" r="0.68" fill="rgb(143,44,22)"/>
<circle cx="264.5" cy="217.6" r="0.46" fill="rgb(213,45,21)"/>
<circle cx="297.5" cy="247.0" r="0.66" fill="rgb(143,37,17)"/>
<circle cx="307.8" cy="244.3" r="0.93" fill="rgb(152,33,7)"/>
<circle cx="330.5" cy="187.4" r="0.71" fill="rgb(175,38,19)"/>
<circle cx="305.3" cy="225.2" r="0.45" fill="rgb(150,35,17)"/>
<circle cx="319.7" cy="213.5" r="0.66" fill="rgb(169,39,18)"/>
<circle cx="284.6" cy="214.3" r="0.88" fill="rgb(202,34,22)"/>
<circle cx="315.1" cy="198.4" r="0.80" fill="rgb(197,25,9)"/>
<circle cx="290.7" cy="198.7" r="0.94" fill="rgb(180,22,7)"/>
<circle cx="330.0" cy="208.7" r="0.92" fill="rgb(141,51,15)"/>
<circle cx="310.3" cy="225.0" r="0.52" fill="rgb(198,47,10)"/>
<circle cx="306.9" cy="245.8" r="0.89" fill="rgb(212,27,18)"/>
<circle cx="274.9" cy="187.8" r="0.82" fill="rgb(140,37,21)"/>
<circle cx="282.7" cy="214.1" r="0.84" fill="rgb(189,39,18)"/>
<circle cx="321.2" cy="191.6" r="0.82" fill="rgb(128,33,10)"/>
<circle cx="284.4" cy="186.0" r="0.60" fill="rgb(151,36,21)"/>
<circle cx="315.9" cy="247.9" r="0.65" fill="rgb(127,22,9)"/>
<circle cx="295.3" cy="216.7" r="0.47" fill="rgb(213,27,16)"/>
<circle cx="328.7" cy="252.9" r="0.57" fill="rgb(136,31,22)"/>
<circle cx="268.1" cy="193.4" r="0.68" fill="rgb(214,18,21)"/>
<circle cx="283.7" cy="187.7" r="0.91" fill="rgb(194,46,18)"/>
<circle cx="310.2" cy="231.4" r="0.85" fill="rgb(206,45,6)"/>
<circle cx="275.2" cy="219.8" r="0.52" fill="rgb(208,42,16)"/>
<circle cx="298.5" cy="222.1" r="0.57" fill="rgb(205,19,9)"/>
<circle cx="316.1" cy="218.3" r="0.60" fill="rgb(183,27,19)"/>
<circle cx="322.1" cy="247.0" r="0.73" fill="rgb(185,41,16)"/>
<circle cx="394.1" cy="224.6" r="0.47" fill="rgb(124,23,16)"/>
<circle cx="353.9" cy="248.8" r="0.58" fill="rgb(124,46,19)"/>
<circle cx="373.1" cy="215.5" r="0.76" fill="rgb(151,46,15)"/>
<circle cx="384.3" cy="211.5" r="0.80" fill="rgb(103,41,5)"/>
<circle cx="387.7" cy="222.5" r="0.79" fill="rgb(97,28,21)"/>
<circle cx="401.6" cy="189.6" r="0.42" fill="rgb(101,14,19)"/>
<circle cx="404.1" cy="203.6" r="0.84" fill="rgb(124,21,22)"/>
<circle cx="363.3" cy="199.3" r="0.49" fill="rgb(200,50,15)"/>
<circle cx="402.2" cy="221.8" r="0.73" fill="rgb(202,27,20)"/>
<circle cx="358.3" cy="197.4" r="0.47" fill="rgb(189,15,14)"/>
<circle cx="399.4" cy="230.7" r="0.77" fill="rgb(167,40,20)"/>
<circle cx="376.4" cy="214.4" r="0.56" fill="rgb(194,47,19)"/>
<circle cx="356.3" cy="188.5" r="0.40" fill="rgb(137,51,17)"/>
<circle cx="376.9" cy="219.6" r="0.55" fill="rgb(165,11,18)"/>
<circle cx="402.0" cy="183.5" r="0.67" fill="rgb(139,49,17)"/>
<circle cx="374.7" cy="205.7" r="0.46" fill="rgb(170,30,20)"/>
<circle cx="393.8" cy="224.1" r="0.41" fill="rgb(117,51,21)"/>
<circle cx="345.7" cy="242.4" r="0.62" fill="rgb(137,18,15)"/>
<circle cx="394.8" cy="221.9" r="0.57" fill="rgb(110,35,5)"/>
<circle cx="397.3" cy="183.4" r="0.43" fill="rgb(120,47,22)"/>
<circle cx="391.9" cy="208.9" r="0.46" fill="rgb(166,51,21)"/>
<circle cx="397.5" cy="231.6" r="0.84" fill="rgb(153,48,18)"/>
<circle cx="395.7" cy="223.7" r="0.44" fill="rgb(154,54,11)"/>
<circle cx="363.0" cy="205.5" r="0.75" fill="rgb(187,38,22)"/>
<circle cx="395.5" cy="196.7" r="0.81" fill="rgb(142,36,12)"/>
<circle cx="393.7" cy="194.9" r="0.58" fill="rgb(156,40,19)"/>
<circle cx="350.2" cy="187.3" r="0.47" fill="rgb(151,25,5)"/>
<circle cx="367.0" cy="229.2" r="0.40" fill="rgb(169,10,19)"/>
<circle cx="401.2" cy="224.0" r="0.47" fill="rgb(153,38,17)"/>
<circle cx="373.9" cy="191.4" r="0.67" fill="rgb(135,38,20)"/>
<circle cx="355.9" cy="197.3" r="0.79" fill="rgb(116,45,21)"/>
<circle cx="364.0" cy="225.6" r="0.83" fill="rgb(205,38,13)"/>
<circle cx="401.3" cy="187.9" r="0.82" fill="rgb(183,24,13)"/>
<circle cx="367.8" cy="229.2" r="0.58" fill="rgb(114,40,21)"/>
<circle cx="384.9" cy="239.3" r="0.52" fill="rgb(149,24,14)"/>
<circle cx="388.2" cy="216.1" r="0.65" fill="rgb(146,40,12)"/>
<circle cx="400.9" cy="228.4" r="0.67" fill="rgb(107,18,20)"/>
<circle cx="361.2" cy="205.5" r="0.41" fill="rgb(183,43,14)"/>
<circle cx="370.2" cy="229.9" r="0.44" fill="rgb(125,41,16)"/>
<circle cx="387.7" cy="217.3" r="0.61" fill="rgb(163,48,15)"/>
<circle cx="396.2" cy="185.4" r="0.74" fill="rgb(123,12,16)"/>
<circle cx="361.6" cy="203.7" r="0.65" fill="rgb(135,30,16)"/>
<circle cx="388.7" cy="222.2" r="0.84" fill="rgb(155,46,12)"/>
<circle cx="378.3" cy="218.4" r="0.42" fill="rgb(174,15,6)"/>
<circle cx="391.4" cy="220.9" r="0.54" fill="rgb(114,22,22)"/>
<circle cx="363.4" cy="198.5" r="0.50" fill="rgb(128,43,21)"/>
<circle cx="400.0" cy="235.1" r="0.75" fill="rgb(156,24,9)"/>
<circle cx="374.3" cy="210.4" r="0.46" fill="rgb(187,24,18)"/>
<circle cx="385.0" cy="218.0" r="0.42" fill="rgb(197,44,10)"/>
<circle cx="347.2" cy="187.9" r="0.88" fill="rgb(161,10,12)"/>
<circle cx="377.1" cy="220.7" r="0.41" fill="rgb(162,34,12)"/>
<circle cx="391.0" cy="234.9" r="0.64" fill="rgb(116,21,11)"/>
<circle cx="345.2" cy="208.8" r="0.44" fill="rgb(111,47,14)"/>
<circle cx="357.0" cy="223.1" r="0.43" fill="rgb(177,52,6)"/>
<circle cx="401.1" cy="209.2" r="0.41" fill="rgb(137,48,10)"/>
<circle cx="387.9" cy="238.9" r="0.41" fill="rgb(177,39,6)"/>
<circle cx="385.2" cy="225.2" r="0.43" fill="rgb(125,35,16)"/>
<circle cx="401.6" cy="223.1" r="0.78" fill="rgb(141,34,7)"/>
<circle cx="350.9" cy="190.9" r="0.41" fill="rgb(122,35,11)"/>
<circle cx="397.5" cy="239.6" r="0.52" fill="rgb(120,37,22)"/>
<circle cx="339.2" cy="239.6" r="0.66" fill="rgb(191,10,9)"/>
<circle cx="392.1" cy="215.3" r="0.44" fill="rgb(147,55,19)"/>
<circle cx="341.2" cy="190.8" r="0.42" fill="rgb(114,11,9)"/>
<circle cx="359.5" cy="204.3" r="0.51" fill="rgb(202,49,21)"/>
<circle cx="375.1" cy="227.3" r="0.60" fill="rgb(158,50,18)"/>
<circle cx="363.4" cy="223.9" r="0.40" fill="rgb(143,52,12)"/>
<circle cx="359.4" cy="197.7" r="0.88" fill="rgb(103,33,6)"/>
<circle cx="397.8" cy="199.1" r="0.68" fill="rgb(133,11,5)"/>
<circle cx="379.0" cy="211.5" r="0.41" fill="rgb(172,49,15)"/>
<circle cx="398.9" cy="188.3" r="0.89" fill="rgb(172,50,9)"/>
<circle cx="341.4" cy="242.1" r="0.45" fill="rgb(161,51,5)"/>
<circle cx="398.5" cy="226.7" r="0.44" fill="rgb(132,18,21)"/>
<circle cx="367.0" cy="197.0" r="0.62" fill="rgb(198,42,6)"/>
<circle cx="368.4" cy="238.8" r="0.41" fill="rgb(191,30,22)"/>
<circle cx="376.4" cy="209.2" r="0.42" fill="rgb(115,14,6)"/>
<circle cx="349.7" cy="248.4" r="0.82" fill="rgb(192,47,21)"/>
<circle cx="366.1" cy="194.3" r="0.44" fill="rgb(191,13,6)"/>
<circle cx="344.0" cy="207.5" r="0.67" fill="rgb(171,41,7)"/>
<circle cx="370.9" cy="253.2" r="0.56" fill="rgb(124,24,17)"/>
<circle cx="375.1" cy="225.8" r="0.60" fill="rgb(204,25,20)"/>
<circle cx="395.3" cy="194.5" r="0.60" fill="rgb(171,39,20)"/>
<circle cx="370.1" cy="237.5" r="0.58" fill="rgb(174,38,16)"/>
<circle cx="400.7" cy="231.8" r="0.56" fill="rgb(172,19,19)"/>
<circle cx="343.5" cy="184.6" r="0.51" fill="rgb(204,12,19)"/>
<circle cx="386.7" cy="222.6" r="0.57" fill="rgb(149,22,19)"/>
<circle cx="377.6" cy="211.6" r="0.68" fill="rgb(196,23,15)"/>
<circle cx="366.0" cy="194.9" r="0.85" fill="rgb(108,40,15)"/>
<circle cx="388.9" cy="195.0" r="0.55" fill="rgb(177,10,12)"/>
<circle cx="395.8" cy="236.8" r="0.67" fill="rgb(166,26,22)"/>
<circle cx="373.5" cy="224.6" r="0.83" fill="rgb(98,34,15)"/>
<circle cx="355.1" cy="183.4" r="0.88" fill="rgb(160,13,6)"/>
<circle cx="399.1" cy="232.9" r="0.61" fill="rgb(130,29,21)"/>
<circle cx="343.5" cy="185.1" r="0.63" fill="rgb(190,50,12)"/>
<circle cx="353.4" cy="223.7" r="0.66" fill="rgb(116,32,7)"/>
<circle cx="403.2" cy="210.0" r="0.43" fill="rgb(123,50,10)"/>
<circle cx="387.6" cy="224.1" r="0.72" fill="rgb(107,35,20)"/>
<circle cx="360.2" cy="187.2" r="0.47" fill="rgb(150,50,18)"/>
<circle cx="352.5" cy="223.2" r="0.45" fill="rgb(111,51,14)"/>
<circle cx="403.3" cy="184.4" r="0.40" fill="rgb(154,35,12)"/>
<circle cx="358.6" cy="224.4" r="0.68" fill="rgb(96,10,19)"/>
<circle cx="404.2" cy="217.6" r="0.74" fill="rgb(117,13,9)"/>
<circle cx="352.7" cy="242.0" r="0.88" fill="rgb(172,53,16)"/>
<circle cx="365.0" cy="207.4" r="0.63" fill="rgb(101,32,11)"/>
<circle cx="351.9" cy="186.9" r="0.45" fill="rgb(112,18,11)"/>
<circle cx="396.2" cy="242.1" r="0.73" fill="rgb(166,27,12)"/>
<circle cx="374.2" cy="188.2" r="0.52" fill="rgb(95,12,13)"/>
<circle cx="359.1" cy="220.8" r="0.58" fill="rgb(105,41,15)"/>
<circle cx="340.2" cy="217.6" r="0.52" fill="rgb(123,21,20)"/>
<circle cx="374.1" cy="217.9" r="0.45" fill="rgb(157,38,22)"/>
<circle cx="383.8" cy="217.0" r="0.42" fill="rgb(117,30,21)"/>
<circle cx="394.2" cy="250.4" r="0.73" fill="rgb(195,49,19)"/>
<circle cx="388.4" cy="230.1" r="0.53" fill="rgb(107,41,14)"/>
<circle cx="395.2" cy="193.1" r="0.79" fill="rgb(145,54,8)"/>
<circle cx="341.8" cy="242.8" r="0.40" fill="rgb(133,27,21)"/>
<circle cx="366.0" cy="208.4" r="0.85" fill="rgb(123,40,16)"/>
<circle cx="344.3" cy="228.7" r="0.48" fill="rgb(98,18,12)"/>
<circle cx="398.2" cy="224.8" r="0.45" fill="rgb(189,22,17)"/>
<circle cx="380.7" cy="199.2" r="0.40" fill="rgb(186,24,7)"/>
<circle cx="356.6" cy="232.3" r="0.89" fill="rgb(150,13,22)"/>
<circle cx="362.0" cy="200.5" r="0.71" fill="rgb(181,51,22)"/>
<circle cx="346.4" cy="200.8" r="0.45" fill="rgb(161,31,17)"/>
<circle cx="393.9" cy="205.2" r="0.40" fill="rgb(127,16,5)"/>
<circle cx="347.8" cy="249.6" r="0.72" fill="rgb(111,54,5)"/>
<circle cx="370.6" cy="205.7" r="0.42" fill="rgb(195,19,22)"/>
<circle cx="401.4" cy="232.9" r="0.65" fill="rgb(148,40,22)"/>
<circle cx="341.0" cy="237.4" r="0.88" fill="rgb(113,29,10)"/>
<circle cx="405.1" cy="236.3" r="0.56" fill="rgb(171,41,16)"/>
<circle cx="362.8" cy="252.1" r="0.88" fill="rgb(110,23,20)"/>
<circle cx="354.4" cy="240.0" r="0.44" fill="rgb(192,54,8)"/>
<circle cx="392.0" cy="242.7" r="0.49" fill="rgb(172,24,14)"/>
<circle cx="404.1" cy="236.6" r="0.76" fill="rgb(120,28,10)"/>
<circle cx="383.5" cy="228.5" r="0.73" fill="rgb(151,53,6)"/>
<circle cx="408.0" cy="190.9" r="0.49" fill="rgb(123,45,15)"/>
<circle cx="395.6" cy="195.0" r="0.82" fill="rgb(143,27,13)"/>
<circle cx="361.8" cy="192.8" r="0.88" fill="rgb(161,27,5)"/>
<circle cx="365.7" cy="187.6" r="0.57" fill="rgb(106,10,15)"/>
<circle cx="345.2" cy="190.6" r="0.47" fill="rgb(110,49,18)"/>
<circle cx="375.7" cy="244.2" r="0.69" fill="rgb(115,26,6)"/>
<circle cx="391.3" cy="251.4" r="0.56" fill="rgb(118,52,16)"/>
<circle cx="377.1" cy="213.5" r="0.63" fill="rgb(203,36,8)"/>
<circle cx="374.2" cy="236.7" r="0.87" fill="rgb(96,20,20)"/>
<circle cx="377.5" cy="247.0" r="0.82" fill="rgb(204,27,11)"/>
<circle cx="386.5" cy="222.4" r="0.64" fill="rgb(148,28,20)"/>
<circle cx="398.8" cy="222.7" r="0.87" fill="rgb(162,45,11)"/>
<circle cx="341.9" cy="227.4" r="0.47" fill="rgb(172,19,14)"/>
<circle cx="368.3" cy="192.7" r="0.68" fill="rgb(132,54,22)"/>
<circle cx="396.1" cy="222.1" r="0.65" fill="rgb(118,46,16)"/>
<circle cx="387.4" cy="196.5" r="0.59" fill="rgb(161,37,22)"/>
<circle cx="406.2" cy="224.1" r="0.68" fill="rgb(95,39,12)"/>
<circle cx="392.8" cy="232.5" r="0.43" fill="rgb(106,14,6)"/>
<circle cx="363.7" cy="208.9" r="0.52" fill="rgb(129,25,13)"/>
<circle cx="397.9" cy="229.7" r="0.40" fill="rgb(170,23,13)"/>
<circle cx="380.8" cy="209.3" r="0.56" fill="rgb(150,23,20)"/>
<circle cx="400.1" cy="189.9" r="0.54" fill="rgb(152,55,19)"/>
<circle cx="341.4" cy="215.8" r="0.56" fill="rgb(205,35,8)"/>
<circle cx="356.2" cy="202.3" r="0.50" fill="rgb(199,48,16)"/>
<circle cx="344.1" cy="187.4" r="0.48" fill="rgb(200,26,11)"/>
<circle cx="353.2" cy="195.1" r="0.68" fill="rgb(96,52,15)"/>
<circle cx="400.2" cy="231.4" r="0.40" fill="rgb(139,27,21)"/>
<circle cx="378.6" cy="211.1" r="0.83" fill="rgb(185,55,17)"/>
<circle cx="378.4" cy="252.2" r="0.48" fill="rgb(100,37,13)"/>
<circle cx="402.8" cy="215.6" r="0.63" fill="rgb(114,15,18)"/>
<circle cx="367.3" cy="214.7" r="0.46" fill="rgb(140,35,6)"/>
<circle cx="364.5" cy="225.6" r="0.85" fill="rgb(129,51,5)"/>
<circle cx="392.5" cy="233.5" r="0.41" fill="rgb(95,39,6)"/>
<circle cx="353.7" cy="240.9" r="0.62" fill="rgb(146,29,5)"/>
<circle cx="363.5" cy="221.2" r="0.68" fill="rgb(136,55,5)"/>
<circle cx="399.7" cy="187.7" r="0.40" fill="rgb(110,35,16)"/>
<circle cx="377.0" cy="223.8" r="0.45" fill="rgb(117,55,7)"/>
<circle cx="375.9" cy="230.8" r="0.46" fill="rgb(109,34,16)"/>
<circle cx="390.5" cy="242.7" r="0.40" fill="rgb(159,27,17)"/>
<circle cx="403.9" cy="248.3" r="0.55" fill="rgb(110,22,14)"/>
<circle cx="404.7" cy="193.9" r="0.72" fill="rgb(102,21,8)"/>
<circle cx="361.3" cy="198.1" r="0.64" fill="rgb(195,35,19)"/>
<circle cx="364.1" cy="215.5" r="0.73" fill="rgb(158,45,15)"/>
<circle cx="370.6" cy="216.2" r="0.85" fill="rgb(125,27,15)"/>
<circle cx="367.4" cy="212.0" r="0.41" fill="rgb(114,55,7)"/>
<circle cx="399.5" cy="225.3" r="0.53" fill="rgb(95,28,12)"/>
<circle cx="401.6" cy="228.6" r="0.60" fill="rgb(96,48,10)"/>
<circle cx="365.1" cy="218.9" r="0.46" fill="rgb(200,31,11)"/>
<circle cx="372.0" cy="218.3" r="0.85" fill="rgb(160,25,17)"/>
<circle cx="381.4" cy="221.2" r="0.54" fill="rgb(147,35,7)"/>
<circle cx="374.0" cy="200.8" r="0.83" fill="rgb(200,21,18)"/>
<circle cx="365.9" cy="193.0" r="0.45" fill="rgb(204,38,22)"/>
<circle cx="378.2" cy="241.7" r="0.47" fill="rgb(177,51,10)"/>
<circle cx="359.9" cy="193.2" r="0.87" fill="rgb(134,46,8)"/>
<circle cx="374.7" cy="239.9" r="0.47" fill="rgb(98,34,21)"/>
<circle cx="369.2" cy="238.3" r="0.75" fill="rgb(132,25,19)"/>
<circle cx="354.9" cy="216.3" r="0.44" fill="rgb(114,14,7)"/>
<circle cx="342.6" cy="194.0" r="0.82" fill="rgb(164,37,5)"/>
<circle cx="352.5" cy="217.3" r="0.85" fill="rgb(201,27,17)"/>
<circle cx="358.1" cy="216.8" r="0.76" fill="rgb(174,19,16)"/>
<circle cx="354.3" cy="231.2" r="0.42" fill="rgb(184,24,20)"/>
<circle cx="383.6" cy="186.2" r="0.53" fill="rgb(177,35,12)"/>
<circle cx="350.4" cy="215.6" r="0.86" fill="rgb(203,41,14)"/>
<circle cx="402.7" cy="185.4" r="0.55" fill="rgb(203,43,18)"/>
<circle cx="359.0" cy="233.0" r="0.80" fill="rgb(174,11,17)"/>
<circle cx="391.7" cy="213.4" r="0.77" fill="rgb(179,54,22)"/>
<circle cx="364.8" cy="251.3" r="0.62" fill="rgb(103,11,13)"/>
<circle cx="384.0" cy="247.7" r="0.85" fill="rgb(153,40,15)"/>
<circle cx="399.6" cy="234.0" r="0.65" fill="rgb(113,15,7)"/>
<circle cx="348.3" cy="206.1" r="0.50" fill="rgb(122,53,22)"/>
<circle cx="369.1" cy="232.1" r="0.41" fill="rgb(181,34,16)"/>
<circle cx="350.7" cy="206.1" r="0.40" fill="rgb(129,23,19)"/>
<circle cx="356.7" cy="194.8" r="0.54" fill="rgb(120,55,14)"/>
<circle cx="400.3" cy="191.3" r="0.79" fill="rgb(129,31,8)"/>
<circle cx="374.1" cy="223.8" r="0.66" fill="rgb(154,19,10)"/>
<circle cx="400.4" cy="228.4" r="0.57" fill="rgb(120,27,18)"/>
<circle cx="380.3" cy="236.5" r="0.52" fill="rgb(166,26,7)"/>
<circle cx="373.2" cy="186.5" r="0.41" fill="rgb(114,36,17)"/>
<circle cx="389.0" cy="226.8" r="0.45" fill="rgb(117,45,15)"/>
<circle cx="361.0" cy="210.9" r="0.43" fill="rgb(204,23,10)"/>
<circle cx="363.7" cy="253.2" r="0.72" fill="rgb(192,53,21)"/>
<circle cx="396.4" cy="222.0" r="0.81" fill="rgb(139,17,5)"/>
<circle cx="372.8" cy="210.3" r="0.55" fill="rgb(115,37,22)"/>
<circle cx="392.6" cy="229.8" r="0.48" fill="rgb(139,13,22)"/>
<circle cx="340.8" cy="231.3" r="0.58" fill="rgb(180,24,11)"/>
<circle cx="347.3" cy="210.9" r="0.42" fill="rgb(145,21,21)"/>
<circle cx="402.9" cy="227.2" r="0.47" fill="rgb(108,21,11)"/>
<circle cx="402.2" cy="197.8" r="0.85" fill="rgb(126,13,16)"/>
<circle cx="349.2" cy="200.4" r="0.43" fill="rgb(137,28,9)"/>
<circle cx="356.5" cy="201.3" r="0.84" fill="rgb(177,47,22)"/>
<circle cx="379.3" cy="222.5" r="0.81" fill="rgb(173,28,22)"/>
<circle cx="401.7" cy="209.6" r="0.49" fill="rgb(122,31,21)"/>
<circle cx="359.1" cy="224.2" r="0.51" fill="rgb(167,19,13)"/>
<circle cx="340.3" cy="211.9" r="0.55" fill="rgb(187,26,17)"/>
<circle cx="340.8" cy="214.4" r="0.82" fill="rgb(115,10,8)"/>
<circle cx="404.2" cy="189.6" r="0.45" fill="rgb(141,46,7)"/>
<circle cx="397.5" cy="218.9" r="0.55" fill="rgb(172,28,17)"/>
<circle cx="387.7" cy="209.4" r="0.49" fill="rgb(120,21,20)"/>
<circle cx="364.3" cy="211.0" r="0.70" fill="rgb(132,46,7)"/>
<circle cx="397.5" cy="227.2" r="0.54" fill="rgb(140,20,6)"/>
<circle cx="401.7" cy="196.9" r="0.44" fill="rgb(133,26,14)"/>
<circle cx="354.4" cy="244.1" r="0.55" fill="rgb(125,34,15)"/>
<circle cx="393.9" cy="236.1" r="0.70" fill="rgb(137,26,6)"/>
<circle cx="352.7" cy="193.1" r="0.69" fill="rgb(118,15,19)"/>
<circle cx="402.4" cy="217.5" r="0.79" fill="rgb(173,21,21)"/>
<circle cx="390.8" cy="195.0" r="0.52" fill="rgb(102,39,7)"/>
<circle cx="370.7" cy="208.8" r="0.80" fill="rgb(166,14,8)"/>
<circle cx="367.5" cy="226.6" r="0.59" fill="rgb(204,39,5)"/>
<circle cx="402.9" cy="183.8" r="0.80" fill="rgb(170,25,17)"/>
<circle cx="384.1" cy="188.0" r="0.46" fill="rgb(138,29,7)"/>
<circle cx="361.0" cy="210.3" r="0.52" fill="rgb(196,39,5)"/>
<circle cx="354.5" cy="206.0" r="0.47" fill="rgb(200,13,17)"/>
<circle cx="347.3" cy="204.1" r="0.46" fill="rgb(160,12,12)"/>
<circle cx="353.2" cy="252.3" r="0.47" fill="rgb(199,52,12)"/>
<circle cx="398.1" cy="201.1" r="0.49" fill="rgb(122,27,6)"/>
<circle cx="369.2" cy="216.4" r="0.49" fill="rgb(141,19,5)"/>
<circle cx="423.7" cy="224.5" r="0.59" fill="rgb(209,27,13)"/>
<circle cx="426.7" cy="238.5" r="0.75" fill="rgb(220,24,14)"/>
<circle cx="429.3" cy="216.9" r="0.48" fill="rgb(202,26,25)"/>
<circle cx="426.3" cy="211.4" r="0.51" fill="rgb(164,16,13)"/>
<circle cx="426.7" cy="198.4" r="0.49" fill="rgb(197,14,23)"/>
<circle cx="443.9" cy="233.6" r="0.66" fill="rgb(155,20,9)"/>
<circle cx="426.3" cy="220.3" r="0.63" fill="rgb(126,19,20)"/>
<circle cx="450.8" cy="204.0" r="0.87" fill="rgb(135,20,25)"/>
<circle cx="432.4" cy="202.6" r="0.57" fill="rgb(194,6,26)"/>
<circle cx="459.5" cy="216.7" r="0.75" fill="rgb(225,26,25)"/>
<circle cx="421.2" cy="205.4" r="0.78" fill="rgb(194,8,12)"/>
<circle cx="446.5" cy="219.5" r="0.76" fill="rgb(222,17,9)"/>
<circle cx="465.9" cy="199.6" r="0.69" fill="rgb(155,21,12)"/>
<circle cx="423.6" cy="193.0" r="0.58" fill="rgb(129,17,19)"/>
<circle cx="449.6" cy="201.1" r="0.46" fill="rgb(215,11,18)"/>
<circle cx="482.5" cy="218.5" r="0.47" fill="rgb(152,8,18)"/>
<circle cx="436.5" cy="215.1" r="0.48" fill="rgb(176,12,9)"/>
<circle cx="479.0" cy="213.5" r="0.51" fill="rgb(148,16,26)"/>
<circle cx="421.6" cy="227.5" r="0.88" fill="rgb(187,14,23)"/>
<circle cx="444.0" cy="204.5" r="0.54" fill="rgb(188,12,22)"/>
<circle cx="431.1" cy="214.1" r="0.48" fill="rgb(195,7,25)"/>
<circle cx="423.8" cy="229.8" r="0.46" fill="rgb(135,20,28)"/>
<circle cx="453.0" cy="220.6" r="0.47" fill="rgb(171,17,14)"/>
<circle cx="419.5" cy="223.5" r="0.73" fill="rgb(153,15,17)"/>
<circle cx="429.2" cy="234.6" r="0.58" fill="rgb(132,9,26)"/>
<circle cx="465.8" cy="198.4" r="0.65" fill="rgb(205,22,26)"/>
<circle cx="468.1" cy="250.2" r="0.53" fill="rgb(128,24,24)"/>
<circle cx="452.8" cy="198.1" r="0.69" fill="rgb(169,9,27)"/>
<circle cx="445.6" cy="227.7" r="0.47" fill="rgb(172,28,14)"/>
<circle cx="474.5" cy="250.9" r="0.48" fill="rgb(148,24,27)"/>
<circle cx="424.5" cy="250.5" r="0.51" fill="rgb(151,23,18)"/>
<circle cx="423.2" cy="243.8" r="0.69" fill="rgb(144,26,28)"/>
<circle cx="471.6" cy="212.4" r="0.81" fill="rgb(139,26,17)"/>
<circle cx="429.8" cy="200.1" r="0.80" fill="rgb(172,18,5)"/>
<circle cx="453.6" cy="214.4" r="0.91" fill="rgb(132,23,11)"/>
<circle cx="441.4" cy="220.9" r="1.00" fill="rgb(169,5,25)"/>
<circle cx="427.3" cy="228.8" r="0.58" fill="rgb(176,25,28)"/>
<circle cx="449.3" cy="251.5" r="0.49" fill="rgb(149,26,23)"/>
<circle cx="428.1" cy="208.3" r="0.45" fill="rgb(140,21,22)"/>
<circle cx="430.5" cy="197.1" r="0.66" fill="rgb(182,9,24)"/>
<circle cx="424.8" cy="210.8" r="0.46" fill="rgb(213,9,24)"/>
<circle cx="424.1" cy="203.7" r="0.94" fill="rgb(165,7,25)"/>
<circle cx="420.0" cy="195.3" r="0.83" fill="rgb(127,8,8)"/>
<circle cx="435.6" cy="251.2" r="0.54" fill="rgb(225,11,13)"/>
<circle cx="422.5" cy="203.5" r="0.98" fill="rgb(168,18,23)"/>
<circle cx="469.5" cy="242.1" r="0.97" fill="rgb(222,5,15)"/>
<circle cx="442.9" cy="224.6" r="0.57" fill="rgb(152,10,25)"/>
<circle cx="446.3" cy="222.9" r="0.45" fill="rgb(127,22,8)"/>
<circle cx="476.5" cy="196.4" r="0.47" fill="rgb(188,16,5)"/>
<circle cx="431.8" cy="202.7" r="0.47" fill="rgb(178,24,20)"/>
<circle cx="431.7" cy="224.8" r="0.75" fill="rgb(147,17,28)"/>
<circle cx="485.6" cy="193.0" r="0.73" fill="rgb(222,9,25)"/>
<circle cx="455.7" cy="214.7" r="0.54" fill="rgb(179,15,27)"/>
<circle cx="472.7" cy="210.8" r="0.56" fill="rgb(183,5,22)"/>
<circle cx="441.2" cy="213.9" r="0.67" fill="rgb(190,18,23)"/>
<circle cx="432.1" cy="201.4" r="0.49" fill="rgb(146,13,12)"/>
<circle cx="433.8" cy="241.3" r="0.87" fill="rgb(165,20,18)"/>
<circle cx="442.9" cy="206.4" r="0.54" fill="rgb(207,5,18)"/>
<circle cx="474.9" cy="197.1" r="0.72" fill="rgb(180,25,9)"/>
<circle cx="467.3" cy="203.4" r="0.75" fill="rgb(128,23,8)"/>
<circle cx="430.6" cy="199.3" r="0.95" fill="rgb(160,5,19)"/>
<circle cx="426.4" cy="234.8" r="0.83" fill="rgb(155,6,21)"/>
<circle cx="440.4" cy="230.2" r="0.52" fill="rgb(188,6,14)"/>
<circle cx="433.7" cy="201.7" r="0.66" fill="rgb(218,14,21)"/>
<circle cx="437.1" cy="219.3" r="0.75" fill="rgb(168,16,18)"/>
<circle cx="427.7" cy="214.9" r="0.50" fill="rgb(217,24,25)"/>
<circle cx="458.5" cy="245.0" r="0.60" fill="rgb(148,28,22)"/>
<circle cx="425.2" cy="226.0" r="0.85" fill="rgb(214,28,24)"/>
<circle cx="436.8" cy="230.7" r="0.45" fill="rgb(154,27,25)"/>
<circle cx="453.9" cy="202.7" r="0.96" fill="rgb(211,6,23)"/>
<circle cx="430.7" cy="196.0" r="0.48" fill="rgb(129,17,18)"/>
<circle cx="434.0" cy="227.2" r="0.56" fill="rgb(204,17,28)"/>
<circle cx="443.9" cy="230.4" r="0.78" fill="rgb(169,27,8)"/>
<circle cx="443.5" cy="208.0" r="0.58" fill="rgb(179,23,18)"/>
<circle cx="455.3" cy="214.5" r="0.96" fill="rgb(222,24,17)"/>
<circle cx="428.7" cy="197.9" r="0.74" fill="rgb(170,19,7)"/>
<circle cx="471.6" cy="232.4" r="0.49" fill="rgb(135,8,24)"/>
<circle cx="438.7" cy="198.4" r="0.70" fill="rgb(222,11,18)"/>
<circle cx="438.4" cy="247.5" r="0.46" fill="rgb(179,19,12)"/>
<circle cx="442.6" cy="202.2" r="0.65" fill="rgb(181,21,7)"/>
<circle cx="473.2" cy="234.1" r="0.52" fill="rgb(203,26,19)"/>
<circle cx="452.0" cy="240.7" r="0.75" fill="rgb(208,7,17)"/>
<circle cx="451.1" cy="232.7" r="0.57" fill="rgb(192,17,14)"/>
<circle cx="429.1" cy="203.1" r="0.84" fill="rgb(157,10,16)"/>
<circle cx="431.7" cy="235.4" r="0.48" fill="rgb(180,17,5)"/>
<circle cx="451.0" cy="209.1" r="0.61" fill="rgb(223,20,14)"/>
<circle cx="432.7" cy="209.3" r="0.82" fill="rgb(224,19,10)"/>
<circle cx="436.3" cy="241.8" r="0.56" fill="rgb(127,13,6)"/>
<circle cx="451.1" cy="243.9" r="0.64" fill="rgb(171,17,12)"/>
<circle cx="421.8" cy="203.9" r="0.58" fill="rgb(159,27,15)"/>
<circle cx="433.1" cy="202.0" r="0.49" fill="rgb(189,5,18)"/>
<circle cx="440.0" cy="226.6" r="0.85" fill="rgb(216,10,17)"/>
<circle cx="429.1" cy="198.4" r="0.61" fill="rgb(132,14,25)"/>
<circle cx="437.0" cy="222.5" r="0.79" fill="rgb(200,8,21)"/>
<circle cx="423.3" cy="229.0" r="0.82" fill="rgb(139,24,26)"/>
<circle cx="432.5" cy="190.4" r="0.47" fill="rgb(203,16,13)"/>
<circle cx="477.4" cy="190.7" r="0.52" fill="rgb(156,18,11)"/>
<circle cx="452.0" cy="185.3" r="0.81" fill="rgb(206,23,5)"/>
<circle cx="435.3" cy="200.7" r="0.48" fill="rgb(138,22,21)"/>
<circle cx="439.2" cy="199.9" r="0.75" fill="rgb(126,19,17)"/>
<circle cx="436.9" cy="228.5" r="0.74" fill="rgb(152,6,23)"/>
<circle cx="436.0" cy="206.4" r="1.00" fill="rgb(204,14,28)"/>
<circle cx="443.9" cy="221.9" r="0.71" fill="rgb(217,21,6)"/>
<circle cx="430.4" cy="240.9" r="0.48" fill="rgb(204,25,23)"/>
<circle cx="439.0" cy="216.4" r="0.75" fill="rgb(222,17,14)"/>
<circle cx="444.0" cy="221.5" r="0.51" fill="rgb(165,19,26)"/>
<circle cx="424.0" cy="205.0" r="0.58" fill="rgb(138,8,20)"/>
<circle cx="426.9" cy="224.8" r="0.49" fill="rgb(159,28,26)"/>
<circle cx="441.0" cy="223.0" r="0.93" fill="rgb(164,21,16)"/>
<circle cx="436.2" cy="210.0" r="0.46" fill="rgb(153,26,5)"/>
<circle cx="440.5" cy="200.1" r="0.64" fill="rgb(137,21,28)"/>
<circle cx="442.2" cy="228.8" r="0.92" fill="rgb(193,19,16)"/>
<circle cx="450.3" cy="209.3" r="0.81" fill="rgb(134,21,24)"/>
<circle cx="441.5" cy="240.3" r="0.56" fill="rgb(126,9,28)"/>
<circle cx="424.7" cy="186.3" r="0.55" fill="rgb(198,14,11)"/>
<circle cx="427.5" cy="224.9" r="0.77" fill="rgb(195,12,5)"/>
<circle cx="453.2" cy="230.6" r="0.69" fill="rgb(150,11,24)"/>
<circle cx="444.7" cy="211.2" r="0.93" fill="rgb(156,19,21)"/>
<circle cx="430.3" cy="206.3" r="0.82" fill="rgb(225,16,10)"/>
<circle cx="459.9" cy="223.5" r="0.47" fill="rgb(178,27,15)"/>
<circle cx="417.3" cy="205.2" r="0.58" fill="rgb(170,25,25)"/>
<circle cx="460.7" cy="239.8" r="0.62" fill="rgb(134,19,20)"/>
<circle cx="422.8" cy="238.5" r="0.50" fill="rgb(202,22,8)"/>
<circle cx="469.4" cy="187.0" r="0.89" fill="rgb(139,28,12)"/>
<circle cx="438.2" cy="212.9" r="0.72" fill="rgb(127,20,23)"/>
<circle cx="437.1" cy="195.3" r="0.53" fill="rgb(198,28,9)"/>
<circle cx="430.2" cy="240.1" r="0.87" fill="rgb(166,8,24)"/>
<circle cx="478.5" cy="221.9" r="0.45" fill="rgb(144,19,15)"/>
<circle cx="424.8" cy="224.5" r="0.91" fill="rgb(166,26,18)"/>
<circle cx="421.1" cy="211.5" r="0.64" fill="rgb(150,11,14)"/>
<circle cx="436.0" cy="249.4" r="0.78" fill="rgb(135,17,12)"/>
<circle cx="443.2" cy="208.1" r="0.66" fill="rgb(135,20,13)"/>
<circle cx="451.8" cy="220.5" r="0.86" fill="rgb(173,23,18)"/>
<circle cx="439.9" cy="220.5" r="0.84" fill="rgb(151,24,19)"/>
<circle cx="441.6" cy="221.6" r="0.48" fill="rgb(210,10,9)"/>
<circle cx="432.6" cy="243.1" r="0.47" fill="rgb(129,7,6)"/>
<circle cx="461.5" cy="253.0" r="0.74" fill="rgb(224,8,19)"/>
<circle cx="428.0" cy="209.7" r="0.45" fill="rgb(198,17,13)"/>
<circle cx="422.9" cy="225.4" r="0.62" fill="rgb(164,5,17)"/>
<circle cx="451.5" cy="205.8" r="0.58" fill="rgb(184,21,25)"/>
<circle cx="456.6" cy="215.1" r="0.81" fill="rgb(125,12,7)"/>
<circle cx="432.3" cy="238.2" r="0.64" fill="rgb(190,10,23)"/>
<circle cx="422.5" cy="242.2" r="0.88" fill="rgb(178,20,16)"/>
<circle cx="481.6" cy="184.7" r="0.60" fill="rgb(160,25,24)"/>
<circle cx="420.2" cy="233.3" r="0.66" fill="rgb(133,18,9)"/>
<circle cx="425.1" cy="228.4" r="0.68" fill="rgb(199,18,24)"/>
<circle cx="436.7" cy="204.5" r="0.47" fill="rgb(173,25,13)"/>
<circle cx="437.4" cy="198.5" r="0.95" fill="rgb(141,7,24)"/>
<circle cx="459.6" cy="234.0" r="0.50" fill="rgb(166,11,12)"/>
<circle cx="441.0" cy="224.8" r="0.69" fill="rgb(155,6,13)"/>
<circle cx="442.3" cy="221.4" r="0.64" fill="rgb(160,6,26)"/>
<circle cx="449.5" cy="207.9" r="0.63" fill="rgb(198,16,25)"/>
<circle cx="447.3" cy="199.3" r="0.64" fill="rgb(141,19,20)"/>
<circle cx="451.0" cy="238.4" r="0.52" fill="rgb(144,9,19)"/>
<circle cx="430.7" cy="204.5" r="0.48" fill="rgb(180,27,6)"/>
<circle cx="435.6" cy="201.6" r="0.91" fill="rgb(203,19,6)"/>
<circle cx="425.8" cy="230.1" r="0.94" fill="rgb(199,21,12)"/>
<circle cx="430.1" cy="205.2" r="0.45" fill="rgb(202,19,15)"/>
<circle cx="433.5" cy="187.1" r="0.67" fill="rgb(137,13,28)"/>
<circle cx="447.1" cy="233.8" r="0.78" fill="rgb(196,21,14)"/>
<circle cx="485.6" cy="247.1" r="0.45" fill="rgb(154,12,25)"/>
<circle cx="485.3" cy="230.8" r="0.49" fill="rgb(171,26,17)"/>
<circle cx="438.2" cy="197.3" r="0.47" fill="rgb(225,24,25)"/>
<circle cx="448.9" cy="209.8" r="0.65" fill="rgb(151,5,8)"/>
<circle cx="442.7" cy="240.1" r="0.53" fill="rgb(154,27,25)"/>
<circle cx="432.1" cy="239.8" r="0.74" fill="rgb(201,16,8)"/>
<circle cx="438.3" cy="237.6" r="0.52" fill="rgb(137,28,18)"/>
<circle cx="458.9" cy="224.7" r="0.84" fill="rgb(133,26,16)"/>
<circle cx="434.2" cy="184.0" r="0.59" fill="rgb(175,19,21)"/>
<circle cx="436.9" cy="249.3" r="0.71" fill="rgb(150,28,16)"/>
<circle cx="438.9" cy="199.5" r="0.51" fill="rgb(155,7,25)"/>
<circle cx="430.2" cy="222.7" r="0.56" fill="rgb(181,15,28)"/>
<circle cx="435.6" cy="230.2" r="0.77" fill="rgb(126,20,18)"/>
<circle cx="469.6" cy="238.8" r="0.62" fill="rgb(209,16,6)"/>
<circle cx="435.8" cy="197.2" r="0.56" fill="rgb(138,7,27)"/>
<circle cx="433.8" cy="224.0" r="0.46" fill="rgb(224,20,9)"/>
<circle cx="449.8" cy="199.2" r="0.73" fill="rgb(178,13,11)"/>
<circle cx="426.7" cy="203.0" r="0.97" fill="rgb(179,5,18)"/>
<circle cx="425.4" cy="212.6" r="0.62" fill="rgb(159,11,15)"/>
<circle cx="423.6" cy="184.7" r="0.73" fill="rgb(181,26,14)"/>
<circle cx="433.2" cy="202.8" r="0.86" fill="rgb(191,23,25)"/>
<circle cx="440.5" cy="215.1" r="0.63" fill="rgb(141,17,5)"/>
<circle cx="454.6" cy="225.4" r="0.46" fill="rgb(222,14,6)"/>
<circle cx="439.8" cy="233.9" r="0.66" fill="rgb(202,22,10)"/>
<circle cx="433.9" cy="235.9" r="0.51" fill="rgb(152,23,24)"/>
<circle cx="484.5" cy="213.4" r="0.65" fill="rgb(204,21,27)"/>
<circle cx="425.3" cy="216.6" r="0.81" fill="rgb(162,14,24)"/>
<circle cx="444.6" cy="198.2" r="0.74" fill="rgb(137,7,28)"/>
<circle cx="425.6" cy="195.2" r="0.69" fill="rgb(138,14,6)"/>
<circle cx="457.5" cy="236.3" r="0.89" fill="rgb(177,26,22)"/>
<circle cx="450.6" cy="213.9" r="0.65" fill="rgb(130,18,7)"/>
<circle cx="450.9" cy="214.8" r="0.47" fill="rgb(200,18,11)"/>
<circle cx="438.4" cy="233.6" r="0.77" fill="rgb(143,22,25)"/>
<circle cx="473.0" cy="205.0" r="0.86" fill="rgb(218,19,7)"/>
<circle cx="434.6" cy="215.3" r="0.50" fill="rgb(213,8,19)"/>
<circle cx="447.0" cy="242.3" r="0.65" fill="rgb(207,7,27)"/>
<circle cx="429.0" cy="202.7" r="0.75" fill="rgb(136,22,27)"/>
<circle cx="468.0" cy="231.7" r="0.61" fill="rgb(132,11,27)"/>
<circle cx="444.1" cy="224.1" r="0.49" fill="rgb(134,22,17)"/>
<circle cx="454.3" cy="234.2" r="0.49" fill="rgb(208,7,17)"/>
<circle cx="453.6" cy="236.6" r="0.47" fill="rgb(157,23,15)"/>
<circle cx="432.3" cy="215.5" r="0.61" fill="rgb(126,9,16)"/>
<circle cx="455.7" cy="227.6" r="0.66" fill="rgb(170,26,10)"/>
<circle cx="425.3" cy="215.9" r="0.46" fill="rgb(208,8,25)"/>
<circle cx="443.8" cy="236.4" r="0.59" fill="rgb(151,27,13)"/>
<circle cx="440.6" cy="212.4" r="0.79" fill="rgb(174,17,27)"/>
<circle cx="443.2" cy="249.2" r="1.00" fill="rgb(173,8,12)"/>
<circle cx="423.3" cy="209.4" r="0.65" fill="rgb(139,24,10)"/>
<circle cx="429.8" cy="216.7" r="0.51" fill="rgb(224,28,17)"/>
<circle cx="482.3" cy="185.6" r="0.62" fill="rgb(150,18,25)"/>
<circle cx="427.0" cy="211.8" r="0.81" fill="rgb(176,20,5)"/>
<circle cx="422.9" cy="214.4" r="0.58" fill="rgb(178,10,12)"/>
<circle cx="439.4" cy="185.0" r="0.77" fill="rgb(141,25,27)"/>
<circle cx="428.4" cy="217.5" r="1.00" fill="rgb(208,21,19)"/>
<circle cx="477.9" cy="209.6" r="0.72" fill="rgb(172,7,15)"/>
<circle cx="429.5" cy="203.0" r="0.89" fill="rgb(188,23,9)"/>
<circle cx="443.9" cy="230.9" r="0.45" fill="rgb(148,19,23)"/>
<circle cx="454.1" cy="239.0" r="0.52" fill="rgb(132,27,24)"/>
<circle cx="444.2" cy="223.7" r="0.55" fill="rgb(131,26,24)"/>
<circle cx="426.2" cy="235.5" r="0.50" fill="rgb(206,16,17)"/>
<circle cx="429.2" cy="192.5" r="0.50" fill="rgb(202,6,15)"/>
<circle cx="451.1" cy="219.2" r="0.69" fill="rgb(190,8,23)"/>
<circle cx="450.2" cy="232.9" r="0.58" fill="rgb(152,7,23)"/>
<circle cx="479.7" cy="205.0" r="0.71" fill="rgb(148,9,20)"/>
<circle cx="430.7" cy="198.2" r="0.46" fill="rgb(135,11,5)"/>
<circle cx="435.6" cy="246.3" r="0.48" fill="rgb(161,25,23)"/>
<circle cx="447.1" cy="233.0" r="0.71" fill="rgb(150,12,10)"/>
<circle cx="456.6" cy="224.2" r="0.52" fill="rgb(223,22,21)"/>
<circle cx="442.0" cy="195.5" r="0.98" fill="rgb(205,12,23)"/>
<circle cx="420.2" cy="190.0" r="0.49" fill="rgb(136,8,7)"/>
<circle cx="442.9" cy="196.1" r="0.86" fill="rgb(188,27,13)"/>
<circle cx="439.2" cy="223.6" r="0.66" fill="rgb(151,26,17)"/>
<circle cx="427.7" cy="219.7" r="0.56" fill="rgb(144,26,11)"/>
<circle cx="427.3" cy="215.1" r="0.86" fill="rgb(178,28,8)"/>
<circle cx="436.4" cy="229.9" r="0.54" fill="rgb(202,16,18)"/>
<circle cx="419.3" cy="218.2" r="0.67" fill="rgb(196,27,25)"/>
<circle cx="456.1" cy="216.4" r="0.61" fill="rgb(137,27,11)"/>
<circle cx="428.3" cy="212.5" r="0.76" fill="rgb(202,20,12)"/>
<circle cx="453.7" cy="209.8" r="0.89" fill="rgb(141,15,27)"/>
<circle cx="443.5" cy="193.7" r="0.74" fill="rgb(220,7,7)"/>
<circle cx="442.6" cy="227.9" r="0.45" fill="rgb(188,23,21)"/>
<circle cx="437.5" cy="241.9" r="0.68" fill="rgb(206,24,6)"/>
<circle cx="439.4" cy="196.0" r="0.47" fill="rgb(126,19,8)"/>
<circle cx="418.5" cy="194.1" r="0.90" fill="rgb(201,16,6)"/>
<circle cx="440.4" cy="240.6" r="0.73" fill="rgb(204,5,8)"/>
<circle cx="423.8" cy="195.1" r="0.61" fill="rgb(176,10,27)"/>
<circle cx="438.7" cy="205.5" r="0.99" fill="rgb(162,27,7)"/>
<circle cx="486.2" cy="246.1" r="0.50" fill="rgb(126,26,26)"/>
<circle cx="458.4" cy="215.6" r="0.46" fill="rgb(138,22,13)"/>
<circle cx="437.7" cy="245.6" r="0.66" fill="rgb(209,11,23)"/>
<circle cx="465.6" cy="195.3" r="0.45" fill="rgb(208,12,11)"/>
<circle cx="442.7" cy="215.8" r="0.69" fill="rgb(182,28,8)"/>
<circle cx="432.2" cy="217.9" r="0.46" fill="rgb(177,16,13)"/>
<circle cx="434.2" cy="247.7" r="0.81" fill="rgb(131,10,8)"/>
<circle cx="426.0" cy="206.7" r="0.71" fill="rgb(171,15,25)"/>
<circle cx="433.2" cy="236.2" r="0.97" fill="rgb(213,9,7)"/>
<circle cx="473.6" cy="253.3" r="0.66" fill="rgb(221,12,16)"/>
<circle cx="433.5" cy="202.2" r="0.84" fill="rgb(140,21,26)"/>
<circle cx="477.5" cy="239.3" r="0.77" fill="rgb(225,13,25)"/>
<circle cx="486.6" cy="228.0" r="0.51" fill="rgb(169,18,13)"/>
<circle cx="460.1" cy="224.3" r="0.46" fill="rgb(179,9,5)"/>
<circle cx="453.4" cy="218.7" r="0.47" fill="rgb(160,5,17)"/>
<circle cx="437.1" cy="233.6" r="0.99" fill="rgb(159,19,27)"/>
<circle cx="424.6" cy="218.4" r="0.55" fill="rgb(163,10,13)"/>
<circle cx="431.3" cy="234.0" r="0.48" fill="rgb(214,7,10)"/>
<circle cx="443.5" cy="219.4" r="0.71" fill="rgb(198,22,9)"/>
<circle cx="433.7" cy="208.5" r="0.79" fill="rgb(211,15,20)"/>
<circle cx="431.4" cy="201.0" r="0.89" fill="rgb(131,15,12)"/>
<circle cx="424.6" cy="212.6" r="0.63" fill="rgb(146,10,20)"/>
<circle cx="425.1" cy="204.1" r="0.96" fill="rgb(157,26,23)"/>
<circle cx="457.6" cy="200.6" r="0.98" fill="rgb(185,15,10)"/>
<circle cx="481.7" cy="231.7" r="0.53" fill="rgb(224,20,22)"/>
<circle cx="447.7" cy="248.9" r="0.49" fill="rgb(165,9,8)"/>
<circle cx="486.5" cy="230.5" r="0.95" fill="rgb(193,24,10)"/>
<circle cx="459.7" cy="231.6" r="0.74" fill="rgb(125,13,22)"/>
<circle cx="483.6" cy="214.6" r="0.76" fill="rgb(179,14,7)"/>
<circle cx="420.0" cy="221.4" r="0.86" fill="rgb(173,11,17)"/>
<circle cx="451.0" cy="221.3" r="0.82" fill="rgb(196,20,21)"/>
<circle cx="420.7" cy="219.0" r="0.95" fill="rgb(202,22,15)"/>
<circle cx="440.9" cy="234.3" r="0.76" fill="rgb(195,15,16)"/>
<circle cx="434.7" cy="245.0" r="0.45" fill="rgb(134,10,15)"/>
<circle cx="449.1" cy="213.2" r="0.99" fill="rgb(182,15,25)"/>
<circle cx="425.6" cy="215.9" r="0.48" fill="rgb(161,24,21)"/>
<circle cx="421.5" cy="234.0" r="0.85" fill="rgb(157,20,24)"/>
<circle cx="438.8" cy="225.2" r="0.90" fill="rgb(173,12,21)"/>
<circle cx="425.7" cy="216.0" r="0.69" fill="rgb(126,22,9)"/>
<circle cx="435.2" cy="224.7" r="0.52" fill="rgb(175,7,12)"/>
<circle cx="472.1" cy="226.5" r="0.79" fill="rgb(224,25,28)"/>
<circle cx="437.9" cy="237.1" r="0.46" fill="rgb(153,23,23)"/>
<circle cx="449.7" cy="188.2" r="0.66" fill="rgb(211,17,14)"/>
<circle cx="440.3" cy="225.3" r="0.60" fill="rgb(195,23,20)"/>
<circle cx="445.7" cy="243.0" r="0.50" fill="rgb(142,28,28)"/>
<circle cx="459.6" cy="203.5" r="0.47" fill="rgb(218,20,9)"/>
<circle cx="479.8" cy="199.7" r="0.52" fill="rgb(150,10,13)"/>
<circle cx="430.7" cy="217.9" r="0.50" fill="rgb(134,22,24)"/>
<circle cx="435.4" cy="235.0" r="0.47" fill="rgb(139,15,8)"/>
<circle cx="433.7" cy="192.7" r="0.84" fill="rgb(174,22,10)"/>
<circle cx="456.0" cy="244.4" r="0.60" fill="rgb(223,26,26)"/>
<circle cx="437.1" cy="220.0" r="0.61" fill="rgb(149,6,11)"/>
<circle cx="443.4" cy="223.3" r="0.47" fill="rgb(201,7,28)"/>
<circle cx="423.4" cy="220.9" r="0.65" fill="rgb(186,7,15)"/>
<circle cx="427.0" cy="208.0" r="0.46" fill="rgb(174,19,21)"/>
<circle cx="462.1" cy="207.6" r="0.56" fill="rgb(220,13,21)"/>
<circle cx="449.4" cy="201.6" r="0.47" fill="rgb(185,6,27)"/>
<circle cx="447.6" cy="223.9" r="0.69" fill="rgb(149,27,17)"/>
<circle cx="433.4" cy="194.3" r="0.81" fill="rgb(197,12,9)"/>
<circle cx="448.7" cy="210.3" r="0.76" fill="rgb(168,19,15)"/>
<circle cx="452.7" cy="212.0" r="0.67" fill="rgb(137,8,14)"/>
<circle cx="426.4" cy="194.5" r="0.85" fill="rgb(203,25,7)"/>
<circle cx="433.4" cy="229.9" r="0.87" fill="rgb(215,22,14)"/>
<circle cx="477.1" cy="219.1" r="0.58" fill="rgb(197,7,21)"/>
<circle cx="427.4" cy="240.9" r="0.80" fill="rgb(182,27,15)"/>
<circle cx="485.7" cy="212.9" r="0.47" fill="rgb(176,21,21)"/>
<circle cx="432.9" cy="201.9" r="0.48" fill="rgb(143,19,15)"/>
<circle cx="426.4" cy="198.6" r="0.49" fill="rgb(146,24,16)"/>
<circle cx="457.7" cy="205.2" r="0.51" fill="rgb(184,12,28)"/>
<circle cx="424.5" cy="194.9" r="0.46" fill="rgb(204,7,27)"/>
<circle cx="420.2" cy="214.2" r="0.67" fill="rgb(215,9,5)"/>
<circle cx="422.7" cy="252.9" r="0.82" fill="rgb(203,13,23)"/>
<circle cx="423.6" cy="214.0" r="0.61" fill="rgb(172,14,12)"/>
<circle cx="461.0" cy="230.9" r="0.80" fill="rgb(193,15,22)"/>
<circle cx="447.3" cy="223.7" r="0.73" fill="rgb(186,6,17)"/>
<circle cx="439.7" cy="202.7" r="0.94" fill="rgb(175,17,20)"/>
<circle cx="464.4" cy="238.9" r="0.85" fill="rgb(184,7,28)"/>
<circle cx="428.6" cy="218.2" r="0.69" fill="rgb(131,10,23)"/>
<circle cx="451.7" cy="213.2" r="0.66" fill="rgb(152,21,11)"/>
<circle cx="437.9" cy="200.5" r="0.80" fill="rgb(219,16,21)"/>
<circle cx="426.9" cy="197.7" r="0.45" fill="rgb(134,21,25)"/>
<circle cx="433.1" cy="214.1" r="0.47" fill="rgb(146,24,28)"/>
<circle cx="431.1" cy="194.3" r="0.45" fill="rgb(153,21,8)"/>
<circle cx="456.7" cy="204.2" r="0.85" fill="rgb(176,28,15)"/>
<circle cx="448.2" cy="222.1" r="0.70" fill="rgb(157,21,11)"/>
<circle cx="452.9" cy="233.0" r="0.59" fill="rgb(154,27,6)"/>
<circle cx="422.5" cy="193.3" r="0.66" fill="rgb(164,14,17)"/>
<circle cx="429.8" cy="234.5" r="0.67" fill="rgb(149,8,8)"/>
<circle cx="458.5" cy="215.7" r="0.59" fill="rgb(138,18,16)"/>
<circle cx="479.8" cy="243.9" r="0.61" fill="rgb(164,20,23)"/>
<circle cx="447.6" cy="227.5" r="0.72" fill="rgb(215,12,13)"/>
<circle cx="455.9" cy="201.2" r="0.46" fill="rgb(158,18,13)"/>
<circle cx="437.6" cy="229.5" r="0.46" fill="rgb(142,28,12)"/>
<circle cx="430.0" cy="247.1" r="0.56" fill="rgb(220,6,18)"/>
<circle cx="432.3" cy="203.2" r="0.46" fill="rgb(141,18,18)"/>
<circle cx="469.3" cy="191.0" r="0.74" fill="rgb(174,23,25)"/>
<circle cx="434.4" cy="230.6" r="0.82" fill="rgb(183,18,6)"/>
<circle cx="427.4" cy="200.6" r="0.52" fill="rgb(155,26,16)"/>
<circle cx="470.4" cy="201.4" r="0.62" fill="rgb(152,5,28)"/>
<circle cx="444.9" cy="218.0" r="0.89" fill="rgb(221,23,25)"/>
<circle cx="427.7" cy="215.2" r="0.82" fill="rgb(148,25,27)"/>
<circle cx="451.1" cy="212.4" r="0.89" fill="rgb(207,19,19)"/>
<circle cx="467.8" cy="199.5" r="0.46" fill="rgb(134,12,25)"/>
<circle cx="426.3" cy="207.6" r="0.60" fill="rgb(170,22,15)"/>
<circle cx="429.7" cy="222.1" r="0.46" fill="rgb(172,19,8)"/>
<circle cx="431.7" cy="214.5" r="0.66" fill="rgb(160,27,17)"/>
<circle cx="424.3" cy="236.6" r="0.47" fill="rgb(216,20,23)"/>
<circle cx="476.5" cy="208.5" r="0.72" fill="rgb(205,19,26)"/>
<circle cx="449.0" cy="215.6" r="0.86" fill="rgb(179,28,21)"/>
<circle cx="434.1" cy="200.8" r="0.53" fill="rgb(187,10,19)"/>
<circle cx="453.7" cy="252.4" r="0.81" fill="rgb(148,18,27)"/>
<circle cx="433.3" cy="224.5" r="0.75" fill="rgb(141,7,17)"/>
<circle cx="445.1" cy="211.1" r="0.78" fill="rgb(164,22,12)"/>
<circle cx="462.8" cy="189.9" r="0.47" fill="rgb(225,9,9)"/>
<circle cx="430.2" cy="194.7" r="0.68" fill="rgb(137,7,21)"/>
<circle cx="444.3" cy="202.3" r="0.82" fill="rgb(152,21,7)"/>
<circle cx="439.4" cy="207.0" r="0.80" fill="rgb(152,13,7)"/>
<circle cx="427.4" cy="218.3" r="0.62" fill="rgb(138,7,27)"/>
<circle cx="460.1" cy="199.8" r="0.74" fill="rgb(141,27,16)"/>
<circle cx="424.1" cy="206.9" r="0.63" fill="rgb(198,7,16)"/>
<circle cx="445.6" cy="206.0" r="0.47" fill="rgb(140,13,22)"/>
<circle cx="424.3" cy="226.5" r="0.46" fill="rgb(172,24,12)"/>
<circle cx="452.6" cy="244.4" r="0.75" fill="rgb(217,13,8)"/>
<circle cx="439.0" cy="223.7" r="0.60" fill="rgb(126,25,16)"/>
<circle cx="441.2" cy="205.6" r="0.74" fill="rgb(156,14,11)"/>
<circle cx="476.5" cy="185.3" r="0.62" fill="rgb(167,26,12)"/>
<circle cx="418.2" cy="249.3" r="0.48" fill="rgb(167,5,7)"/>
<circle cx="456.0" cy="204.1" r="0.65" fill="rgb(216,20,10)"/>
<circle cx="431.2" cy="195.6" r="0.98" fill="rgb(182,16,16)"/>
<circle cx="424.6" cy="240.1" r="0.45" fill="rgb(132,19,20)"/>
<circle cx="487.0" cy="221.8" r="0.68" fill="rgb(157,21,12)"/>
<circle cx="433.3" cy="214.5" r="0.89" fill="rgb(214,19,15)"/>
<circle cx="444.1" cy="199.2" r="0.60" fill="rgb(189,15,27)"/>
<circle cx="452.3" cy="205.7" r="0.95" fill="rgb(203,23,28)"/>
<circle cx="438.2" cy="225.0" r="0.72" fill="rgb(181,11,17)"/>
<circle cx="450.5" cy="208.4" r="0.47" fill="rgb(223,26,11)"/>
<circle cx="446.9" cy="210.2" r="0.73" fill="rgb(159,26,28)"/>
<circle cx="444.7" cy="208.7" r="0.99" fill="rgb(150,22,8)"/>
<circle cx="440.6" cy="190.4" r="0.58" fill="rgb(191,18,15)"/>
<circle cx="451.2" cy="250.1" r="0.61" fill="rgb(216,27,10)"/>
<circle cx="442.3" cy="242.4" r="0.53" fill="rgb(152,6,9)"/>
<circle cx="428.0" cy="216.5" r="0.59" fill="rgb(188,10,16)"/>
<circle cx="441.5" cy="219.0" r="0.97" fill="rgb(164,28,10)"/>
<circle cx="466.0" cy="241.8" r="0.83" fill="rgb(208,10,18)"/>
<circle cx="464.9" cy="204.7" r="0.57" fill="rgb(219,27,14)"/>
<circle cx="453.0" cy="203.7" r="0.57" fill="rgb(195,26,16)"/>
<circle cx="427.4" cy="233.2" r="0.60" fill="rgb(222,28,25)"/>
<circle cx="423.2" cy="242.1" r="0.68" fill="rgb(213,15,21)"/>
<circle cx="428.9" cy="191.8" r="0.47" fill="rgb(164,21,10)"/>
<circle cx="429.8" cy="214.2" r="0.49" fill="rgb(187,16,24)"/>
<circle cx="431.2" cy="218.0" r="0.45" fill="rgb(219,24,16)"/>
<circle cx="446.3" cy="231.5" r="0.91" fill="rgb(186,8,28)"/>
<circle cx="452.2" cy="242.1" r="0.45" fill="rgb(213,9,27)"/>
<circle cx="439.8" cy="217.5" r="0.45" fill="rgb(140,20,15)"/>
<circle cx="437.6" cy="232.7" r="0.76" fill="rgb(156,10,6)"/>
<circle cx="428.2" cy="212.2" r="0.70" fill="rgb(223,10,25)"/>
<circle cx="437.2" cy="198.3" r="0.65" fill="rgb(198,9,11)"/>
<circle cx="433.5" cy="207.3" r="0.49" fill="rgb(194,16,9)"/>
<circle cx="425.2" cy="223.5" r="0.91" fill="rgb(127,17,12)"/>
<circle cx="450.3" cy="213.0" r="0.76" fill="rgb(142,9,12)"/>
<circle cx="435.8" cy="205.0" r="0.83" fill="rgb(183,22,12)"/>
<circle cx="468.9" cy="247.4" r="0.47" fill="rgb(143,6,21)"/>
<circle cx="486.9" cy="236.1" r="0.56" fill="rgb(204,16,17)"/>
<circle cx="427.6" cy="197.9" r="0.58" fill="rgb(190,21,12)"/>
<circle cx="473.2" cy="230.9" r="0.56" fill="rgb(178,23,22)"/>
<circle cx="468.6" cy="191.8" r="0.57" fill="rgb(140,16,14)"/>
<circle cx="440.6" cy="208.3" r="0.63" fill="rgb(134,28,24)"/>
<circle cx="428.0" cy="205.5" r="0.68" fill="rgb(135,21,18)"/>
<circle cx="451.8" cy="201.3" r="0.56" fill="rgb(156,6,28)"/>
<circle cx="431.7" cy="210.2" r="0.65" fill="rgb(212,21,8)"/>
<circle cx="479.1" cy="228.4" r="0.96" fill="rgb(144,24,12)"/>
<circle cx="427.4" cy="223.4" r="0.91" fill="rgb(217,23,28)"/>
<circle cx="420.2" cy="244.2" r="0.75" fill="rgb(157,21,17)"/>
<circle cx="430.6" cy="197.5" r="0.92" fill="rgb(128,20,15)"/>
<circle cx="431.2" cy="191.8" r="0.70" fill="rgb(221,5,23)"/>
<circle cx="441.9" cy="241.2" r="0.57" fill="rgb(127,18,11)"/>
<circle cx="428.6" cy="212.0" r="0.75" fill="rgb(153,21,13)"/>
<circle cx="467.7" cy="230.1" r="0.90" fill="rgb(177,28,12)"/>
<circle cx="437.9" cy="216.2" r="0.73" fill="rgb(170,16,22)"/>
<circle cx="433.4" cy="244.9" r="0.72" fill="rgb(195,5,13)"/>
<circle cx="456.3" cy="235.1" r="0.57" fill="rgb(204,24,24)"/>
<circle cx="430.2" cy="225.8" r="0.97" fill="rgb(202,28,23)"/>
<circle cx="434.6" cy="191.3" r="0.47" fill="rgb(126,11,20)"/>
<circle cx="479.6" cy="221.0" r="0.55" fill="rgb(190,24,24)"/>
<circle cx="463.5" cy="203.4" r="0.69" fill="rgb(161,10,26)"/>
<circle cx="434.7" cy="204.2" r="0.71" fill="rgb(142,23,16)"/>
<circle cx="417.5" cy="211.6" r="0.52" fill="rgb(164,16,18)"/>
<circle cx="433.9" cy="196.3" r="0.99" fill="rgb(211,24,18)"/>
<circle cx="440.2" cy="213.3" r="0.47" fill="rgb(154,14,6)"/>
<circle cx="432.2" cy="221.7" r="0.50" fill="rgb(162,14,6)"/>
<circle cx="436.1" cy="226.8" r="0.89" fill="rgb(171,13,26)"/>
<circle cx="433.7" cy="198.2" r="0.87" fill="rgb(152,11,28)"/>
<circle cx="468.4" cy="206.7" r="0.48" fill="rgb(153,19,27)"/>
<circle cx="424.7" cy="212.5" r="0.55" fill="rgb(161,16,24)"/>
<circle cx="474.0" cy="241.6" r="0.84" fill="rgb(166,16,22)"/>
<circle cx="420.1" cy="215.9" r="0.49" fill="rgb(165,28,27)"/>
<circle cx="425.2" cy="232.9" r="0.74" fill="rgb(146,8,15)"/>
<circle cx="429.7" cy="238.0" r="0.49" fill="rgb(204,23,18)"/>
<circle cx="474.2" cy="247.9" r="0.86" fill="rgb(183,22,11)"/>
<circle cx="455.0" cy="218.1" r="0.58" fill="rgb(195,28,9)"/>
<circle cx="437.5" cy="197.0" r="0.74" fill="rgb(199,19,18)"/>
<circle cx="418.1" cy="217.3" r="0.46" fill="rgb(148,10,10)"/>
<circle cx="429.3" cy="232.0" r="0.54" fill="rgb(199,18,24)"/>
<circle cx="450.3" cy="212.7" r="0.56" fill="rgb(155,7,21)"/>
<circle cx="417.1" cy="245.1" r="0.71" fill="rgb(131,19,27)"/>
<circle cx="451.0" cy="228.2" r="0.45" fill="rgb(153,5,8)"/>
<circle cx="458.6" cy="204.7" r="0.52" fill="rgb(155,12,19)"/>
<circle cx="423.0" cy="205.7" r="0.66" fill="rgb(168,5,26)"/>
<circle cx="419.4" cy="192.8" r="0.46" fill="rgb(225,5,9)"/>
<circle cx="463.1" cy="186.0" r="0.91" fill="rgb(207,28,11)"/>
<circle cx="430.2" cy="200.4" r="0.79" fill="rgb(201,10,22)"/>
<circle cx="418.6" cy="204.1" r="0.55" fill="rgb(151,8,7)"/>
<circle cx="433.8" cy="215.6" r="0.61" fill="rgb(217,7,25)"/>
<circle cx="450.5" cy="223.7" r="0.85" fill="rgb(175,24,26)"/>
<circle cx="457.9" cy="188.4" r="0.53" fill="rgb(217,16,6)"/>
<circle cx="436.5" cy="198.0" r="0.99" fill="rgb(166,16,15)"/>
<circle cx="427.3" cy="239.1" r="0.54" fill="rgb(147,8,19)"/>
<circle cx="442.9" cy="227.0" r="0.46" fill="rgb(213,15,15)"/>
<circle cx="444.1" cy="225.2" r="0.46" fill="rgb(171,24,10)"/>
<circle cx="451.3" cy="221.8" r="0.65" fill="rgb(195,21,13)"/>
<circle cx="430.6" cy="226.7" r="0.56" fill="rgb(140,14,8)"/>
<circle cx="454.3" cy="209.8" r="0.79" fill="rgb(167,23,17)"/>
<circle cx="461.4" cy="194.1" r="0.65" fill="rgb(146,10,26)"/>
<circle cx="435.2" cy="239.1" r="0.53" fill="rgb(154,20,22)"/>
<circle cx="453.0" cy="218.8" r="0.45" fill="rgb(220,27,25)"/>
<circle cx="466.5" cy="202.2" r="0.49" fill="rgb(180,11,25)"/>
<circle cx="450.2" cy="229.7" r="0.62" fill="rgb(208,8,7)"/>
<circle cx="442.9" cy="215.2" r="0.46" fill="rgb(151,13,22)"/>
<circle cx="429.0" cy="223.8" r="0.51" fill="rgb(129,9,6)"/>
<circle cx="430.5" cy="197.1" r="0.67" fill="rgb(215,10,12)"/>
<circle cx="437.4" cy="224.3" r="0.49" fill="rgb(146,24,22)"/>
<circle cx="447.4" cy="230.0" r="0.64" fill="rgb(165,28,7)"/>
<circle cx="451.3" cy="215.4" r="0.64" fill="rgb(183,17,26)"/>
<circle cx="430.3" cy="225.3" r="0.47" fill="rgb(205,27,12)"/>
<circle cx="439.4" cy="245.3" r="0.82" fill="rgb(129,13,14)"/>
<circle cx="427.0" cy="224.8" r="0.59" fill="rgb(208,22,21)"/>
<circle cx="431.4" cy="200.7" r="0.65" fill="rgb(209,15,27)"/>
<circle cx="425.0" cy="188.3" r="0.64" fill="rgb(149,7,16)"/>
<circle cx="445.9" cy="204.0" r="0.57" fill="rgb(212,26,28)"/>
<circle cx="437.3" cy="235.3" r="0.50" fill="rgb(154,18,18)"/>
<circle cx="450.2" cy="221.8" r="0.58" fill="rgb(149,5,23)"/>
<circle cx="452.6" cy="212.5" r="0.70" fill="rgb(136,13,19)"/>
<circle cx="441.6" cy="211.1" r="0.48" fill="rgb(184,19,19)"/>
<circle cx="450.8" cy="220.7" r="0.91" fill="rgb(204,7,13)"/>
<circle cx="433.2" cy="191.7" r="0.50" fill="rgb(144,15,20)"/>
<circle cx="434.7" cy="199.7" r="0.58" fill="rgb(136,15,8)"/>
<circle cx="432.1" cy="198.5" r="0.87" fill="rgb(172,7,19)"/>
<circle cx="432.2" cy="238.9" r="0.60" fill="rgb(181,11,21)"/>
<circle cx="437.7" cy="243.4" r="0.92" fill="rgb(215,16,6)"/>
<circle cx="462.4" cy="202.7" r="0.50" fill="rgb(225,21,19)"/>
<circle cx="437.1" cy="230.9" r="0.77" fill="rgb(134,15,20)"/>
<circle cx="453.6" cy="216.2" r="0.81" fill="rgb(154,28,6)"/>
<circle cx="438.5" cy="238.4" r="0.72" fill="rgb(172,23,28)"/>
<circle cx="435.0" cy="239.5" r="0.86" fill="rgb(160,24,5)"/>
<circle cx="431.7" cy="245.1" r="0.61" fill="rgb(220,13,11)"/>
<circle cx="467.1" cy="234.8" r="0.56" fill="rgb(173,21,13)"/>
<circle cx="485.4" cy="233.3" r="0.79" fill="rgb(155,26,8)"/>
<circle cx="472.2" cy="224.1" r="0.58" fill="rgb(205,26,13)"/>
<circle cx="452.9" cy="216.5" r="0.45" fill="rgb(222,20,25)"/>
<circle cx="430.2" cy="230.9" r="0.68" fill="rgb(216,25,21)"/>
<circle cx="424.2" cy="239.6" r="0.91" fill="rgb(150,21,14)"/>
<circle cx="435.1" cy="214.6" r="0.69" fill="rgb(219,12,21)"/>
<circle cx="428.7" cy="201.3" r="0.45" fill="rgb(173,18,7)"/>
<circle cx="437.7" cy="197.9" r="0.51" fill="rgb(166,11,8)"/>
<circle cx="443.7" cy="252.7" r="0.64" fill="rgb(138,20,12)"/>
<circle cx="450.9" cy="225.7" r="0.95" fill="rgb(153,24,23)"/>
<circle cx="431.9" cy="242.7" r="1.00" fill="rgb(204,18,14)"/>
<circle cx="425.4" cy="242.0" r="0.92" fill="rgb(152,9,13)"/>
<circle cx="442.9" cy="247.8" r="0.68" fill="rgb(149,25,25)"/>
<circle cx="424.6" cy="192.9" r="0.89" fill="rgb(188,16,11)"/>
<circle cx="482.5" cy="199.0" r="0.68" fill="rgb(164,21,24)"/>
<circle cx="433.5" cy="234.6" r="0.46" fill="rgb(129,11,10)"/>
<circle cx="448.1" cy="212.5" r="0.89" fill="rgb(211,19,12)"/>
<circle cx="425.6" cy="220.6" r="0.70" fill="rgb(203,9,16)"/>
<circle cx="429.2" cy="239.6" r="0.57" fill="rgb(165,17,11)"/>
<circle cx="429.7" cy="215.5" r="0.72" fill="rgb(184,10,20)"/>
<circle cx="435.6" cy="216.9" r="0.47" fill="rgb(175,10,20)"/>
<circle cx="425.3" cy="210.3" r="0.51" fill="rgb(172,5,17)"/>
<circle cx="433.5" cy="218.0" r="0.54" fill="rgb(135,12,22)"/>
<circle cx="443.3" cy="225.0" r="0.60" fill="rgb(134,19,13)"/>
<circle cx="431.2" cy="202.3" r="0.85" fill="rgb(211,11,10)"/>
<circle cx="436.1" cy="216.7" r="0.91" fill="rgb(140,21,5)"/>
<circle cx="454.2" cy="204.1" r="0.47" fill="rgb(128,13,23)"/>
<circle cx="437.9" cy="195.3" r="0.90" fill="rgb(173,21,6)"/>
<circle cx="462.9" cy="221.4" r="0.46" fill="rgb(130,24,9)"/>
<circle cx="462.8" cy="230.4" r="0.51" fill="rgb(148,24,24)"/>
<circle cx="474.8" cy="183.8" r="0.58" fill="rgb(173,13,7)"/>
<circle cx="456.3" cy="210.0" r="0.99" fill="rgb(179,28,6)"/>
<circle cx="436.4" cy="196.8" r="0.94" fill="rgb(127,27,27)"/>
<circle cx="451.1" cy="231.6" r="0.51" fill="rgb(206,14,13)"/>
<circle cx="442.2" cy="228.9" r="0.66" fill="rgb(161,25,19)"/>
<circle cx="474.7" cy="225.4" r="0.69" fill="rgb(178,21,10)"/>
<circle cx="441.4" cy="229.5" r="0.60" fill="rgb(129,21,6)"/>
<circle cx="458.6" cy="220.3" r="0.50" fill="rgb(201,24,25)"/>
<circle cx="476.7" cy="197.1" r="0.62" fill="rgb(177,10,26)"/>
<circle cx="423.8" cy="236.0" r="0.51" fill="rgb(224,25,16)"/>
<circle cx="435.9" cy="238.0" r="0.75" fill="rgb(169,6,20)"/>
<circle cx="451.8" cy="252.1" r="0.63" fill="rgb(131,26,19)"/>
<circle cx="423.3" cy="253.2" r="0.49" fill="rgb(131,24,13)"/>
<circle cx="427.0" cy="209.2" r="0.71" fill="rgb(176,26,14)"/>
<circle cx="486.1" cy="238.4" r="0.55" fill="rgb(179,21,19)"/>
<circle cx="443.8" cy="239.1" r="0.53" fill="rgb(185,8,9)"/>
<circle cx="422.7" cy="229.2" r="0.58" fill="rgb(132,15,16)"/>
<circle cx="448.2" cy="252.4" r="0.46" fill="rgb(215,24,16)"/>
<circle cx="418.2" cy="246.4" r="0.66" fill="rgb(153,9,23)"/>
<circle cx="432.7" cy="233.4" r="0.72" fill="rgb(166,14,19)"/>
<circle cx="423.5" cy="219.7" r="0.53" fill="rgb(170,22,16)"/>
<circle cx="448.8" cy="238.7" r="0.69" fill="rgb(186,19,26)"/>
<circle cx="437.2" cy="242.3" r="0.62" fill="rgb(177,20,28)"/>
<circle cx="458.4" cy="236.9" r="0.53" fill="rgb(137,17,6)"/>
<circle cx="476.8" cy="192.0" r="0.84" fill="rgb(143,28,13)"/>
<circle cx="438.4" cy="247.5" r="0.46" fill="rgb(151,17,25)"/>
<circle cx="434.2" cy="216.0" r="0.50" fill="rgb(126,27,15)"/>
<circle cx="443.9" cy="215.5" r="0.64" fill="rgb(140,25,12)"/>
<circle cx="417.1" cy="228.2" r="0.48" fill="rgb(197,16,16)"/>
<circle cx="422.2" cy="227.1" r="0.69" fill="rgb(157,25,17)"/>
<circle cx="450.3" cy="219.5" r="0.66" fill="rgb(143,21,18)"/>
<circle cx="438.2" cy="225.5" r="0.60" fill="rgb(160,17,20)"/>
<circle cx="481.6" cy="242.6" r="0.75" fill="rgb(149,14,9)"/>
<circle cx="430.2" cy="241.7" r="0.46" fill="rgb(162,13,18)"/>
<circle cx="433.2" cy="188.6" r="0.75" fill="rgb(216,16,11)"/>
<circle cx="451.6" cy="184.1" r="0.45" fill="rgb(139,9,28)"/>
<circle cx="479.3" cy="214.3" r="0.85" fill="rgb(208,16,10)"/>
<circle cx="476.2" cy="221.1" r="0.47" fill="rgb(139,18,18)"/>
<circle cx="430.1" cy="210.6" r="0.92" fill="rgb(212,11,5)"/>
<circle cx="486.3" cy="218.7" r="1.00" fill="rgb(194,24,26)"/>
<circle cx="467.7" cy="222.8" r="0.65" fill="rgb(167,17,23)"/>
<circle cx="456.8" cy="206.9" r="0.55" fill="rgb(152,15,16)"/>
<circle cx="442.5" cy="240.7" r="0.59" fill="rgb(140,27,18)"/>
<circle cx="485.9" cy="248.5" r="0.47" fill="rgb(178,7,8)"/>
<circle cx="421.3" cy="201.1" r="0.61" fill="rgb(216,28,18)"/>
<circle cx="478.3" cy="246.8" r="0.57" fill="rgb(148,12,15)"/>
<circle cx="429.8" cy="191.0" r="0.45" fill="rgb(167,21,20)"/>
<circle cx="430.0" cy="198.0" r="0.54" fill="rgb(197,14,25)"/>
<circle cx="486.6" cy="189.4" r="0.46" fill="rgb(219,13,11)"/>
<circle cx="455.2" cy="211.0" r="0.99" fill="rgb(129,15,10)"/>
<circle cx="457.5" cy="235.7" r="0.48" fill="rgb(169,26,10)"/>
<circle cx="452.0" cy="213.2" r="0.48" fill="rgb(225,28,24)"/>
<circle cx="430.2" cy="249.8" r="0.63" fill="rgb(157,5,23)"/>
<circle cx="468.7" cy="230.1" r="0.45" fill="rgb(171,23,15)"/>
<circle cx="461.8" cy="225.9" r="0.63" fill="rgb(133,5,15)"/>
<circle cx="445.2" cy="209.2" r="0.54" fill="rgb(127,26,7)"/>
<circle cx="436.2" cy="205.5" r="0.61" fill="rgb(136,7,24)"/>
<circle cx="446.4" cy="233.5" r="0.72" fill="rgb(222,23,19)"/>
<circle cx="427.2" cy="231.0" r="0.98" fill="rgb(167,10,11)"/>
<circle cx="418.3" cy="232.4" r="0.74" fill="rgb(212,18,25)"/>
<circle cx="445.0" cy="217.4" r="0.77" fill="rgb(195,18,22)"/>
<circle cx="438.3" cy="215.8" r="0.70" fill="rgb(161,15,7)"/>
<circle cx="430.8" cy="216.1" r="0.80" fill="rgb(225,21,11)"/>
<circle cx="441.3" cy="213.0" r="0.49" fill="rgb(138,12,26)"/>
<circle cx="426.7" cy="198.5" r="0.87" fill="rgb(132,27,8)"/>
<circle cx="450.5" cy="213.9" r="0.88" fill="rgb(181,8,25)"/>
<circle cx="438.0" cy="239.5" r="0.77" fill="rgb(128,6,27)"/>
<circle cx="435.4" cy="230.3" r="0.46" fill="rgb(179,14,28)"/>
<circle cx="478.3" cy="213.7" r="0.84" fill="rgb(164,13,24)"/>
<circle cx="438.8" cy="243.7" r="0.46" fill="rgb(199,26,8)"/>
<circle cx="418.0" cy="225.7" r="0.51" fill="rgb(205,28,16)"/>
</g>
<g filter="url(#b1)" fill="#6cc020"><ellipse cx="300.0" cy="220.60000000000002" rx="2.1" ry="1.3" transform="rotate(-30 300.0 220.60000000000002)"/><circle cx="297.4" cy="223.4" r="1" fill="#a0a020"/><ellipse cx="293.0" cy="232.0" rx="1.3" ry="1.0"/><ellipse cx="271.0" cy="242.60000000000002" rx="1.6" ry="1.1" transform="rotate(-40 271.0 242.60000000000002)"/><circle cx="269.4" cy="245.9" r="0.9" fill="#90a020"/></g>
<path d="M208.8 244.2l4 3.3" stroke="#f03311" stroke-width="1.9" stroke-linecap="round" filter="url(#b03)"/>
<rect x="465.4" y="246.6" width="13" height="1.3" fill="#fff"/>
<text x="470.60" y="243.60" font-size="6.9" font-weight="bold" text-anchor="middle" fill="#fff" font-family="'Liberation Sans', sans-serif" >100 μm</text>
</g>
<g id="pD">
<path d="M74.95 310.51V307.87M74.05 307.87h1.8" stroke="#ee66ee" stroke-width="0.8" fill="none"/>
<rect x="73.20" y="310.51" width="3.5" height="66.59" fill="#dd22ee"/>
<path d="M78.89 311.17V306.55M77.99 306.55h1.8" stroke="#4444ff" stroke-width="0.8" fill="none"/>
<rect x="77.14" y="311.17" width="3.5" height="65.93" fill="#0000ff"/>
<path d="M82.83 310.11V306.81M81.93 306.81h1.8" stroke="#22cc44" stroke-width="0.8" fill="none"/>
<rect x="81.08" y="310.11" width="3.5" height="66.99" fill="#00bb22"/>
<path d="M86.77 323.90V320.60M85.87 320.60h1.8" stroke="#d8cc55" stroke-width="0.8" fill="none"/>
<rect x="85.02" y="323.90" width="3.5" height="53.20" fill="#c8b820"/>
<path d="M90.71 334.07V328.13M89.81 328.13h1.8" stroke="#66f0ff" stroke-width="0.8" fill="none"/>
<rect x="88.96" y="334.07" width="3.5" height="43.03" fill="#22eeff"/>
<path d="M94.65 355.19V351.89M93.75 351.89h1.8" stroke="#ff4444" stroke-width="0.8" fill="none"/>
<rect x="92.90" y="355.19" width="3.5" height="21.91" fill="#ff0000"/>
<path d="M101.50 311.17V308.53M100.60 308.53h1.8" stroke="#ee66ee" stroke-width="0.8" fill="none"/>
<rect x="99.75" y="311.17" width="3.5" height="65.93" fill="#dd22ee"/>
<path d="M105.44 313.21V309.25M104.54 309.25h1.8" stroke="#4444ff" stroke-width="0.8" fill="none"/>
<rect x="103.69" y="313.21" width="3.5" height="63.89" fill="#0000ff"/>
<path d="M109.38 318.69V316.05M108.48 316.05h1.8" stroke="#22cc44" stroke-width="0.8" fill="none"/>
<rect x="107.63" y="318.69" width="3.5" height="58.41" fill="#00bb22"/>
<path d="M113.32 338.16V331.56M112.42 331.56h1.8" stroke="#d8cc55" stroke-width="0.8" fill="none"/>
<rect x="111.57" y="338.16" width="3.5" height="38.94" fill="#c8b820"/>
<path d="M117.26 348.72V343.44M116.36 343.44h1.8" stroke="#66f0ff" stroke-width="0.8" fill="none"/>
<rect x="115.51" y="348.72" width="3.5" height="28.38" fill="#22eeff"/>
<path d="M121.20 359.28V355.98M120.30 355.98h1.8" stroke="#ff4444" stroke-width="0.8" fill="none"/>
<rect x="119.45" y="359.28" width="3.5" height="17.82" fill="#ff0000"/>
<path d="M128.05 311.76V306.48M127.15 306.48h1.8" stroke="#ee66ee" stroke-width="0.8" fill="none"/>
<rect x="126.30" y="311.76" width="3.5" height="65.34" fill="#dd22ee"/>
<path d="M131.99 314.20V310.24M131.09 310.24h1.8" stroke="#4444ff" stroke-width="0.8" fill="none"/>
<rect x="130.24" y="314.20" width="3.5" height="62.90" fill="#0000ff"/>
<path d="M135.93 314.80V308.20M135.03 308.20h1.8" stroke="#22cc44" stroke-width="0.8" fill="none"/>
<rect x="134.18" y="314.80" width="3.5" height="62.30" fill="#00bb22"/>
<path d="M139.87 346.21V342.91M138.97 342.91h1.8" stroke="#d8cc55" stroke-width="0.8" fill="none"/>
<rect x="138.12" y="346.21" width="3.5" height="30.89" fill="#c8b820"/>
<path d="M143.81 356.77V353.47M142.91 353.47h1.8" stroke="#66f0ff" stroke-width="0.8" fill="none"/>
<rect x="142.06" y="356.77" width="3.5" height="20.33" fill="#22eeff"/>
<path d="M147.75 362.45V359.15M146.85 359.15h1.8" stroke="#ff4444" stroke-width="0.8" fill="none"/>
<rect x="146.00" y="362.45" width="3.5" height="14.65" fill="#ff0000"/>
<path d="M154.60 310.11V307.47M153.70 307.47h1.8" stroke="#ee66ee" stroke-width="0.8" fill="none"/>
<rect x="152.85" y="310.11" width="3.5" height="66.99" fill="#dd22ee"/>
<path d="M158.54 312.16V308.86M157.64 308.86h1.8" stroke="#4444ff" stroke-width="0.8" fill="none"/>
<rect x="156.79" y="312.16" width="3.5" height="64.94" fill="#0000ff"/>
<path d="M162.48 319.28V315.32M161.58 315.32h1.8" stroke="#22cc44" stroke-width="0.8" fill="none"/>
<rect x="160.73" y="319.28" width="3.5" height="57.82" fill="#00bb22"/>
<path d="M166.42 348.72V344.76M165.52 344.76h1.8" stroke="#d8cc55" stroke-width="0.8" fill="none"/>
<rect x="164.67" y="348.72" width="3.5" height="28.38" fill="#c8b820"/>
<path d="M170.36 359.81V356.51M169.46 356.51h1.8" stroke="#66f0ff" stroke-width="0.8" fill="none"/>
<rect x="168.61" y="359.81" width="3.5" height="17.29" fill="#22eeff"/>
<path d="M174.30 365.88V363.24M173.40 363.24h1.8" stroke="#ff4444" stroke-width="0.8" fill="none"/>
<rect x="172.55" y="365.88" width="3.5" height="11.22" fill="#ff0000"/>
<path d="M181.15 313.61V310.97M180.25 310.97h1.8" stroke="#ee66ee" stroke-width="0.8" fill="none"/>
<rect x="179.40" y="313.61" width="3.5" height="63.49" fill="#dd22ee"/>
<path d="M185.09 312.82V310.18M184.19 310.18h1.8" stroke="#4444ff" stroke-width="0.8" fill="none"/>
<rect x="183.34" y="312.82" width="3.5" height="64.28" fill="#0000ff"/>
<path d="M189.03 317.24V312.62M188.13 312.62h1.8" stroke="#22cc44" stroke-width="0.8" fill="none"/>
<rect x="187.28" y="317.24" width="3.5" height="59.86" fill="#00bb22"/>
<path d="M192.97 353.74V349.78M192.07 349.78h1.8" stroke="#d8cc55" stroke-width="0.8" fill="none"/>
<rect x="191.22" y="353.74" width="3.5" height="23.36" fill="#c8b820"/>
<path d="M196.91 364.89V361.59M196.01 361.59h1.8" stroke="#66f0ff" stroke-width="0.8" fill="none"/>
<rect x="195.16" y="364.89" width="3.5" height="12.21" fill="#22eeff"/>
<path d="M200.85 370.57V368.59M199.95 368.59h1.8" stroke="#ff4444" stroke-width="0.8" fill="none"/>
<rect x="199.10" y="370.57" width="3.5" height="6.53" fill="#ff0000"/>
<path d="M207.70 313.61V310.97M206.80 310.97h1.8" stroke="#ee66ee" stroke-width="0.8" fill="none"/>
<rect x="205.95" y="313.61" width="3.5" height="63.49" fill="#dd22ee"/>
<path d="M211.64 313.21V309.25M210.74 309.25h1.8" stroke="#4444ff" stroke-width="0.8" fill="none"/>
<rect x="209.89" y="313.21" width="3.5" height="63.89" fill="#0000ff"/>
<path d="M215.58 317.24V314.60M214.68 314.60h1.8" stroke="#22cc44" stroke-width="0.8" fill="none"/>
<rect x="213.83" y="317.24" width="3.5" height="59.86" fill="#00bb22"/>
<path d="M219.52 360.86V354.92M218.62 354.92h1.8" stroke="#d8cc55" stroke-width="0.8" fill="none"/>
<rect x="217.77" y="360.86" width="3.5" height="16.24" fill="#c8b820"/>
<path d="M223.46 368.98V367.00M222.56 367.00h1.8" stroke="#66f0ff" stroke-width="0.8" fill="none"/>
<rect x="221.71" y="368.98" width="3.5" height="8.12" fill="#22eeff"/>
<path d="M227.40 375.12V374.13M226.50 374.13h1.8" stroke="#ff4444" stroke-width="0.8" fill="none"/>
<rect x="225.65" y="375.12" width="3.5" height="1.98" fill="#ff0000"/>
<rect x="71.7" y="272.0" width="160.0" height="105.10000000000002" fill="none" stroke="#000" stroke-width="1.3"/>
<path d="M67.9 377.10H71.7" stroke="#000" stroke-width="1.2"/>
<text x="66.70" y="381.10" font-size="11.3" font-weight="bold" text-anchor="end" fill="#000" font-family="'Liberation Sans', sans-serif" >0</text>
<path d="M67.9 357.30H71.7" stroke="#000" stroke-width="1.2"/>
<text x="66.70" y="361.30" font-size="11.3" font-weight="bold" text-anchor="end" fill="#000" font-family="'Liberation Sans', sans-serif" >30</text>
<path d="M67.9 337.50H71.7" stroke="#000" stroke-width="1.2"/>
<text x="66.70" y="341.50" font-size="11.3" font-weight="bold" text-anchor="end" fill="#000" font-family="'Liberation Sans', sans-serif" >60</text>
<path d="M67.9 317.70H71.7" stroke="#000" stroke-width="1.2"/>
<text x="66.70" y="321.70" font-size="11.3" font-weight="bold" text-anchor="end" fill="#000" font-family="'Liberation Sans', sans-serif" >90</text>
<path d="M67.9 297.90H71.7" stroke="#000" stroke-width="1.2"/>
<text x="66.70" y="301.90" font-size="11.3" font-weight="bold" text-anchor="end" fill="#000" font-family="'Liberation Sans', sans-serif" >120</text>
<path d="M67.9 278.10H71.7" stroke="#000" stroke-width="1.2"/>
<text x="66.70" y="282.10" font-size="11.3" font-weight="bold" text-anchor="end" fill="#000" font-family="'Liberation Sans', sans-serif" >150</text>
<path d="M84.80 377.1v3.6" stroke="#000" stroke-width="1.2"/>
<text x="84.80" y="392.70" font-size="11.3" font-weight="bold" text-anchor="middle" fill="#000" font-family="'Liberation Sans', sans-serif" >1</text>
<path d="M111.35 377.1v3.6" stroke="#000" stroke-width="1.2"/>
<text x="111.35" y="392.70" font-size="11.3" font-weight="bold" text-anchor="middle" fill="#000" font-family="'Liberation Sans', sans-serif" >2</text>
<path d="M137.90 377.1v3.6" stroke="#000" stroke-width="1.2"/>
<text x="137.90" y="392.70" font-size="11.3" font-weight="bold" text-anchor="middle" fill="#000" font-family="'Liberation Sans', sans-serif" >4</text>
<path d="M164.45 377.1v3.6" stroke="#000" stroke-width="1.2"/>
<text x="164.45" y="392.70" font-size="11.3" font-weight="bold" text-anchor="middle" fill="#000" font-family="'Liberation Sans', sans-serif" >8</text>
<path d="M191.00 377.1v3.6" stroke="#000" stroke-width="1.2"/>
<text x="191.00" y="392.70" font-size="11.3" font-weight="bold" text-anchor="middle" fill="#000" font-family="'Liberation Sans', sans-serif" >16</text>
<path d="M217.55 377.1v3.6" stroke="#000" stroke-width="1.2"/>
<text x="217.55" y="392.70" font-size="11.3" font-weight="bold" text-anchor="middle" fill="#000" font-family="'Liberation Sans', sans-serif" >32</text>
<text x="151.80" y="408.60" font-size="10.15" font-weight="bold" text-anchor="middle" fill="#000" font-family="'Liberation Serif', serif" >Concentration (μM)</text>
<text transform="translate(43.9,322.5) rotate(-90)" font-size="10.2" font-weight="bold" text-anchor="middle" font-family="'Liberation Sans', sans-serif">4T1 Cell Viability (%)</text>
<rect x="79.7" y="274.7" width="11.8" height="6.1" fill="#dd22ee"/>
<text x="97.60" y="280.80" font-size="8.3" font-weight="bold" text-anchor="start" fill="#000" font-family="'Liberation Sans', sans-serif" >PBS</text>
<rect x="79.7" y="283.9" width="11.8" height="6.1" fill="#0000ff"/>
<text x="97.60" y="290.00" font-size="8.3" font-weight="bold" text-anchor="start" fill="#000" font-family="'Liberation Sans', sans-serif" >MLI</text>
<rect x="79.7" y="293.3" width="11.8" height="6.1" fill="#00bb22"/>
<text x="97.60" y="299.40" font-size="8.3" font-weight="bold" text-anchor="start" fill="#000" font-family="'Liberation Sans', sans-serif" >Laser</text>
<rect x="134.4" y="274.7" width="11.8" height="6.1" fill="#c8b820"/>
<text x="152.30" y="280.80" font-size="8.3" font-weight="bold" text-anchor="start" fill="#000" font-family="'Liberation Sans', sans-serif" >IR1048+Laser</text>
<rect x="134.4" y="283.9" width="11.8" height="6.1" fill="#22eeff"/>
<text x="152.30" y="290.00" font-size="8.3" font-weight="bold" text-anchor="start" fill="#000" font-family="'Liberation Sans', sans-serif" >LI+Laser</text>
<rect x="134.4" y="293.3" width="11.8" height="6.1" fill="#ff0000"/>
<text x="152.30" y="299.40" font-size="8.3" font-weight="bold" text-anchor="start" fill="#000" font-family="'Liberation Sans', sans-serif" >MLI+Laser</text>
</g>
<g id="pE">
<path d="M361.60 353.15V346.02M357.40 346.02h8.4" stroke="#ff4040" stroke-width="1.1" fill="none"/>
<rect x="352.10" y="353.15" width="19" height="31.15" fill="#ff4040"/>
<path d="M388.15 312.62V306.61M383.95 306.61h8.4" stroke="#ff4040" stroke-width="1.1" fill="none"/>
<rect x="378.65" y="312.62" width="19" height="71.68" fill="#ff4040"/>
<path d="M414.70 298.73V288.60M410.50 288.60h8.4" stroke="#ff4040" stroke-width="1.1" fill="none"/>
<rect x="405.20" y="298.73" width="19" height="85.57" fill="#ff4040"/>
<path d="M441.25 322.75V318.25M437.05 318.25h8.4" stroke="#ff4040" stroke-width="1.1" fill="none"/>
<rect x="431.75" y="322.75" width="19" height="61.55" fill="#ff4040"/>
<path d="M467.80 332.88V325.38M463.60 325.38h8.4" stroke="#ff4040" stroke-width="1.1" fill="none"/>
<rect x="458.30" y="332.88" width="19" height="51.42" fill="#ff4040"/>
<rect x="343.4" y="271.7" width="141.3" height="112.60000000000002" fill="none" stroke="#000" stroke-width="1.3"/>
<path d="M339.59999999999997 384.30H343.4" stroke="#000" stroke-width="1.2"/>
<text x="338.80" y="387.90" font-size="10" font-weight="bold" text-anchor="end" fill="#000" font-family="'Liberation Sans', sans-serif" >0.0</text>
<path d="M339.59999999999997 365.54H343.4" stroke="#000" stroke-width="1.2"/>
<text x="338.80" y="369.14" font-size="10" font-weight="bold" text-anchor="end" fill="#000" font-family="'Liberation Sans', sans-serif" >0.5</text>
<path d="M339.59999999999997 346.77H343.4" stroke="#000" stroke-width="1.2"/>
<text x="338.80" y="350.37" font-size="10" font-weight="bold" text-anchor="end" fill="#000" font-family="'Liberation Sans', sans-serif" >1.0</text>
<path d="M339.59999999999997 328.00H343.4" stroke="#000" stroke-width="1.2"/>
<text x="338.80" y="331.61" font-size="10" font-weight="bold" text-anchor="end" fill="#000" font-family="'Liberation Sans', sans-serif" >1.5</text>
<path d="M339.59999999999997 309.24H343.4" stroke="#000" stroke-width="1.2"/>
<text x="338.80" y="312.84" font-size="10" font-weight="bold" text-anchor="end" fill="#000" font-family="'Liberation Sans', sans-serif" >2.0</text>
<path d="M339.59999999999997 290.48H343.4" stroke="#000" stroke-width="1.2"/>
<text x="338.80" y="294.08" font-size="10" font-weight="bold" text-anchor="end" fill="#000" font-family="'Liberation Sans', sans-serif" >2.5</text>
<path d="M339.59999999999997 271.71H343.4" stroke="#000" stroke-width="1.2"/>
<text x="338.80" y="275.31" font-size="10" font-weight="bold" text-anchor="end" fill="#000" font-family="'Liberation Sans', sans-serif" >3.0</text>
<path d="M361.60 384.3v3.6" stroke="#000" stroke-width="1.2"/>
<text x="361.60" y="398.30" font-size="10" font-weight="bold" text-anchor="middle" fill="#000" font-family="'Liberation Sans', sans-serif" >Pre</text>
<path d="M388.15 384.3v3.6" stroke="#000" stroke-width="1.2"/>
<text x="388.15" y="398.30" font-size="10" font-weight="bold" text-anchor="middle" fill="#000" font-family="'Liberation Sans', sans-serif" >2</text>
<path d="M414.70 384.3v3.6" stroke="#000" stroke-width="1.2"/>
<text x="414.70" y="398.30" font-size="10" font-weight="bold" text-anchor="middle" fill="#000" font-family="'Liberation Sans', sans-serif" >4</text>
<path d="M441.25 384.3v3.6" stroke="#000" stroke-width="1.2"/>
<text x="441.25" y="398.30" font-size="10" font-weight="bold" text-anchor="middle" fill="#000" font-family="'Liberation Sans', sans-serif" >8</text>
<path d="M467.80 384.3v3.6" stroke="#000" stroke-width="1.2"/>
<text x="467.80" y="398.30" font-size="10" font-weight="bold" text-anchor="middle" fill="#000" font-family="'Liberation Sans', sans-serif" >12</text>
<text x="415.20" y="410.60" font-size="10.2" font-weight="bold" text-anchor="middle" fill="#000" font-family="'Liberation Sans', sans-serif" >Time (hours)</text>
<text transform="translate(317.5,329) rotate(-90)" font-size="10.3" font-weight="bold" text-anchor="middle" font-family="'Liberation Sans', sans-serif">PA amplitude (a.u.)</text>
<path d="M356.4 284.5H474.5" stroke="#333" stroke-width="0.9"/>
<text x="412.20" y="283.50" font-size="8.6" font-weight="bold" text-anchor="middle" fill="#000" font-family="'Liberation Sans', sans-serif" letter-spacing="0.5">***</text>
</g>
<g id="pF">
<text x="73.30" y="434.20" font-size="12.8" font-weight="bold" text-anchor="middle" fill="#000" font-family="'Liberation Sans', sans-serif" >0h</text>
<text x="169.30" y="434.20" font-size="12.8" font-weight="bold" text-anchor="middle" fill="#000" font-family="'Liberation Sans', sans-serif" >2h</text>
<text x="260.60" y="434.20" font-size="12.8" font-weight="bold" text-anchor="middle" fill="#000" font-family="'Liberation Sans', sans-serif" >4h</text>
<text x="352.30" y="434.20" font-size="12.8" font-weight="bold" text-anchor="middle" fill="#000" font-family="'Liberation Sans', sans-serif" >8h</text>
<text x="448.40" y="434.20" font-size="12.8" font-weight="bold" text-anchor="middle" fill="#000" font-family="'Liberation Sans', sans-serif" >12h</text>
<defs>
<radialGradient id="hz0"><stop offset="0" stop-color="#b00000" stop-opacity="0.95"/><stop offset="0.3" stop-color="#8a0000" stop-opacity="0.9"/><stop offset="0.6" stop-color="#5a0000" stop-opacity="0.7"/><stop offset="0.85" stop-color="#300000" stop-opacity="0.35"/><stop offset="1" stop-color="#200000" stop-opacity="0"/></radialGradient>
<radialGradient id="hz1"><stop offset="0" stop-color="#b80000" stop-opacity="0.95"/><stop offset="0.45" stop-color="#900000" stop-opacity="0.9"/><stop offset="0.75" stop-color="#600000" stop-opacity="0.7"/><stop offset="1" stop-color="#200000" stop-opacity="0"/></radialGradient>
<radialGradient id="hz3"><stop offset="0" stop-color="#8c0000" stop-opacity="0.95"/><stop offset="0.5" stop-color="#7a0000" stop-opacity="0.92"/><stop offset="0.82" stop-color="#660000" stop-opacity="0.88"/><stop offset="0.93" stop-color="#440000" stop-opacity="0.6"/><stop offset="1" stop-color="#200000" stop-opacity="0"/></radialGradient>
<radialGradient id="hz4"><stop offset="0" stop-color="#b40000" stop-opacity="0.95"/><stop offset="0.35" stop-color="#8c0000" stop-opacity="0.9"/><stop offset="0.65" stop-color="#560000" stop-opacity="0.7"/><stop offset="0.88" stop-color="#2c0000" stop-opacity="0.3"/><stop offset="1" stop-color="#200000" stop-opacity="0"/></radialGradient>
<radialGradient id="sf0"><stop offset="0" stop-color="#300000" stop-opacity="0.8"/><stop offset="0.55" stop-color="#1c0000" stop-opacity="0.5"/><stop offset="1" stop-color="#0a0000" stop-opacity="0"/></radialGradient>
</defs>
<clipPath id="cf0"><rect x="26.9" y="441.9" width="87.30000000000001" height="87.10000000000002"/></clipPath>
<rect x="26.9" y="441.9" width="87.30000000000001" height="87.10000000000002" fill="#090000"/>
<clipPath id="cf1"><rect x="123.3" y="441.9" width="86.10000000000001" height="87.10000000000002"/></clipPath>
<rect x="123.3" y="441.9" width="86.10000000000001" height="87.10000000000002" fill="#090000"/>
<clipPath id="cf2"><rect x="217.6" y="441.9" width="90.4" height="87.10000000000002"/></clipPath>
<rect x="217.6" y="441.9" width="90.4" height="87.10000000000002" fill="#090000"/>
<clipPath id="cf3"><rect x="316.8" y="441.9" width="81.09999999999997" height="87.10000000000002"/></clipPath>
<rect x="316.8" y="441.9" width="81.09999999999997" height="87.10000000000002" fill="#090000"/>
<clipPath id="cf4"><rect x="407.0" y="441.9" width="82.0" height="87.10000000000002"/></clipPath>
<rect x="407.0" y="441.9" width="82.0" height="87.10000000000002" fill="#090000"/>
<g clip-path="url(#cf0)">
<ellipse cx="74" cy="485" rx="42" ry="42" fill="url(#sf0)"/>
<g filter="url(#nz0)"><ellipse cx="77" cy="488" rx="32" ry="31" fill="url(#hz0)"/></g>
<g filter="url(#b1)" opacity="0.5">
<path d="M87.0 517.0A27.5 22.3 14 0 1 71.5 519.7 M68.2 464.0A25.9 27.3 75 0 1 84.5 463.0 M89.7 501.3A17.9 18.7 14 0 1 74.3 511.2 M66.6 504.0A16.9 19.0 37 0 1 56.5 488.6 M102.7 479.8A20.6 18.6 31 0 1 105.4 490.7 M67.8 461.0A29.3 32.1 88 0 1 95.0 462.2 M88.1 466.1A17.9 18.6 69 0 1 97.1 478.9 M80.9 463.9A29.9 31.3 5 0 1 110.2 480.4 M55.4 476.2A27.9 28.5 36 0 1 74.8 462.3 M96.6 498.9A15.6 17.7 77 0 1 87.8 504.1 M64.6 448.0A25.7 22.0 82 0 1 84.1 446.5 M100.8 477.2A23.7 19.7 55 0 1 103.6 487.4 M87.1 518.3A23.3 26.4 35 0 1 63.6 514.2 M95.8 489.8A29.5 32.9 42 0 1 82.7 515.0 M69.2 503.6A17.1 17.4 57 0 1 59.7 496.1 M67.5 466.5A29.0 28.3 83 0 1 79.9 461.9 M61.9 485.7A16.9 18.6 64 0 1 67.6 479.4 M58.8 476.6A24.6 22.4 52 0 1 65.2 467.4 M88.3 489.8A20.1 19.1 14 0 1 66.8 493.5 M95.8 481.7A20.9 24.4 81 0 1 99.0 490.8 M94.7 476.4A18.9 20.3 57 0 1 90.0 493.8 M95.2 491.6A14.7 11.8 89 0 1 92.2 500.7 M95.9 493.1A15.4 14.7 64 0 1 93.4 500.2 M86.1 511.1A19.3 16.6 79 0 1 71.6 498.4 M68.9 505.5A22.7 25.6 2 0 1 56.2 489.8 M91.1 503.1A15.5 13.1 20 0 1 83.2 505.2" stroke="#8a0000" stroke-width="0.8" fill="none"/>
</g>
<g filter="url(#b15)" opacity="0.6">
<path d="M88.3 506.6A17.9 17.2 37 0 1 78.7 509.7 M67.1 476.0A14.4 12.5 13 0 1 73.8 466.9 M70.3 495.2A10.5 9.6 21 0 1 78.0 492.9 M90.0 477.3A24.6 20.6 77 0 1 95.8 509.8 M75.1 509.0A15.0 17.6 70 0 1 64.2 504.6 M74.0 473.2A15.8 17.5 24 0 1 86.8 475.0 M80.9 509.0A18.6 20.9 5 0 1 65.9 511.1 M54.1 488.7A29.9 32.4 18 0 1 76.7 463.2 M87.3 506.4A18.3 16.6 45 0 1 67.7 500.3 M77.8 513.7A22.7 25.8 90 0 1 59.1 511.7 M81.1 521.4A22.3 19.4 58 0 1 63.6 514.9 M94.9 487.3A11.7 12.5 41 0 1 93.2 496.4 M87.6 460.6A29.3 34.5 79 0 1 109.2 476.5 M94.6 473.0A22.4 20.1 76 0 1 99.1 490.3 M93.0 490.6A10.2 11.3 46 0 1 89.0 496.1 M90.8 507.0A18.8 15.9 7 0 1 68.0 495.0 M95.3 509.3A23.5 23.4 31 0 1 83.4 513.7 M70.2 516.2A26.7 28.3 25 0 1 51.8 482.7 M91.3 493.8A18.2 16.4 54 0 1 80.3 506.6 M81.1 493.5A10.6 9.4 29 0 1 73.9 490.3 M86.7 480.9A16.5 14.0 72 0 1 90.2 494.0 M73.3 474.1A23.1 23.0 11 0 1 90.5 496.5" stroke="#800000" stroke-width="1.2" fill="none"/>
<path d="M78.0 465.0L82.8 452.2 M60.2 475.6L41.7 467.3 M63.1 466.7L56.6 456.2 M76.1 467.2L82.2 447.3 M74.7 466.2L77.6 450.0 M72.6 467.0L73.4 449.3 M77.5 467.8L85.4 448.4 M72.9 463.8L73.5 452.3 M55.0 481.9L36.8 482.8 M64.1 470.1L56.3 459.3 M70.7 466.6L68.7 443.8 M68.9 467.3L64.7 448.6 M58.5 469.6L44.0 457.2 M65.2 466.3L57.9 450.3 M78.8 464.5L81.3 458.5 M59.8 470.6L50.5 462.6" stroke="#4c0000" stroke-width="1.0" fill="none"/>
</g>
<g filter="url(#b1)" fill="none" stroke="#7c0000" stroke-width="1.4" opacity="0.85"><path d="M93 476Q101 488 97 500Q92 508 84 511M88 480Q93 490 89 500M80 496Q84 504 92 506"/></g>
<g filter="url(#b1)">
<ellipse cx="72" cy="477" rx="5.6" ry="5.2" fill="#0b0000" opacity="0.8"/>
<path d="M60.8 483.3L63.5 483.6L65.2 485.7L62.5 485.4Z M77.6 487.3L80.3 489.4L80.4 492.7L77.7 490.6Z M84.1 482.9L86.6 484.3L86.9 487.1L84.4 485.7Z M72.6 491.7L74.5 493.6L74.4 496.3L72.5 494.4Z M65.1 489.4L67.4 488.9L68.9 490.6L66.6 491.1Z M87.3 489.6L89.1 491.7L88.7 494.4L86.9 492.3Z M80.9 495.3L83.1 496.3L83.1 498.7L80.9 497.7Z" fill="#0b0000"/>
</g>
<path d="M57.3 472.3L60.3 475.3L68.4 483.4L75.6 485.2L83.8 477.1L88.3 473.5M73.8 485L76.5 491.5" stroke="#b00000" stroke-width="3.0" fill="none" stroke-linecap="round" stroke-linejoin="round" filter="url(#b15)" opacity="0.6"/>
<g filter="url(#b1)" fill="none" stroke-linecap="round" stroke-linejoin="round">
<path d="M64.5 473Q71 466.5 79 471Q82.5 474.5 83.5 477" stroke="#a00000" stroke-width="1.5"/>
<path d="M57.3 472.3L60.3 475.3L68.4 483.4L75.6 485.2L83.8 477.1L88.3 473.5M73.8 485L76.5 491.5" stroke="#d81200" stroke-width="1.6"/>
<path d="M63.5 478.5L68.4 483.4L74.5 485" stroke="#ffa828" stroke-width="1.0"/>
</g></g>
<g clip-path="url(#cf1)">
<ellipse cx="167" cy="488" rx="42" ry="42" fill="url(#sf0)"/>
<g filter="url(#nz1)"><ellipse cx="167.5" cy="490" rx="30" ry="32.5" fill="url(#hz1)"/></g>
<g filter="url(#b15)" opacity="0.65">
<path d="M172.2 481.4A10.5 10.5 77 0 1 175.4 486.8 M189.8 495.2A19.1 20.7 57 0 1 173.4 509.3 M181.5 491.0A11.0 12.7 75 0 1 175.7 497.6 M189.1 475.8A22.2 19.6 28 0 1 176.8 512.0 M166.5 494.9A9.6 8.7 5 0 1 159.3 490.2 M192.4 502.5A23.8 23.7 3 0 1 170.4 518.3 M191.1 488.2A23.3 25.8 25 0 1 190.1 502.0 M176.7 491.3A8.1 6.6 10 0 1 166.3 494.7 M175.2 491.7A11.6 12.8 89 0 1 167.3 498.1 M184.7 482.7A19.0 19.4 77 0 1 183.7 495.4 M152.0 474.8A21.3 24.4 51 0 1 161.9 465.3 M188.4 492.9A19.0 20.3 75 0 1 172.3 506.7 M182.0 501.7A23.6 22.3 26 0 1 142.4 496.7 M179.1 495.7A18.3 17.1 55 0 1 153.3 510.3 M174.7 478.1A12.9 11.7 66 0 1 182.4 488.9 M175.9 467.2A22.1 23.9 31 0 1 189.8 491.9 M183.2 499.2A19.7 19.7 71 0 1 152.2 501.1 M171.1 482.5A11.1 9.1 22 0 1 176.0 492.1 M173.9 498.5A10.2 10.0 49 0 1 167.5 500.4 M163.0 510.8A22.4 20.4 11 0 1 145.5 488.6 M159.1 490.9A10.1 10.4 49 0 1 158.4 482.8 M160.4 505.4A19.9 20.8 44 0 1 143.7 482.9 M176.9 504.6A17.5 14.6 28 0 1 153.0 496.6 M155.4 477.9A16.5 13.8 70 0 1 176.9 472.3 M177.2 483.0A17.6 21.1 55 0 1 177.8 494.1 M179.4 478.0A17.7 18.7 69 0 1 182.0 489.9 M176.9 497.3A12.0 12.0 7 0 1 168.4 500.2 M156.6 483.4A9.0 10.3 29 0 1 166.2 480.1 M144.4 494.5A18.3 19.2 10 0 1 152.2 479.0 M178.5 492.0A15.3 16.0 23 0 1 168.1 500.4" stroke="#900000" stroke-width="1.2" fill="none"/>
</g>
<g filter="url(#b1)" opacity="0.55">
<path d="M179.8 506.3A20.3 23.0 56 0 1 154.6 503.3 M153.5 481.1A13.7 13.6 27 0 1 162.3 475.8 M174.4 467.8A22.4 24.2 82 0 1 189.5 485.3 M153.0 510.7A24.4 27.2 88 0 1 143.2 486.4 M160.7 477.0A12.7 13.0 27 0 1 174.4 478.0 M184.7 475.3A17.8 17.3 68 0 1 185.5 496.9 M158.5 480.7A16.5 16.7 45 0 1 177.5 478.5 M182.4 473.8A18.5 17.3 72 0 1 185.6 492.4 M151.3 490.9A20.0 21.0 22 0 1 151.7 476.2 M161.8 501.9A17.7 20.7 18 0 1 150.9 490.5 M175.4 482.8A10.1 8.8 88 0 1 173.1 494.9 M161.7 506.9A19.5 16.5 83 0 1 150.5 497.4 M150.8 496.0A18.5 16.4 87 0 1 155.6 472.9 M171.5 476.9A14.6 12.0 15 0 1 182.0 492.2 M172.0 500.1A16.2 15.6 59 0 1 164.2 501.8 M171.1 504.1A17.9 16.2 23 0 1 160.0 503.5 M185.5 483.2A18.5 16.0 25 0 1 185.7 491.9 M141.6 492.2A22.5 20.4 39 0 1 155.6 467.0 M160.6 486.2A11.8 10.2 40 0 1 165.2 480.6 M186.4 479.6A17.6 21.0 68 0 1 184.6 500.5 M163.9 507.1A17.5 17.3 10 0 1 150.8 496.2 M172.3 500.4A12.1 12.4 73 0 1 160.0 498.2 M175.6 502.6A11.5 9.7 3 0 1 166.5 504.0 M183.3 500.6A20.5 22.7 87 0 1 169.6 510.5 M157.1 480.9A11.5 12.5 73 0 1 166.5 476.9 M173.1 506.6A14.0 14.9 34 0 1 160.9 504.0 M178.2 503.2A18.7 20.3 57 0 1 160.3 505.9 M182.2 474.2A22.3 23.3 27 0 1 187.9 482.6 M176.5 472.8A19.0 21.1 19 0 1 184.5 481.1 M153.9 488.6A16.9 14.0 34 0 1 163.1 471.0" stroke="#a00000" stroke-width="0.8" fill="none"/>
</g>
<g filter="url(#b1)" fill="none" stroke="#a40000" stroke-width="1.2" opacity="0.8"><path d="M146 484Q147 470 158 464M190 482Q189 470 180 465M160 466Q168 463 177 466"/></g>
<path d="M160.8 478.9L166.2 484.3M160.8 487.9L170.7 490.6L179.8 484.3L181.8 481.4M156.5 480L158.5 484.5M172.5 477L176 481M169.8 492L170 494.5" stroke="#b00000" stroke-width="3.0" fill="none" stroke-linecap="round" stroke-linejoin="round" filter="url(#b15)" opacity="0.6"/>
<g filter="url(#b1)" fill="none" stroke-linecap="round">
<path d="M160.8 478.9L166.2 484.3M160.8 487.9L170.7 490.6L179.8 484.3L181.8 481.4M156.5 480L158.5 484.5M172.5 477L176 481M169.8 492L170 494.5" stroke="#e01400" stroke-width="1.5"/>
<path d="M162.3 480.4L165.8 484M163 488.6L170 490.3" stroke="#ffc840" stroke-width="1.1"/>
</g></g>
<g clip-path="url(#cf2)">
<ellipse cx="262" cy="488" rx="44" ry="42" fill="url(#sf0)"/>
<g filter="url(#nz2)"><ellipse cx="261" cy="489.5" rx="31" ry="31" fill="url(#hz1)"/></g>
<g filter="url(#b1)" opacity="0.55">
<path d="M264.1 499.2L264.9 509.7 M251.3 476.0L246.4 472.3 M279.0 486.3L286.3 486.9 M264.7 501.9L265.6 511.0 M270.2 473.1L277.6 460.8 M271.7 497.0L281.3 510.4 M247.7 482.8L234.6 480.8 M277.3 491.1L288.5 495.8 M259.5 495.6L253.1 514.6 M247.9 487.6L232.0 490.4 M259.3 468.9L257.4 460.5 M267.3 472.0L273.1 454.5 M271.4 477.0L278.8 470.0 M266.5 501.4L268.3 510.1 M254.0 475.9L244.4 466.0 M253.1 493.6L242.2 503.1 M248.8 476.7L238.1 470.4 M277.6 478.0L292.7 470.8 M257.3 474.5L248.2 457.6 M279.0 481.4L289.7 479.0 M260.2 473.0L256.1 455.0 M251.6 479.3L244.4 475.7 M273.3 471.5L275.9 468.2 M267.2 472.2L269.9 464.1 M258.7 500.0L254.5 515.2 M277.1 489.0L282.8 490.6 M260.4 472.3L256.8 454.2 M276.9 483.3L295.7 481.0 M258.8 495.7L252.8 510.9 M274.9 487.4L287.8 490.0 M253.8 477.4L247.2 471.9 M271.7 475.5L284.9 461.0 M273.6 477.0L283.7 469.3 M248.3 483.1L235.5 481.5 M249.3 479.6L233.0 473.3 M249.4 484.4L233.7 483.7 M264.0 497.8L265.5 517.6 M248.8 483.1L243.0 482.3 M250.5 492.4L245.5 495.3 M252.0 475.2L247.5 471.2 M253.4 475.1L242.9 464.3 M253.8 497.2L245.2 508.7 M274.3 486.6L291.5 489.0 M275.2 482.1L288.2 479.1 M252.2 477.9L242.3 471.4 M257.9 497.2L252.4 510.6 M258.9 497.6L253.6 513.5 M277.2 487.4L292.1 490.0 M258.5 496.5L251.8 513.3 M263.9 497.1L264.8 510.6 M259.3 474.0L255.2 462.1 M255.0 498.8L250.1 507.2" stroke="#780000" stroke-width="0.9" fill="none"/>
</g>
<g filter="url(#b15)" opacity="0.6">
<path d="M270.9 507.6A22.0 20.9 35 0 1 258.5 512.4 M262.2 513.6A25.6 26.8 56 0 1 247.2 511.1 M246.5 485.0A13.8 13.9 43 0 1 254.8 478.1 M268.6 481.1A11.6 12.3 28 0 1 265.6 495.9 M285.5 510.8A27.0 23.1 40 0 1 260.7 519.9 M282.6 470.1A27.6 27.7 10 0 1 286.9 499.9 M237.8 494.2A20.7 16.8 10 0 1 244.5 475.8 M251.8 506.1A21.9 23.6 86 0 1 243.5 487.6 M248.4 503.0A16.0 17.7 22 0 1 244.5 485.7 M246.0 488.5A17.7 17.2 49 0 1 253.2 476.3 M265.1 515.8A23.6 21.4 55 0 1 249.6 513.4 M280.0 498.7A21.5 19.0 36 0 1 263.6 512.9 M258.6 516.2A25.4 25.0 70 0 1 231.7 492.0 M279.1 478.7A23.5 21.3 43 0 1 282.6 492.2 M261.8 512.2A19.0 18.0 69 0 1 249.3 507.8 M263.2 474.6A15.8 16.7 29 0 1 275.3 491.5" stroke="#8a0000" stroke-width="1.2" fill="none"/>
</g>
<g filter="url(#b1)" fill="none" stroke="#8c0000" stroke-width="1.3" opacity="0.65"><path d="M237 470Q232 484 238 498Q246 512 260 516"/><path d="M242 474Q238 490 246 503"/></g>
<g filter="url(#b1)">
<ellipse cx="260.8" cy="479" rx="6.2" ry="5.6" fill="#0b0000" opacity="0.75"/>
<path d="M248.9 487.6L251.8 487.8L253.1 490.4L250.2 490.2Z M265.1 490.7L267.4 492.5L266.9 495.3L264.6 493.5Z M255.6 492.9L257.8 494.5L258.4 497.1L256.2 495.5Z M269.6 487.6L271.7 488.3L272.4 490.4L270.3 489.7Z" fill="#0b0000"/>
</g>
<path d="M250.6 480.2L254.3 485.8L262.7 487.6L271.1 483L273.9 477.4L267.4 472.7M259.8 487.5L263.6 497" stroke="#b00000" stroke-width="3.0" fill="none" stroke-linecap="round" stroke-linejoin="round" filter="url(#b15)" opacity="0.6"/>
<g filter="url(#b1)" fill="none" stroke-linecap="round" stroke-linejoin="round">
<path d="M253 474.5Q259 468 267.4 472.7" stroke="#b00000" stroke-width="1.5"/>
<path d="M250.6 480.2L254.3 485.8L262.7 487.6L271.1 483L273.9 477.4L267.4 472.7M259.8 487.5L263.6 497" stroke="#e01400" stroke-width="1.6"/>
<path d="M256 486.3L267.5 485" stroke="#ff7010" stroke-width="1.4"/>
<path d="M259 486.7L265 486.2" stroke="#ffe840" stroke-width="1.2"/>
</g></g>
<g clip-path="url(#cf3)">
<ellipse cx="358.5" cy="487.2" rx="34.5" ry="37" fill="url(#hz3)" filter="url(#b1)"/>
<g filter="url(#nz3)" opacity="0.6"><ellipse cx="358.5" cy="487.2" rx="33" ry="35.5" fill="#240000"/></g>
<g filter="url(#b3)" fill="none" stroke-linecap="round">
<path d="M370 460Q389 474 385 498" stroke="#c00000" stroke-width="8" opacity="0.8"/>
<path d="M324 470Q336 452 352 446" stroke="#090000" stroke-width="9" opacity="0.9"/>
<path d="M334 500Q344 518 368 516" stroke="#b40000" stroke-width="7" opacity="0.7"/>
<path d="M338 462Q330 480 337 500" stroke="#300000" stroke-width="4" opacity="0.7"/>
<path d="M346 458Q358 454 372 460" stroke="#380000" stroke-width="4" opacity="0.6"/>
</g>
<path d="M352.2 454Q358 451.6 364.8 455" stroke="#cc1000" stroke-width="1.6" fill="none" filter="url(#b1)"/>
<g filter="url(#b1)">
<ellipse cx="360.6" cy="475.5" rx="5.6" ry="5.4" fill="#0e0000" opacity="0.8"/>
<path d="M348.7 482.1L351.7 483.2L353.3 485.9L350.3 484.8Z M361.2 487.4L364.1 490.4L364.8 494.6L361.9 491.6Z M367.3 484.3L370.4 486.3L371.7 489.7L368.6 487.7Z M356.6 491.3L359.1 493.4L359.4 496.7L356.9 494.6Z M371.4 492.5L374.1 494.3L374.6 497.5L371.9 495.7Z M364.9 498.2L366.9 500.7L367.1 503.8L365.1 501.3Z M351.8 488.8L354.4 489.2L356.2 491.2L353.6 490.8Z M349.7 476.0L351.4 477.8L350.3 480.0L348.6 478.2Z M370.3 480.2L372.8 481.3L373.7 483.8L371.2 482.7Z M360.1 496.7L362.0 498.6L361.9 501.3L360.0 499.4Z M375.6 487.9L378.3 489.2L378.4 492.1L375.7 490.8Z" fill="#0e0000"/>
</g>
<path d="M348.8 472.1L356.4 483.1L361.5 485.1L369.9 477.2L373 475.6M359 484.5L366.5 495" stroke="#b00000" stroke-width="3.0" fill="none" stroke-linecap="round" stroke-linejoin="round" filter="url(#b15)" opacity="0.6"/>
<g filter="url(#b1)" fill="none" stroke-linecap="round" stroke-linejoin="round">
<circle cx="360.6" cy="475.5" r="7.7" stroke="#d40000" stroke-width="1.7"/>
<path d="M348.8 472.1L356.4 483.1L361.5 485.1L369.9 477.2L373 475.6M359 484.5L366.5 495" stroke="#ec1800" stroke-width="1.7"/>
<path d="M352.5 477.6L356.4 483.1L361 484.8" stroke="#ff9828" stroke-width="1.0"/>
</g></g>
<g clip-path="url(#cf4)">
<ellipse cx="449" cy="486" rx="42" ry="42" fill="url(#sf0)"/>
<g filter="url(#nz4)"><ellipse cx="448" cy="486.5" rx="27" ry="28" fill="url(#hz4)"/></g>
<g filter="url(#b15)" opacity="0.5">
<path d="M458.4 500.2A18.3 14.8 87 0 1 433.0 494.7 M460.5 497.5A13.1 12.4 50 0 1 448.5 501.6 M461.9 473.0A20.0 17.8 65 0 1 464.5 498.3 M424.8 488.2A19.8 22.1 56 0 1 432.9 470.9 M427.6 491.6A17.0 20.4 62 0 1 430.5 469.2 M443.0 481.3A10.7 12.0 2 0 1 451.6 473.0 M463.7 500.4A20.4 16.7 59 0 1 453.5 507.8 M457.7 472.6A12.1 12.4 64 0 1 458.7 481.5 M452.3 475.7A12.4 14.4 43 0 1 458.6 483.7 M461.3 465.3A18.6 15.9 86 0 1 469.7 477.1 M462.9 476.5A19.8 18.1 5 0 1 457.9 500.1 M452.1 474.9A11.6 13.3 63 0 1 458.6 485.4 M431.1 476.9A19.8 22.0 75 0 1 446.6 465.6 M430.0 475.3A17.5 19.3 48 0 1 438.1 469.9" stroke="#7a0000" stroke-width="1.2" fill="none"/>
</g>
<g filter="url(#b1)">
<ellipse cx="445.2" cy="475" rx="5.8" ry="5.6" fill="#0c0000" opacity="0.75"/>
<path d="M438.3 487.7L440.7 488.8L441.7 491.3L439.3 490.2Z M449.7 489.7L451.9 492.7L452.3 496.3L450.1 493.3Z M454.9 486.0L457.4 487.3L458.1 490.0L455.6 488.7Z M445.1 494.7L446.9 496.6L446.9 499.3L445.1 497.4Z M452.1 498.2L453.8 499.6L453.9 501.8L452.2 500.4Z" fill="#0c0000"/>
</g>
<path d="M433.3 476.8L440.9 485.3L446 486.7L452.8 482.7L455.4 477.6M446.3 486.8L448.6 493.8" stroke="#b00000" stroke-width="3.0" fill="none" stroke-linecap="round" stroke-linejoin="round" filter="url(#b15)" opacity="0.6"/>
<g filter="url(#b1)" fill="none" stroke-linecap="round" stroke-linejoin="round">
<circle cx="445.2" cy="475.1" r="8.4" stroke="#960000" stroke-width="1.4"/>
<path d="M433.3 476.8L440.9 485.3L446 486.7L452.8 482.7L455.4 477.6M446.3 486.8L448.6 493.8" stroke="#e01400" stroke-width="1.6"/>
<path d="M436 479.8L440.5 484.8" stroke="#ff8828" stroke-width="1.0"/>
</g></g>
<text x="467.60" y="523.90" font-size="9.0" font-weight="bold" text-anchor="middle" fill="#fff" font-family="'Liberation Sans', sans-serif" >4×4 mm<tspan dy="-3" font-size="5.8">2</tspan></text>
<rect x="189.8" y="539.1" width="146.1" height="4.9" fill="url(#hot)"/>
<path d="M305 539.1H335.9V544H305" fill="none" stroke="#b0b0b0" stroke-width="0.45"/>
<text x="175.60" y="546.50" font-size="12.9" font-weight="bold" text-anchor="middle" fill="#000" font-family="'Liberation Sans', sans-serif" >0</text>
<text x="351.00" y="546.50" font-size="12.9" font-weight="bold" text-anchor="middle" fill="#000" font-family="'Liberation Sans', sans-serif" >3</text>
</g>
</svg>
</body></html>
